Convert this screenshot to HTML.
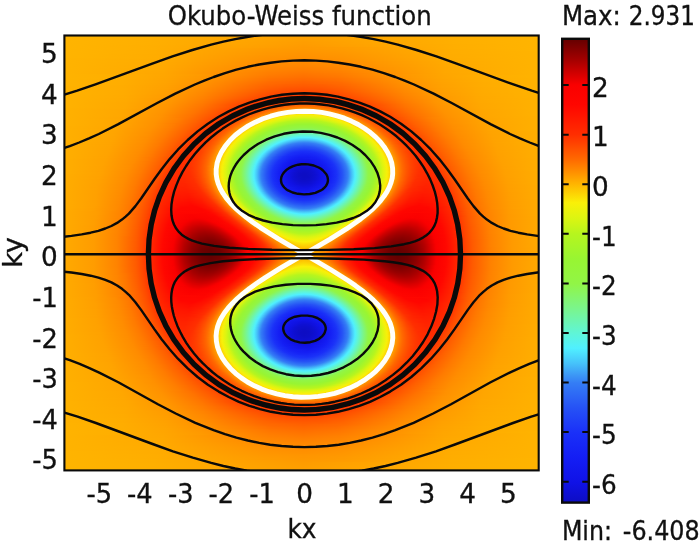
<!DOCTYPE html>
<html><head><meta charset="utf-8"><title>Okubo-Weiss function</title>
<style>
html,body{margin:0;padding:0;background:#fff}
body{width:700px;height:544px;position:relative;overflow:hidden}
#f{position:absolute;left:64px;top:35px;width:475px;height:436px;overflow:hidden}
#f i{display:block;height:1px;width:100%}
</style></head><body>
<div id="f">
<i style="background:linear-gradient(90deg,#ffb400 0,#ffa200 240px,#ffb400 475px)"></i>
<i style="background:linear-gradient(90deg,#ffb400 0,#ffb000 85px,#ffa100 240px,#ffb400 475px)"></i>
<i style="background:linear-gradient(90deg,#ffb400 0,#ffb000 85px,#ffa000 240px,#ffb400 475px)"></i>
<i style="background:linear-gradient(90deg,#ffb400 0,#ffb000 86px,#ffa000 240px,#ffb000 394px,#ffb400 475px)"></i>
<i style="background:linear-gradient(90deg,#ffb400 0,#ffaf00 86px,#ff9f00 240px,#ffaf00 394px,#ffb400 475px)"></i>
<i style="background:linear-gradient(90deg,#ffb400 0,#ffaf00 87px,#ff9f00 240px,#ffaf00 393px,#ffb400 475px)"></i>
<i style="background:linear-gradient(90deg,#ffb400 0,#ffaf00 87px,#ff9e00 240px,#ffaf00 393px,#ffb400 475px)"></i>
<i style="background:linear-gradient(90deg,#ffb400 0,#ffaf00 87px,#ff9d00 240px,#ffaf00 392px,#ffb400 475px)"></i>
<i style="background:linear-gradient(90deg,#ffb400 0,#ffaf00 88px,#ff9d00 240px,#ffaf00 392px,#ffb400 475px)"></i>
<i style="background:linear-gradient(90deg,#ffb400 0,#ffaf00 88px,#ff9c00 240px,#ffae00 391px,#ffb400 475px)"></i>
<i style="background:linear-gradient(90deg,#ffb400 0,#ffae00 89px,#ff9b00 240px,#ffae00 391px,#ffb400 475px)"></i>
<i style="background:linear-gradient(90deg,#ffb400 0,#ffae00 89px,#ff9a00 240px,#ffae00 391px,#ffb400 475px)"></i>
<i style="background:linear-gradient(90deg,#ffb400 0,#ffae00 90px,#f90 240px,#ff9c00 280px,#ffae00 390px,#ffb400 475px)"></i>
<i style="background:linear-gradient(90deg,#ffb400 0,#ffae00 90px,#ff9c00 201px,#f90 240px,#ff9c00 280px,#ffae00 390px,#ffb400 475px)"></i>
<i style="background:linear-gradient(90deg,#ffb400 0,#ffae00 90px,#ff9b00 201px,#ff9800 240px,#ff9b00 279px,#ffad00 389px,#ffb400 475px)"></i>
<i style="background:linear-gradient(90deg,#ffb400 0,#ffad00 91px,#ff9a00 202px,#ff9700 240px,#ff9a00 279px,#ffad00 389px,#ffb400 475px)"></i>
<i style="background:linear-gradient(90deg,#ffb400 0,#ffad00 91px,#f90 202px,#ff9600 240px,#f90 279px,#ffad00 388px,#ffb300 475px)"></i>
<i style="background:linear-gradient(90deg,#ffb400 0,#ffad00 92px,#ff9800 202px,#ff9500 240px,#ff9800 279px,#ffad00 388px,#ffb300 475px)"></i>
<i style="background:linear-gradient(90deg,#ffb400 0,#ffad00 92px,#ff9700 202px,#ff9400 240px,#ff9700 278px,#ffad00 388px,#ffb300 475px)"></i>
<i style="background:linear-gradient(90deg,#ffb400 0,#ffac00 93px,#ff9700 202px,#ff9300 240px,#ff9600 278px,#ffac00 387px,#ffb300 475px)"></i>
<i style="background:linear-gradient(90deg,#ffb400 0,#ffac00 93px,#ff9500 203px,#ff9200 240px,#ff9500 278px,#ffac00 387px,#ffb300 475px)"></i>
<i style="background:linear-gradient(90deg,#ffb400 0,#ffac00 94px,#ff9400 203px,#ff9100 240px,#ff9400 278px,#ffac00 386px,#ffb300 475px)"></i>
<i style="background:linear-gradient(90deg,#ffb400 0,#ffac00 94px,#ff9300 203px,#ff9000 240px,#ff9300 278px,#ffac00 386px,#ffb300 475px)"></i>
<i style="background:linear-gradient(90deg,#ffb300 0,#ffac00 94px,#ff9200 203px,#ff8e00 240px,#ff9200 277px,#ffab00 385px,#ffb300 475px)"></i>
<i style="background:linear-gradient(90deg,#ffb300 0,#ffab00 95px,#ff9100 204px,#ff8d00 240px,#ff9100 277px,#ffab00 385px,#ffb300 475px)"></i>
<i style="background:linear-gradient(90deg,#ffb300 0,#ffab00 95px,#ff9000 204px,#ff8c00 240px,#ff9000 277px,#ffab00 385px,#ffb300 475px)"></i>
<i style="background:linear-gradient(90deg,#ffb300 0,#ffab00 95px,#ff8f00 203px,#ff8b00 240px,#ff8f00 278px,#fa0 384px,#ffb300 475px)"></i>
<i style="background:linear-gradient(90deg,#ffb300 0,#fa0 96px,#ff8e00 202px,#ff8900 240px,#ff8e00 279px,#fa0 384px,#ffb300 475px)"></i>
<i style="background:linear-gradient(90deg,#ffb300 0,#fa0 96px,#ff8d00 202px,#f80 240px,#ff8d00 278px,#fa0 384px,#ffb300 475px)"></i>
<i style="background:linear-gradient(90deg,#ffb300 0,#fa0 96px,#ff8c00 203px,#ff8700 240px,#ff8c00 278px,#ffa900 383px,#ffb300 475px)"></i>
<i style="background:linear-gradient(90deg,#ffb300 0,#ffa900 97px,#ff8a00 203px,#ff8500 240px,#ff8a00 278px,#ffa900 383px,#ffb300 475px)"></i>
<i style="background:linear-gradient(90deg,#ffb300 0,#ffa900 97px,#ff8900 203px,#ff8400 240px,#ff8900 277px,#ffa900 383px,#ffb300 475px)"></i>
<i style="background:linear-gradient(90deg,#ffb300 0,#ffa900 97px,#ff8700 204px,#ff8200 240px,#ff8700 277px,#ffa800 382px,#ffb300 475px)"></i>
<i style="background:linear-gradient(90deg,#ffb300 0,#ffa800 98px,#ff8600 204px,#ff8000 240px,#ff8600 277px,#ffa800 382px,#ffb300 475px)"></i>
<i style="background:linear-gradient(90deg,#ffb300 0,#ffa800 98px,#ff8500 204px,#ff7f00 240px,#ff8500 277px,#ffa800 382px,#ffb300 475px)"></i>
<i style="background:linear-gradient(90deg,#ffb300 0,#ffa800 98px,#ff8300 204px,#ff7d00 240px,#ff8300 276px,#ffa700 381px,#ffb300 475px)"></i>
<i style="background:linear-gradient(90deg,#ffb300 0,#ffa700 99px,#ff8100 205px,#ff7b00 240px,#ff8100 276px,#ffa700 381px,#ffb300 475px)"></i>
<i style="background:linear-gradient(90deg,#ffb300 0,#ffa700 99px,#ff7f00 205px,#ff7900 240px,#ff8000 276px,#ffa700 381px,#ffb300 475px)"></i>
<i style="background:linear-gradient(90deg,#ffb300 0,#ffa600 100px,#ff7e00 205px,#f70 240px,#ff7d00 275px,#ffa600 380px,#ffb300 475px)"></i>
<i style="background:linear-gradient(90deg,#ffb300 0,#ffae00 56px,#ffa600 100px,#ff9a00 136px,#ff7c00 206px,#ff7500 240px,#ff7c00 275px,#ff9a00 345px,#ffa600 380px,#ffb300 475px)"></i>
<i style="background:linear-gradient(90deg,#ffb300 0,#ffae00 56px,#ffa600 100px,#ff9a00 136px,#ff7a00 206px,#ff7300 240px,#ff7a00 275px,#f90 344px,#ffa500 379px,#ffae00 421px,#ffb300 475px)"></i>
<i style="background:linear-gradient(90deg,#ffb300 0,#ffae00 57px,#ffa500 101px,#ff9800 137px,#ff7800 206px,#ff7100 240px,#ff7800 274px,#ff9800 344px,#ffa500 379px,#ffae00 421px,#ffb300 475px)"></i>
<i style="background:linear-gradient(90deg,#ffb300 0,#ffae00 57px,#ffa500 101px,#ff9800 137px,#ff7600 207px,#ff6f00 240px,#ff7600 274px,#ff9800 344px,#ffa500 379px,#ffad00 421px,#ffb300 475px)"></i>
<i style="background:linear-gradient(90deg,#ffb300 0,#ffae00 58px,#ffa400 102px,#ff9700 137px,#ff7300 207px,#ff6c00 240px,#ff7300 274px,#ff9600 343px,#ffa400 378px,#ffad00 421px,#ffb200 475px)"></i>
<i style="background:linear-gradient(90deg,#ffb300 0,#ffad00 58px,#ffa400 102px,#ff9600 137px,#ff7100 207px,#ff6a00 240px,#ff7100 274px,#ff9600 343px,#ffa300 378px,#ffad00 421px,#ffb200 475px)"></i>
<i style="background:linear-gradient(90deg,#ffb300 0,#ffad00 58px,#ffa300 102px,#ff9500 138px,#ff6f00 208px,#ff6800 240px,#ff6f00 273px,#ff9500 343px,#ffa300 378px,#ffad00 420px,#ffb200 475px)"></i>
<i style="background:linear-gradient(90deg,#ffb300 0,#ffad00 58px,#ffa300 102px,#ff9400 138px,#ff6c00 208px,#ff6500 240px,#ff6c00 272px,#ff9400 343px,#ffa300 378px,#ffad00 420px,#ffb200 475px)"></i>
<i style="background:linear-gradient(90deg,#ffb300 0,#ffad00 58px,#ffa300 102px,#ff9300 138px,#ff6a00 207px,#ff6300 240px,#ff6a00 274px,#ff9300 342px,#ffa200 378px,#ffac00 420px,#ffb200 475px)"></i>
<i style="background:linear-gradient(90deg,#ffb300 0,#ffad00 58px,#ffa200 102px,#ff9200 138px,#ff6a00 203px,#ff6100 240px,#ff6a00 278px,#ff9200 342px,#ffa200 378px,#ffac00 420px,#ffb200 475px)"></i>
<i style="background:linear-gradient(90deg,#ffb300 0,#ffad00 58px,#ffa200 102px,#ff9100 139px,#ff6a00 199px,#ff6100 221px,#ff5e00 240px,#ff6100 259px,#ff6900 281px,#ff9100 342px,#ffa100 378px,#ffac00 420px,#ffb200 475px)"></i>
<i style="background:linear-gradient(90deg,#ffb300 0,#ffac00 58px,#ffa100 102px,#ff8d00 143px,#ff6700 200px,#ff5f00 221px,#ff5c00 240px,#ff5e00 259px,#ff6700 280px,#ff8d00 338px,#ffa100 378px,#ffac00 420px,#ffb200 475px)"></i>
<i style="background:linear-gradient(90deg,#ffb200 0,#ffac00 58px,#ffa100 102px,#ff8d00 142px,#ff6400 201px,#ff5c00 222px,#ff5900 240px,#ff5c00 259px,#ff6400 280px,#ff8d00 339px,#ffa100 378px,#ffac00 420px,#ffb200 475px)"></i>
<i style="background:linear-gradient(90deg,#ffb200 0,#ffac00 58px,#ffa000 102px,#ff8c00 141px,#ff6200 202px,#ff5900 222px,#ff5600 240px,#ff5900 258px,#ff6200 279px,#ff8c00 339px,#ffa000 377px,#ffab00 419px,#ffb200 475px)"></i>
<i style="background:linear-gradient(90deg,#ffb200 0,#ffac00 59px,#ffa000 103px,#ff8b00 141px,#ff5f00 203px,#ff5600 222px,#ff5300 240px,#ff5600 258px,#ff5f00 278px,#ff8b00 340px,#ff9f00 377px,#ffab00 419px,#ffb200 475px)"></i>
<i style="background:linear-gradient(90deg,#ffb200 0,#ffac00 59px,#ff9f00 103px,#ff8a00 141px,#ff5c00 203px,#ff5300 222px,#ff5000 240px,#ff5300 258px,#ff5c00 277px,#ff8a00 340px,#ff9f00 377px,#ffab00 419px,#ffb200 475px)"></i>
<i style="background:linear-gradient(90deg,#ffb200 0,#ffab00 59px,#ff9f00 103px,#ff8a00 140px,#ff5900 204px,#ff5000 223px,#ff4d00 240px,#ff5000 257px,#ff5800 276px,#ff8a00 341px,#ff9e00 377px,#ffab00 419px,#ffb200 475px)"></i>
<i style="background:linear-gradient(90deg,#ffb200 0,#ffab00 59px,#ff9e00 103px,#ff8900 140px,#ff5600 205px,#ff4d00 223px,#ff4a00 240px,#ff4c00 257px,#ff5600 276px,#ff8900 341px,#ff9e00 377px,#ffab00 419px,#ffb200 475px)"></i>
<i style="background:linear-gradient(90deg,#ffb200 0,#ffab00 59px,#ff9e00 103px,#f80 139px,#ff5200 206px,#ff4900 224px,#ff4600 240px,#ff4900 257px,#ff5200 275px,#f80 341px,#ff9d00 377px,#ffab00 419px,#ffb200 475px)"></i>
<i style="background:linear-gradient(90deg,#ffb200 0,#ffab00 60px,#ff9d00 104px,#ff8700 139px,#ff4f00 206px,#ff4600 224px,#ff4300 240px,#ff4600 257px,#ff4f00 275px,#ff8600 341px,#ff9c00 376px,#fa0 418px,#ffb200 475px)"></i>
<i style="background:linear-gradient(90deg,#ffb200 0,#ffab00 60px,#ff9c00 104px,#ff8600 139px,#ff4b00 207px,#ff4200 224px,#ff3f00 240px,#ff4200 256px,#ff4b00 274px,#ff8600 342px,#ff9c00 376px,#fa0 418px,#ffb200 475px)"></i>
<i style="background:linear-gradient(90deg,#ffb200 0,#fa0 60px,#ff9b00 104px,#ff8500 139px,#ff4800 207px,#ff3e00 224px,#ff3b00 240px,#ff3e00 256px,#ff4700 273px,#ff8500 342px,#ff9b00 376px,#fa0 418px,#ffb200 475px)"></i>
<i style="background:linear-gradient(90deg,#ffb200 0,#fa0 60px,#ff9b00 104px,#ff8300 139px,#f40 208px,#ff3a00 225px,#ff3700 240px,#ff3a00 256px,#f40 273px,#ff8300 342px,#ff9a00 376px,#ffa900 418px,#ffb200 475px)"></i>
<i style="background:linear-gradient(90deg,#ffb200 0,#fa0 61px,#ff9a00 105px,#ff8200 139px,#ff4000 208px,#ff3600 225px,#ff3200 240px,#ff3500 255px,#ff3f00 272px,#ff8200 342px,#f90 375px,#ffa900 417px,#ffb200 475px)"></i>
<i style="background:linear-gradient(90deg,#ffb200 0,#ffa900 62px,#ff9800 106px,#ff8100 139px,#ff3c00 208px,#ff2e00 236px,#ff3000 252px,#ff3a00 270px,#ff8100 342px,#f90 376px,#ffa900 418px,#ffb100 475px)"></i>
<i style="background:linear-gradient(90deg,#ffb200 0,#ffa900 62px,#ff9700 107px,#ff8100 137px,#ff3f00 200px,#ff2e00 222px,#ff3500 239px,#ff2e00 259px,#ff3200 265px,#ff8100 344px,#ff9b00 381px,#fa0 421px,#ffb100 475px)"></i>
<i style="background:linear-gradient(90deg,#ffb200 0,#ffa900 63px,#ff9600 108px,#ff7e00 139px,#ff2e00 215px,#ff3900 229px,#ff3d00 240px,#ff3900 252px,#ff2e00 266px,#ff7e00 342px,#ff9500 372px,#ffa800 415px,#ffb100 475px)"></i>
<i style="background:linear-gradient(90deg,#ffb200 0,#ffa900 62px,#ff9600 107px,#ff7c00 139px,#ff2f00 209px,#ff4000 227px,#ff4500 241px,#ff3f00 255px,#ff2e00 271px,#ff7c00 342px,#ff9500 372px,#ffa800 415px,#ffb100 475px)"></i>
<i style="background:linear-gradient(90deg,#ffb200 0,#ffa800 63px,#ff9500 107px,#ff7b00 139px,#ff2e00 205px,#ff4600 225px,#ff4d00 240px,#ff4600 256px,#ff2e00 276px,#ff7a00 341px,#ff9500 373px,#ffa800 416px,#ffb100 475px)"></i>
<i style="background:linear-gradient(90deg,#ffb200 0,#ffa800 62px,#ff9500 106px,#ff7900 139px,#ff2e00 201px,#ff4c00 223px,#f50 240px,#ff4d00 257px,#ff2e00 280px,#ff7800 341px,#ff9400 373px,#ffa700 416px,#ffb100 475px)"></i>
<i style="background:linear-gradient(90deg,#ffb200 0,#ffa800 62px,#ff9400 106px,#f70 139px,#ff2e00 197px,#f50 223px,#ff5f00 240px,#ff5c00 249px,#ff5400 258px,#ff2f00 284px,#f70 342px,#ff9400 374px,#ffa700 416px,#ffb100 475px)"></i>
<i style="background:linear-gradient(90deg,#ffb200 0,#ffa800 62px,#ff9400 105px,#f70 138px,#ff2e00 194px,#ff5b00 221px,#ff6500 231px,#ff6800 240px,#ff6500 249px,#ff5c00 259px,#ff2e00 287px,#ff7600 342px,#ff9300 374px,#ffa700 416px,#ffb100 475px)"></i>
<i style="background:linear-gradient(90deg,#ffb200 0,#ffa800 61px,#ff9400 104px,#ff7600 137px,#ff5600 163px,#ff2e00 191px,#ff6000 218px,#ff7300 236px,#ff7300 246px,#ff6700 258px,#ff2e00 290px,#f50 317px,#ff7500 343px,#ff9300 375px,#ffa700 417px,#ffb100 475px)"></i>
<i style="background:linear-gradient(90deg,#ffb200 0,#ffa800 61px,#ff9300 104px,#ff7600 136px,#f50 162px,#ff2e00 188px,#ff7000 222px,#ff8000 236px,#ff8000 245px,#ff7600 255px,#ff2e00 293px,#ff5400 318px,#ff7500 344px,#ff9300 376px,#ffa700 417px,#ffb100 475px)"></i>
<i style="background:linear-gradient(90deg,#ffb100 0,#ffa800 60px,#ff9300 103px,#ff7500 135px,#ff5400 161px,#ff2e00 185px,#ff7c00 222px,#ff8d00 236px,#ff8c00 246px,#ff8100 256px,#ff2f00 296px,#ff5400 320px,#ff7400 345px,#ff9300 377px,#ffa700 418px,#ffb100 475px)"></i>
<i style="background:linear-gradient(90deg,#ffb100 0,#ffa700 60px,#ff9300 102px,#ff7500 134px,#f50 158px,#ff2f00 183px,#ff8d00 224px,#ff9a00 234px,#ff9c00 244px,#ff9500 252px,#ff8700 260px,#ff2e00 298px,#ff5400 322px,#ff7500 347px,#ff9300 378px,#ffa600 418px,#ffb100 475px)"></i>
<i style="background:linear-gradient(90deg,#ffb100 0,#ffa700 59px,#ff9300 101px,#ff7400 133px,#ff5300 158px,#ff2e00 180px,#ff4b00 193px,#ff9700 222px,#ffa500 230px,#ffab00 237px,#ffa900 247px,#ff9b00 257px,#ff4800 289px,#ff2f00 301px,#ff5300 323px,#ff7300 347px,#ff9200 378px,#ffa600 418px,#ffb100 475px)"></i>
<i style="background:linear-gradient(90deg,#ffb100 0,#ffa700 59px,#ff9300 100px,#ff7400 132px,#ff5300 156px,#ff2e00 178px,#ff5a00 196px,#ffa300 221px,#ffb200 229px,#ffba01 237px,#ffb800 247px,#ffa900 257px,#ff9600 265px,#ff5400 287px,#ff2e00 303px,#ff5300 325px,#ff7300 348px,#ff9200 379px,#ffa600 419px,#ffb100 475px)"></i>
<i style="background:linear-gradient(90deg,#ffb100 0,#ffa700 58px,#ff9300 99px,#ff7400 131px,#f50 153px,#ff2f00 176px,#ff6200 196px,#ff9e00 214px,#ffb600 223px,#fec702 233px,#fdcb03 243px,#fec302 251px,#ffb100 260px,#ff9a00 268px,#ff6700 283px,#ff4300 296px,#ff2e00 305px,#ff5400 327px,#ff7400 350px,#ff9200 380px,#ffa600 420px,#ffb100 475px)"></i>
<i style="background:linear-gradient(90deg,#ffb100 0,#ffa700 58px,#ff9200 99px,#ff7500 129px,#ff5600 151px,#ff2f00 174px,#ff4700 184px,#ff6a00 196px,#ffa500 212px,#fec302 222px,#fcd705 233px,#fcdb05 243px,#fcd304 251px,#fec101 260px,#ffa500 269px,#ff6a00 285px,#ff4700 297px,#ff2f00 307px,#f50 329px,#ff7300 351px,#ff9200 381px,#ffa600 420px,#ffb100 475px)"></i>
<i style="background:linear-gradient(90deg,#ffb100 0,#ffa700 58px,#ff9200 98px,#ff7300 129px,#ff5200 152px,#ff2f00 171px,#ff4200 180px,#ff6900 193px,#ffac00 210px,#fdce03 220px,#fbe306 229px,#faec07 238px,#fbe807 248px,#fdd304 259px,#ffaf00 270px,#ff6800 288px,#f40 300px,#ff2f00 309px,#f50 331px,#ff7300 352px,#ff9200 382px,#ffa600 421px,#ffb100 475px)"></i>
<i style="background:linear-gradient(90deg,#ffb100 0,#ffa700 57px,#ff9200 97px,#ff7200 128px,#ff5300 150px,#ff2f00 169px,#ff4000 177px,#ff6400 189px,#fdca03 214px,#fbe306 222px,#f9f008 228px,#f1f10b 241px,#f9f008 253px,#faeb07 256px,#fec202 269px,#ff6a00 290px,#ff4700 301px,#ff2f00 311px,#ff5400 332px,#ff7300 353px,#ff9100 382px,#ffa600 421px,#ffb100 475px)"></i>
<i style="background:linear-gradient(90deg,#ffb100 0,#ffa700 56px,#ff9300 96px,#ff7400 126px,#f50 147px,#ff2f00 168px,#ff4500 177px,#ff6800 188px,#fdc903 210px,#f9f008 221px,#ebf20d 231px,#e6f30e 240px,#ebf20d 250px,#faf008 260px,#fdc903 271px,#ff6700 293px,#ff4500 304px,#ff2f00 313px,#ff5400 333px,#ff7200 354px,#ff9100 383px,#ffa600 421px,#ffb000 475px)"></i>
<i style="background:linear-gradient(90deg,#ffb100 0,#ffa600 57px,#ff9200 96px,#ff7200 126px,#ff5400 146px,#ff2f00 166px,#ff4500 175px,#ff6800 186px,#ffb300 202px,#faf008 216px,#e3f40f 228px,#dbf512 240px,#e2f40f 252px,#faf008 265px,#ffb800 278px,#ff6800 295px,#f40 306px,#ff2f00 315px,#ff6200 344px,#ff7f00 365px,#ff9100 384px,#ffa600 422px,#ffb000 475px)"></i>
<i style="background:linear-gradient(90deg,#ffb100 0,#ffa600 56px,#ff9200 95px,#ff7f00 115px,#ff6200 136px,#ff4c00 149px,#ff2e00 164px,#f40 173px,#ff6900 184px,#ffb700 200px,#faf008 212px,#e6f30e 220px,#d6f513 229px,#cdf516 240px,#d6f513 252px,#e7f30e 261px,#faf008 269px,#ffb600 281px,#ff6800 297px,#f40 308px,#ff2e00 317px,#ff4b00 331px,#ff6200 345px,#ff7e00 365px,#ff9000 384px,#ffa500 422px,#ffb000 475px)"></i>
<i style="background:linear-gradient(90deg,#ffb100 0,#ffa700 55px,#ff9200 94px,#ff7f00 114px,#ff6300 134px,#ff4c00 148px,#ff2e00 162px,#f40 171px,#ff6800 182px,#ffb500 197px,#faee08 208px,#eaf20d 214px,#c7f518 230px,#c0f51b 236px,#bff51b 242px,#c3f51a 248px,#ccf517 254px,#f9f008 272px,#ffb400 284px,#ff6800 299px,#ff4300 310px,#ff2e00 319px,#ff4a00 332px,#ff6100 346px,#ff7d00 366px,#ff9000 385px,#ffa500 422px,#ffb000 475px)"></i>
<i style="background:linear-gradient(90deg,#ffb100 0,#ffa600 55px,#ff9200 93px,#ff7e00 113px,#ff6200 133px,#ff4b00 147px,#ff2f00 160px,#ff4300 169px,#ff6800 180px,#ffb700 195px,#faee08 205px,#daf512 216px,#c4f519 224px,#b7f51e 231px,#b3f520 239px,#b5f51f 247px,#baf51d 252px,#c7f518 258px,#f8f009 275px,#faed08 276px,#ffb600 286px,#ff6c00 300px,#ff4800 310px,#ff2f00 320px,#ff6300 348px,#ff7f00 368px,#ff9000 386px,#ffa500 423px,#ffb000 475px)"></i>
<i style="background:linear-gradient(90deg,#ffb100 0,#ffa600 55px,#ff9100 93px,#ff7e00 112px,#ff6200 132px,#ff4e00 144px,#ff2f00 159px,#ff4800 169px,#ff6b00 179px,#ffb800 193px,#faed08 202px,#f9f008 203px,#dbf512 212px,#b6f51e 224px,#adf524 235px,#adf524 246px,#b6f51e 257px,#dbf512 269px,#f9f008 278px,#ffb700 288px,#ff6b00 302px,#ff4700 312px,#ff2e00 322px,#ff4c00 336px,#ff6200 349px,#ff7f00 369px,#ff9000 387px,#ffa500 424px,#ffb000 475px)"></i>
<i style="background:linear-gradient(90deg,#ffb100 0,#ffa600 54px,#ff9100 92px,#ff7e00 111px,#ff6200 131px,#ff4b00 144px,#ff2e00 157px,#ff4300 166px,#ff6a00 177px,#ff8f00 184px,#ffb800 191px,#faf008 200px,#daf512 209px,#b9f51d 218px,#b3f520 221px,#a6f529 234px,#a5f529 246px,#b6f51e 262px,#dbf512 272px,#faef08 281px,#ffb800 290px,#ff8e00 297px,#ff6900 304px,#ff4300 315px,#ff2f00 324px,#ff4900 336px,#ff6000 349px,#ff7d00 369px,#ff9000 387px,#ffa500 424px,#ffb000 475px)"></i>
<i style="background:linear-gradient(90deg,#ffb100 0,#ffa600 54px,#ff9100 91px,#ff7200 119px,#ff5400 138px,#ff2f00 156px,#ff4500 165px,#ff6800 175px,#ff8d00 182px,#ffb800 189px,#f9f008 198px,#daf512 206px,#b6f51e 215px,#adf524 220px,#9ff52e 233px,#9df52f 245px,#a5f529 255px,#b6f51e 266px,#f9f008 283px,#ffb800 292px,#ff6d00 305px,#ff4800 315px,#ff2f00 325px,#ff6200 351px,#ff7d00 370px,#ff9000 388px,#ffa500 424px,#ffb000 475px)"></i>
<i style="background:linear-gradient(90deg,#ffb100 0,#ffa600 54px,#ff9100 91px,#ff7e00 109px,#ff6100 129px,#ff4a00 142px,#ff2e00 154px,#ff4600 164px,#ff6b00 174px,#ff9800 182px,#ffb700 187px,#faed08 195px,#f8f009 196px,#dcf511 203px,#b8f51d 211px,#a3f52b 222px,#98f532 232px,#98f532 249px,#a1f52c 258px,#b5f51f 269px,#f8f008 285px,#ffb700 294px,#ff9100 300px,#ff6a00 307px,#ff4600 317px,#ff2e00 327px,#ff4a00 339px,#ff6000 351px,#ff7c00 370px,#ff8e00 387px,#ffa400 423px,#ffb000 475px)"></i>
<i style="background:linear-gradient(90deg,#ffb100 0,#ffa600 53px,#ff9100 90px,#ff7e00 108px,#ff6200 127px,#ff4f00 138px,#ff2f00 153px,#ff4500 162px,#ff6900 172px,#ff9600 180px,#ffb600 185px,#faed08 193px,#f8f009 194px,#daf512 201px,#b5f51f 209px,#98f532 224px,#95f53a 240px,#98f533 256px,#b5f51f 272px,#f8f009 287px,#ffb500 296px,#ff8f00 302px,#ff6800 309px,#f40 319px,#ff2f00 328px,#ff6100 353px,#ff7c00 371px,#ff8e00 388px,#ffa400 424px,#ffb000 475px)"></i>
<i style="background:linear-gradient(90deg,#ffb000 0,#ffa600 52px,#ff9100 89px,#ff7e00 107px,#ff6200 126px,#ff4b00 139px,#ff2e00 151px,#ff4600 161px,#ff6b00 171px,#f90 179px,#faec07 191px,#f8f009 192px,#d9f512 199px,#b5f51f 206px,#99f531 219px,#95f53b 229px,#94f53f 239px,#94f53d 248px,#97f536 258px,#99f531 262px,#b5f51e 275px,#f8f009 289px,#ffb300 298px,#ff8c00 304px,#ff6a00 310px,#ff4200 321px,#ff2f00 330px,#ff4900 341px,#ff5f00 353px,#ff7c00 372px,#ff8d00 388px,#ffa400 424px,#ffb000 475px)"></i>
<i style="background:linear-gradient(90deg,#ffb000 0,#ffa600 52px,#ff9100 88px,#ff7f00 106px,#ff6200 125px,#ff4c00 137px,#ff2f00 150px,#f40 159px,#ff6800 169px,#ff9600 177px,#ffb800 182px,#faeb07 189px,#f9f008 190px,#d8f513 197px,#b7f51e 203px,#98f532 216px,#94f53f 227px,#92f544 237px,#92f543 247px,#95f53c 257px,#98f532 265px,#b4f51f 277px,#f9f008 291px,#ffb700 299px,#ff9600 304px,#ff6d00 311px,#ff4700 321px,#ff2e00 331px,#ff4c00 344px,#ff6100 355px,#ff7c00 373px,#ff8e00 389px,#ffa400 425px,#ffb000 475px)"></i>
<i style="background:linear-gradient(90deg,#ffb000 0,#ffa500 52px,#ff9000 88px,#ff7d00 106px,#ff6200 124px,#ff4c00 136px,#ff2f00 148px,#ff4200 157px,#ff6a00 168px,#f90 176px,#ffb500 180px,#faf008 188px,#d8f513 195px,#b6f51e 201px,#99f531 212px,#8ef550 236px,#8ef550 245px,#99f531 269px,#b6f51e 280px,#d9f512 286px,#faef08 293px,#ffb400 301px,#f90 305px,#ff6900 313px,#f40 323px,#ff2f00 332px,#ff6000 356px,#ff7c00 374px,#ff8e00 390px,#ffa400 425px,#ffb000 475px)"></i>
<i style="background:linear-gradient(90deg,#ffb000 0,#ffa600 51px,#ff9000 87px,#ff7d00 105px,#ff6200 123px,#ff4b00 135px,#ff2e00 147px,#ff4500 157px,#ff6b00 167px,#ff9c00 175px,#faed08 186px,#d9f512 193px,#b6f51e 199px,#98f533 210px,#91f547 224px,#8cf556 229px,#88f560 234px,#87f565 239px,#87f564 244px,#8af55b 250px,#91f546 257px,#9af531 272px,#b6f51e 282px,#daf512 288px,#f7f009 294px,#faed08 295px,#ffb800 302px,#ff8e00 308px,#ff6b00 314px,#ff4500 324px,#ff2e00 334px,#ff4900 345px,#ff5f00 356px,#ff7b00 374px,#ff8d00 390px,#ffa400 425px,#ffb000 475px)"></i>
<i style="background:linear-gradient(90deg,#ffb000 0,#ffa500 51px,#ff9100 86px,#ff7e00 104px,#ff6200 122px,#ff4d00 133px,#ff2f00 146px,#ff4300 155px,#ff6800 165px,#ff9800 173px,#ffb400 177px,#f9f008 185px,#dbf512 191px,#b6f51e 197px,#98f532 207px,#91f545 219px,#89f560 226px,#83f570 232px,#81f578 241px,#84f56d 250px,#89f55f 255px,#91f545 262px,#98f532 274px,#b6f51e 284px,#dbf512 290px,#f9f008 296px,#ff9e00 307px,#ff6c00 315px,#ff4600 325px,#ff2e00 335px,#ff4b00 347px,#ff6000 358px,#ff7b00 375px,#ff8d00 391px,#ffa400 426px,#ffb000 475px)"></i>
<i style="background:linear-gradient(90deg,#ffb000 0,#ffa500 50px,#ff9100 85px,#ff7f00 102px,#ff6300 120px,#ff4f00 131px,#ff2f00 145px,#f40 154px,#ff6900 164px,#ff9300 171px,#ffb700 176px,#faee08 183px,#f6f109 184px,#dcf511 189px,#b6f51e 195px,#98f533 205px,#91f546 216px,#86f567 223px,#7ff57e 230px,#7bf587 235px,#7af58b 240px,#7bf589 245px,#7ff57e 251px,#86f567 258px,#91f546 265px,#98f532 276px,#b7f51e 286px,#d7f513 291px,#f7f109 297px,#faed08 298px,#ffb600 305px,#ff9200 310px,#ff6800 317px,#ff4300 327px,#ff2f00 336px,#ff6000 359px,#ff7b00 376px,#ff8d00 392px,#ffa300 426px,#ffaf00 475px)"></i>
<i style="background:linear-gradient(90deg,#ffb000 0,#ffa500 50px,#ff9000 85px,#ff7e00 102px,#ff6200 120px,#ff4a00 132px,#ff2e00 143px,#f40 153px,#ff6a00 163px,#ff9b00 171px,#ffb900 175px,#f9f008 182px,#d9f512 188px,#b8f51d 193px,#9af531 202px,#91f546 213px,#83f570 221px,#79f58e 229px,#74f59c 235px,#73f59f 240px,#74f59d 245px,#78f591 251px,#82f574 259px,#91f546 268px,#98f533 278px,#b4f51f 287px,#daf512 293px,#faf008 299px,#ffb800 306px,#ff9b00 310px,#ff6900 318px,#f40 328px,#ff2e00 338px,#ff4800 348px,#ff5e00 359px,#ff7b00 377px,#ff8d00 392px,#ffa300 426px,#ffaf00 475px)"></i>
<i style="background:linear-gradient(90deg,#ffb000 0,#ffa500 49px,#ff9000 84px,#ff7e00 101px,#ff6200 119px,#ff4c00 130px,#ff2e00 142px,#f40 152px,#ff6a00 162px,#ff9600 169px,#ffb300 173px,#faec07 180px,#f7f009 181px,#dcf511 186px,#b5f51f 192px,#9af531 200px,#91f545 210px,#80f579 219px,#73f59f 228px,#6ef5ae 234px,#6cf5b4 240px,#6df5b0 246px,#73f59f 253px,#7ff57d 261px,#91f545 271px,#98f533 280px,#b5f51f 289px,#ddf511 295px,#f8f009 300px,#faeb07 301px,#ffba01 307px,#ff9500 312px,#ff6a00 319px,#f40 329px,#ff2e00 339px,#ff4a00 350px,#ff6000 361px,#ff7b00 378px,#ff8d00 393px,#ffa300 427px,#ffaf00 475px)"></i>
<i style="background:linear-gradient(90deg,#ffb000 0,#ffa500 49px,#ff9000 84px,#ff7d00 101px,#ff6200 118px,#ff4c00 129px,#ff2f00 141px,#f40 151px,#ff6b00 161px,#ff9000 167px,#ffb500 172px,#faef08 179px,#f5f109 180px,#daf512 185px,#b7f51e 190px,#98f533 199px,#91f546 208px,#7ef57f 217px,#6df5af 227px,#66f5c3 234px,#64f5c8 240px,#66f5c2 247px,#6df5af 254px,#7ef57f 264px,#91f546 273px,#98f532 282px,#b8f51d 291px,#daf512 296px,#f6f109 301px,#faee08 302px,#ffb400 309px,#ff8f00 314px,#ff6a00 320px,#f40 330px,#ff2e00 340px,#ff4c00 352px,#ff6000 362px,#ff7c00 379px,#ff8d00 394px,#ffa300 428px,#ffaf00 475px)"></i>
<i style="background:linear-gradient(90deg,#ffb000 0,#ffa500 49px,#ff9000 83px,#ff7d00 100px,#ff6200 117px,#ff4e00 127px,#ff2f00 140px,#ff4500 150px,#ff6b00 160px,#ff9f00 168px,#f9f008 178px,#d7f513 184px,#b5f51f 189px,#98f532 197px,#90f548 206px,#83f572 212px,#76f597 218px,#68f5bf 226px,#60f5d5 233px,#5df4dc 240px,#5ff5d7 247px,#66f5c3 254px,#76f597 263px,#83f571 269px,#91f547 275px,#98f532 284px,#b5f51f 292px,#d8f513 297px,#faf008 303px,#ff9e00 313px,#ff6a00 321px,#f40 331px,#ff2f00 341px,#ff6000 363px,#ff7c00 380px,#ff8d00 395px,#ffa300 428px,#ffaf00 475px)"></i>
<i style="background:linear-gradient(90deg,#ffb000 0,#ffa400 50px,#ff8e00 84px,#ff7c00 100px,#ff6000 117px,#ff4900 128px,#ff2f00 138px,#ff3f00 147px,#ff6200 157px,#ff8300 163px,#ffb700 170px,#f8f009 177px,#dcf511 182px,#b8f51d 187px,#99f531 195px,#90f548 204px,#82f575 210px,#71f5a4 217px,#60f5d3 226px,#59f3e7 233px,#56f2ee 240px,#59f3e7 248px,#61f5d2 255px,#72f5a3 264px,#82f574 271px,#91f547 277px,#9af531 286px,#b9f51d 294px,#dcf511 299px,#f9f008 304px,#ff9f00 314px,#ff6a00 322px,#f40 332px,#ff2f00 342px,#ff6000 364px,#ff7b00 380px,#ff8c00 395px,#ffa300 428px,#ffaf00 475px)"></i>
<i style="background:linear-gradient(90deg,#ffb000 0,#ffa400 50px,#ff8d00 84px,#ff7c00 99px,#ff6000 116px,#ff4900 127px,#ff2e00 137px,#ff3f00 146px,#ff6200 156px,#ff8300 162px,#ffb700 169px,#faeb07 175px,#f8f009 176px,#dbf512 181px,#b6f51e 186px,#9bf530 193px,#91f546 202px,#81f576 208px,#6df5b0 216px,#60f5d4 222px,#5af3e5 226px,#54f1f4 231px,#51f0fc 235px,#50f0ff 243px,#54f1f4 250px,#5ff5d8 258px,#72f5a2 267px,#91f546 279px,#98f532 287px,#b6f51e 295px,#dbf512 300px,#f8f009 305px,#ffb700 312px,#ff8300 319px,#ff6100 325px,#ff3f00 335px,#ff2f00 344px,#ff4a00 354px,#ff6000 365px,#ff7b00 381px,#ff8d00 396px,#ffa300 429px,#ffaf00 475px)"></i>
<i style="background:linear-gradient(90deg,#ffb000 0,#ffa400 49px,#ff8e00 83px,#ff7c00 98px,#ff6000 115px,#ff4900 126px,#ff2e00 136px,#ff4100 146px,#ff6100 155px,#ff8300 161px,#ffb800 168px,#faec07 174px,#f7f009 175px,#d9f512 180px,#b5f51f 185px,#99f531 192px,#91f545 200px,#74f59e 211px,#64f5c9 217px,#5af3e5 222px,#51f0fd 228px,#4cdffd 235px,#4bdbfd 240px,#4cdffd 246px,#50efff 252px,#57f2ed 257px,#62f5cf 263px,#71f5a5 269px,#91f545 281px,#9af531 289px,#b5f51f 296px,#daf512 301px,#f7f009 306px,#faeb07 307px,#ffb700 313px,#ff8300 320px,#ff6100 326px,#ff3e00 336px,#ff2e00 345px,#ff4900 355px,#ff5f00 365px,#ff7b00 382px,#ff8c00 396px,#ffa300 429px,#ffaf00 475px)"></i>
<i style="background:linear-gradient(90deg,#ffb000 0,#ffa400 49px,#ff8d00 83px,#ff7b00 98px,#ff6000 114px,#ff4c00 124px,#ff2e00 135px,#ff4100 145px,#ff6100 154px,#ff8300 160px,#ffb800 167px,#faec07 173px,#f7f109 174px,#d8f513 179px,#b4f51f 184px,#98f532 191px,#92f544 198px,#90f54a 199px,#73f59f 209px,#62f5cd 215px,#59f3e6 219px,#50f0ff 224px,#49d2fc 232px,#47c7fa 240px,#49d0fb 248px,#4bdbfd 252px,#50f0fe 257px,#5af3e6 262px,#63f5cd 266px,#73f59e 272px,#90f549 282px,#92f544 283px,#98f532 290px,#b4f51f 297px,#d9f512 302px,#f7f009 307px,#faeb07 308px,#ffb700 314px,#ff8200 321px,#ff6100 327px,#ff4100 336px,#ff2e00 346px,#ff4900 356px,#ff5f00 366px,#ff7b00 383px,#ff8c00 397px,#ffa300 429px,#ffaf00 475px)"></i>
<i style="background:linear-gradient(90deg,#ffb000 0,#ffa400 48px,#ff8d00 82px,#ff7b00 97px,#ff6100 113px,#ff4c00 123px,#ff2e00 134px,#ff4100 144px,#ff6100 153px,#ff8200 159px,#ffb700 166px,#faec07 172px,#f6f109 173px,#d8f513 178px,#b3f520 183px,#98f533 190px,#91f546 197px,#64f5c8 212px,#5cf4de 215px,#51f0fc 220px,#4fedff 221px,#49cffb 227px,#45bdf9 232px,#43b3f8 236px,#42b0f8 240px,#42b2f8 244px,#45bef9 249px,#4ad4fc 255px,#50eeff 260px,#56f2f0 263px,#62f5cf 268px,#91f546 284px,#98f533 291px,#b4f520 298px,#d8f513 303px,#f7f009 308px,#faeb07 309px,#febf01 314px,#f80 321px,#ff6f00 325px,#ff6000 328px,#ff4000 337px,#ff2e00 347px,#ff4900 357px,#ff5f00 367px,#ff7a00 383px,#ff8b00 397px,#ffa200 429px,#ffaf00 475px)"></i>
<i style="background:linear-gradient(90deg,#ffb000 0,#ffa400 48px,#ff8e00 81px,#ff7c00 96px,#ff6100 112px,#ff4c00 122px,#ff2e00 133px,#ff3700 139px,#ff4300 144px,#ff6900 154px,#ff9600 161px,#ffb600 165px,#faec07 171px,#f7f109 172px,#def411 176px,#b3f520 182px,#9af531 188px,#90f549 196px,#61f5d2 211px,#54f1f5 216px,#50eeff 218px,#49d0fb 223px,#41adf8 230px,#3e9ef6 235px,#3c98f5 240px,#3d9cf6 245px,#40aaf7 250px,#49d0fb 258px,#50efff 263px,#61f5d1 270px,#90f548 285px,#98f533 292px,#b3f520 299px,#d8f513 304px,#f7f009 309px,#faeb07 310px,#fec702 314px,#ff8e00 321px,#ff6400 328px,#ff4000 338px,#ff2e00 348px,#ff4a00 358px,#ff5f00 368px,#ff7a00 384px,#ff8c00 398px,#ffa200 430px,#ffaf00 475px)"></i>
<i style="background:linear-gradient(90deg,#ffb000 0,#ffa300 48px,#ff8d00 81px,#ff7c00 95px,#ff6100 111px,#ff4c00 121px,#ff2e00 132px,#ff3700 138px,#ff4200 143px,#ff6800 153px,#ff9500 160px,#ffb500 164px,#faeb07 170px,#f7f009 171px,#def411 175px,#b7f51e 180px,#b2f520 181px,#99f531 187px,#91f545 194px,#61f5d1 209px,#51f0fe 215px,#43b5f8 224px,#3d9bf6 229px,#388af5 234px,#3683f5 240px,#3786f5 245px,#3c97f5 251px,#42b0f8 256px,#4febfe 265px,#51f0fd 266px,#5ef5d9 271px,#91f545 287px,#9af531 294px,#b3f520 300px,#d8f513 305px,#f8f009 310px,#faea07 311px,#fec602 315px,#ff8d00 322px,#ff6300 329px,#ff3f00 339px,#ff2e00 349px,#ff4a00 359px,#ff5f00 369px,#ff7b00 385px,#ff8c00 399px,#ffa300 431px,#ffaf00 475px)"></i>
<i style="background:linear-gradient(90deg,#ffaf00 0,#ffa400 47px,#ff8d00 80px,#ff7c00 94px,#ff6100 110px,#ff4c00 120px,#ff2e00 131px,#ff3f00 141px,#ff5e00 150px,#ff6c00 153px,#ff8500 157px,#febc01 164px,#faea07 169px,#f8f009 170px,#d8f513 175px,#b7f51e 179px,#b2f520 180px,#99f532 186px,#91f546 193px,#62f5cf 207px,#50f0ff 213px,#40a6f7 223px,#388af5 228px,#347cf5 232px,#3175f5 240px,#337af5 248px,#3786f5 252px,#40a7f7 258px,#50f0fe 268px,#62f5ce 274px,#91f546 288px,#99f531 295px,#b3f520 301px,#d9f512 306px,#f8f009 311px,#ffbc01 317px,#ff9b00 321px,#ff6b00 328px,#f50 333px,#ff4200 339px,#ff3600 344px,#ff2e00 350px,#ff4a00 360px,#ff6000 370px,#ff7a00 385px,#ff8b00 399px,#ffa200 431px,#ffaf00 475px)"></i>
<i style="background:linear-gradient(90deg,#ffaf00 0,#ffa300 47px,#ff8c00 80px,#ff7b00 94px,#ff6000 110px,#ff4c00 119px,#ff2e00 130px,#ff3f00 140px,#ff5d00 149px,#ff6a00 152px,#ff8400 156px,#ffbb01 163px,#f8f008 169px,#d9f512 174px,#b7f51e 178px,#b2f520 179px,#98f532 185px,#90f548 192px,#5ff5d6 206px,#50f0ff 211px,#3e9ff6 221px,#357ff5 226px,#3070f5 233px,#2e6af5 240px,#3070f5 248px,#3580f5 255px,#3ea0f6 260px,#50f0fe 270px,#60f5d5 275px,#91f547 289px,#99f531 296px,#b3f520 302px,#d9f512 307px,#f9f008 312px,#ffba01 318px,#f90 322px,#ff6a00 329px,#ff5100 335px,#ff4100 340px,#ff3600 345px,#ff2e00 351px,#ff4a00 361px,#ff6000 371px,#ff7a00 386px,#ff8c00 400px,#ffa200 431px,#ffaf00 475px)"></i>
<i style="background:linear-gradient(90deg,#ffaf00 0,#ffa400 46px,#ff8d00 79px,#ff7c00 93px,#ff6000 109px,#ff4a00 119px,#ff2e00 129px,#ff3500 135px,#ff4000 140px,#ff5000 145px,#ff6900 151px,#ffa000 159px,#faf008 168px,#daf512 173px,#b3f520 178px,#98f532 184px,#90f549 191px,#61f5d1 204px,#51f0fd 209px,#3d9af5 219px,#347df5 223px,#2d67f5 232px,#2a5ff5 240px,#2d67f5 249px,#347ef5 258px,#3d9bf6 262px,#4feafe 271px,#51f0fc 272px,#5ef5da 276px,#90f548 290px,#99f531 297px,#b3f520 303px,#daf512 308px,#faf008 313px,#fdca03 317px,#ff8f00 324px,#ff6400 331px,#ff4000 341px,#ff3500 346px,#ff2e00 352px,#ff4a00 362px,#ff5e00 371px,#ff7a00 387px,#ff8b00 400px,#ffa200 431px,#ffae00 475px)"></i>
<i style="background:linear-gradient(90deg,#ffaf00 0,#ffa300 46px,#ff8d00 78px,#ff7c00 92px,#ff6000 108px,#ff4a00 118px,#ff2e00 128px,#ff3500 134px,#ff4000 139px,#ff5200 145px,#ff6800 150px,#ff9600 157px,#ffb600 161px,#faef08 167px,#f5f10a 168px,#dbf512 172px,#b3f520 177px,#98f532 183px,#90f54a 190px,#5ff5d6 203px,#52f1fa 207px,#4fecff 208px,#3c97f5 217px,#357ff5 220px,#2f6df5 225px,#2b60f5 230px,#2755f5 240px,#2857f5 245px,#2a5ef5 250px,#337bf5 260px,#3c98f5 264px,#4fedff 273px,#52f1f9 274px,#60f5d5 278px,#90f549 291px,#99f531 298px,#b4f520 304px,#dcf512 309px,#f5f109 313px,#faee08 314px,#fdc702 318px,#ff8600 326px,#ff6c00 330px,#ff5e00 333px,#ff3d00 343px,#ff2e00 353px,#ff4b00 363px,#ff5f00 372px,#ff7b00 388px,#ff8b00 401px,#ffa200 432px,#ffae00 475px)"></i>
<i style="background:linear-gradient(90deg,#ffaf00 0,#ffa300 46px,#ff8c00 78px,#ff7b00 92px,#ff6100 107px,#ff4b00 117px,#ff2e00 127px,#ff3c00 137px,#ff5d00 147px,#ff6b00 150px,#ff8500 154px,#febd01 161px,#faec07 166px,#f6f109 167px,#dcf511 171px,#b4f51f 176px,#99f531 182px,#92f544 188px,#90f54a 189px,#62f5ce 201px,#50f0fe 206px,#3c96f5 215px,#347df5 218px,#2d66f5 224px,#2756f5 230px,#244cf6 240px,#254ff5 246px,#2756f5 251px,#2d66f5 257px,#347df5 263px,#3c97f5 266px,#51f0fd 275px,#5ff5d8 279px,#90f549 292px,#99f531 299px,#b4f51f 305px,#ddf511 310px,#f7f009 314px,#faeb07 315px,#ff9a00 324px,#ff6a00 331px,#f50 336px,#ff4100 342px,#ff3400 348px,#ff2e00 354px,#ff4800 363px,#ff5f00 373px,#ff7a00 388px,#ff8c00 402px,#ffa200 433px,#ffae00 475px)"></i>
<i style="background:linear-gradient(90deg,#ffaf00 0,#ffa300 45px,#ff8d00 77px,#ff7b00 91px,#ff5f00 107px,#ff4b00 116px,#ff2e00 126px,#ff3b00 136px,#ff5b00 146px,#ff6900 149px,#ff8200 153px,#ffba01 160px,#f8f009 166px,#d7f513 171px,#b5f51f 175px,#9af531 181px,#92f544 187px,#90f54a 188px,#5df4dc 201px,#52f1f9 204px,#4fedff 205px,#398ef5 214px,#347cf5 216px,#3278f5 217px,#2a60f5 223px,#2651f5 228px,#2247f6 235px,#2145f6 242px,#2651f5 253px,#2c64f5 259px,#347df5 265px,#3d99f5 268px,#4feeff 276px,#62f5d0 281px,#90f549 293px,#9af531 300px,#b5f51e 306px,#d7f513 310px,#f9f008 315px,#fdcb03 319px,#f80 327px,#ff6e00 331px,#ff5f00 334px,#ff3d00 344px,#ff3400 349px,#ff2e00 355px,#ff4900 364px,#ff5f00 374px,#ff7a00 389px,#ff8b00 402px,#ffa200 433px,#ffae00 475px)"></i>
<i style="background:linear-gradient(90deg,#ffaf00 0,#ffa300 45px,#ff8c00 77px,#ff7a00 91px,#ff6000 106px,#ff4900 116px,#ff2e00 125px,#f30 131px,#ff3d00 136px,#ff5e00 146px,#ff6c00 149px,#ff8d00 154px,#ffb700 159px,#faf008 165px,#d0f515 171px,#b6f51e 174px,#9af530 180px,#90f549 187px,#60f5d3 199px,#51f0fb 203px,#4ee9fe 204px,#347df5 214px,#2c66f5 219px,#2653f5 224px,#2246f6 230px,#1f3ef7 236px,#1f3df7 242px,#2143f6 249px,#2550f5 256px,#3379f5 266px,#347ef5 267px,#3b92f5 269px,#4feafe 277px,#52f1fa 278px,#61f5d2 282px,#90f548 294px,#98f533 300px,#b2f521 306px,#b7f51e 307px,#daf512 311px,#f4f10a 315px,#faef08 316px,#fdc802 320px,#ff8600 328px,#ff6c00 332px,#ff5d00 335px,#ff3c00 345px,#f30 350px,#ff2e00 356px,#ff4900 365px,#ff5e00 374px,#ff7a00 390px,#ff8b00 403px,#ffa200 433px,#ffae00 475px)"></i>
<i style="background:linear-gradient(90deg,#ffaf00 0,#ffa300 45px,#ff8d00 76px,#ff7b00 90px,#ff6200 104px,#ff4c00 114px,#ff2e00 124px,#ff2e00 125px,#ff3c00 135px,#ff5c00 145px,#ff6a00 148px,#ff9200 154px,#ffb300 158px,#faec07 164px,#f6f109 165px,#dbf512 169px,#caf517 171px,#b9f51d 173px,#9bf530 179px,#91f547 186px,#60f5d4 198px,#51f0fd 202px,#47c6fa 206px,#3580f5 212px,#2b61f5 218px,#2651f5 222px,#2040f7 229px,#1c37f7 236px,#1c35f8 242px,#1d3af7 248px,#2247f6 255px,#2755f5 260px,#3070f5 266px,#3581f5 269px,#4ee8fe 278px,#51f0fc 279px,#5cf4de 282px,#91f546 295px,#98f533 301px,#b3f520 307px,#dcf511 312px,#f7f109 316px,#faeb07 317px,#fec402 321px,#ff8300 329px,#ff6900 333px,#ff5c00 336px,#ff3b00 346px,#ff2e00 356px,#ff6000 376px,#ff7900 390px,#ff8b00 403px,#ffa100 433px,#ffae00 475px)"></i>
<i style="background:linear-gradient(90deg,#ffaf00 0,#ffa300 45px,#ff8c00 76px,#ff7b00 89px,#ff6000 104px,#ff2e00 124px,#ff3b00 134px,#ff4800 139px,#ff5a00 144px,#ff6d00 148px,#ff8000 151px,#fec202 159px,#f8f009 164px,#def411 168px,#b4f51f 173px,#98f532 179px,#91f546 185px,#60f5d4 197px,#50f0ff 201px,#3786f5 210px,#347cf5 211px,#3071f5 213px,#2754f5 219px,#2144f6 224px,#1c35f8 231px,#1a2ff8 238px,#1a30f8 245px,#1c36f8 250px,#2042f6 256px,#2755f5 262px,#347df5 270px,#51f0fe 280px,#60f5d3 284px,#7bf58a 290px,#91f545 296px,#98f532 302px,#b5f51f 308px,#d7f513 312px,#f9f008 317px,#ffb800 323px,#ff8e00 328px,#ff6c00 333px,#ff5e00 336px,#ff4b00 341px,#ff3d00 346px,#f30 351px,#ff2e00 357px,#ff4d00 368px,#ff6100 377px,#ff7a00 391px,#ff8b00 404px,#ffa200 434px,#ffae00 475px)"></i>
<i style="background:linear-gradient(90deg,#ffaf00 0,#ffa300 44px,#ff8c00 75px,#ff7c00 88px,#ff6100 103px,#ff4d00 112px,#ff2e00 123px,#ff3a00 133px,#ff4600 138px,#ff5800 143px,#ff6a00 147px,#ff7d00 150px,#ff9b00 154px,#febd01 158px,#faee08 163px,#f5f10a 164px,#d9f512 168px,#b6f51e 172px,#99f531 178px,#91f545 184px,#7bf589 190px,#60f5d4 196px,#50f0ff 200px,#3682f5 209px,#2c64f5 214px,#2651f5 218px,#1d38f7 226px,#1a30f8 230px,#182bf7 238px,#1a30f8 251px,#1f3ef7 257px,#2651f5 263px,#337af5 271px,#3a8ff5 273px,#46c3fa 277px,#50f0fe 281px,#61f5d3 285px,#7bf588 291px,#8ff54d 296px,#91f545 297px,#9af531 303px,#b7f51e 309px,#d1f515 312px,#faed08 318px,#febd01 323px,#ff9200 328px,#ff6f00 333px,#ff6000 336px,#ff4c00 341px,#ff3e00 346px,#ff3400 351px,#ff2e00 357px,#ff2f00 359px,#ff4a00 368px,#ff6100 378px,#ff7a00 392px,#ff8b00 405px,#ffa100 434px,#ffae00 475px)"></i>
<i style="background:linear-gradient(90deg,#ffaf00 0,#ffa300 44px,#ff8c00 75px,#ff7b00 88px,#ff5f00 103px,#ff4b00 112px,#ff2e00 122px,#ff3200 128px,#ff3a00 133px,#ff4800 138px,#ff5a00 143px,#ff6d00 147px,#ff8000 150px,#fec202 158px,#fbea07 162px,#f7f009 163px,#dcf511 167px,#b3f520 172px,#98f533 178px,#92f544 183px,#8ff54b 184px,#61f5d3 195px,#50f0ff 199px,#357ff5 208px,#2857f5 215px,#2040f7 221px,#1a30f8 227px,#1728f6 238px,#1829f6 246px,#1a30f8 254px,#2652f5 265px,#3580f5 273px,#46c1fa 278px,#50f0fe 282px,#61f5d1 286px,#90f54a 297px,#9bf530 304px,#b3f520 309px,#d5f514 313px,#f8f009 318px,#fbe907 319px,#ffb800 324px,#ff8e00 329px,#ff6c00 334px,#ff5e00 337px,#ff4b00 342px,#ff3c00 347px,#f30 352px,#ff2e00 358px,#ff3000 360px,#ff4b00 369px,#ff6200 379px,#ff7b00 393px,#ff8b00 405px,#ffa100 434px,#ffae00 475px)"></i>
<i style="background:linear-gradient(90deg,#ffaf00 0,#ffa300 43px,#ff8c00 74px,#ff7b00 87px,#ff6000 102px,#ff4b00 111px,#ff2e00 121px,#ff3100 127px,#ff3900 132px,#ff4600 137px,#ff5800 142px,#ff6a00 146px,#ff7d00 149px,#ff9b00 153px,#febe01 157px,#faef08 162px,#d8f513 167px,#b5f51f 171px,#98f532 177px,#91f547 183px,#61f5d1 194px,#50f0fe 198px,#45c0fa 202px,#347df5 207px,#2754f5 214px,#1a31f8 224px,#1624f5 238px,#1726f6 247px,#1a2ff8 256px,#2550f5 266px,#347ef5 274px,#46c1fa 279px,#51f0fd 283px,#5df4dc 286px,#91f546 298px,#98f532 304px,#b5f51e 310px,#d9f512 314px,#f5f10a 318px,#faee08 319px,#febd01 324px,#ff9200 329px,#ff7c00 332px,#ff6900 335px,#ff5700 339px,#ff4600 344px,#ff3900 349px,#ff3100 354px,#ff2e00 360px,#ff4900 369px,#ff5e00 378px,#ff7a00 393px,#ff8a00 405px,#ffa100 434px,#ffae00 475px)"></i>
<i style="background:linear-gradient(90deg,#ffaf00 0,#ffa300 43px,#ff8c00 73px,#ff7c00 86px,#ff6100 101px,#ff4c00 110px,#ff2e00 120px,#ff2e00 121px,#ff3800 131px,#f40 136px,#f50 141px,#ff6700 145px,#ff7900 148px,#ff9600 152px,#ffb900 156px,#fbea07 161px,#f7f009 162px,#dcf511 166px,#b8f51d 170px,#b2f520 171px,#9af531 176px,#91f545 182px,#7af58d 188px,#5ef5da 194px,#51f0fd 197px,#45c1fa 201px,#347df5 206px,#254ef5 214px,#1a2ff8 223px,#1623f5 233px,#1521f5 243px,#1726f6 251px,#1a31f8 259px,#2653f5 268px,#347ef5 275px,#4ee7fe 283px,#51f0fb 284px,#5ef5d9 287px,#7af58b 293px,#8ef54e 298px,#91f545 299px,#97f534 304px,#b3f520 310px,#ddf511 315px,#f8f009 319px,#fdcb03 323px,#ff8600 331px,#ff6b00 335px,#ff5900 339px,#ff4700 344px,#ff3a00 349px,#ff3200 354px,#ff2e00 360px,#ff2e00 361px,#ff4a00 370px,#ff6100 380px,#ff7a00 394px,#ff8a00 406px,#ffa100 435px,#ffae00 475px)"></i>
<i style="background:linear-gradient(90deg,#ffaf00 0,#ffa200 43px,#ff8c00 73px,#ff7b00 86px,#ff6100 100px,#ff4a00 110px,#ff2e00 119px,#ff2e00 120px,#ff3100 126px,#ff3900 131px,#ff4500 136px,#ff5700 141px,#ff6900 145px,#ff7c00 148px,#ff9100 151px,#febd01 156px,#faef08 161px,#f4f10a 162px,#d8f513 166px,#b5f51f 170px,#98f533 176px,#92f544 181px,#90f54a 182px,#5ff5d8 193px,#52f1fa 196px,#4ee9fe 197px,#46c3fa 200px,#347df5 205px,#2651f5 212px,#2144f6 215px,#1a31f8 220px,#1727f6 226px,#141ff4 235px,#141ef4 244px,#1624f5 252px,#1a2ff8 260px,#2652f5 269px,#347ef5 276px,#46c4fa 281px,#4feafe 284px,#52f1f9 285px,#5ff5d6 288px,#90f549 299px,#98f532 305px,#b5f51f 311px,#d9f512 315px,#f5f10a 319px,#faee08 320px,#fec502 324px,#ff8200 332px,#ff6800 336px,#ff5b00 339px,#ff4800 344px,#ff3b00 349px,#ff3200 354px,#ff2e00 360px,#ff2e00 362px,#ff4a00 371px,#ff6100 381px,#ff7b00 395px,#ff8b00 407px,#ffa100 436px,#ffae00 475px)"></i>
<i style="background:linear-gradient(90deg,#ffaf00 0,#ffa300 42px,#ff8c00 72px,#ff7100 91px,#ff5200 106px,#ff2e00 118px,#ff2e00 122px,#ff3400 128px,#ff3e00 133px,#ff4d00 138px,#ff6100 143px,#ff7100 146px,#ff9500 151px,#ffb700 155px,#f8f009 161px,#d4f514 166px,#b8f51d 169px,#9af531 175px,#91f546 181px,#78f590 187px,#60f5d4 192px,#53f1f7 195px,#4fecff 196px,#46c5fa 199px,#347ef5 204px,#2756f5 210px,#1f3ff7 215px,#1a30f8 219px,#1521f5 228px,#131cf2 235px,#131cf1 244px,#1520f5 252px,#1a30f8 262px,#2651f5 270px,#357ff5 277px,#47c6fa 282px,#4fedff 285px,#61f5d2 289px,#79f58f 294px,#91f545 300px,#9af531 306px,#b3f520 311px,#ddf511 316px,#f9f008 320px,#fdc903 324px,#ff8500 332px,#ff6a00 336px,#ff5c00 339px,#ff4900 344px,#ff3b00 349px,#f30 354px,#ff2e00 360px,#ff2f00 363px,#ff4b00 372px,#ff6200 382px,#ff7a00 395px,#ff8a00 407px,#ffa100 436px,#ffae00 475px)"></i>
<i style="background:linear-gradient(90deg,#ffaf00 0,#ffa200 42px,#ff8c00 72px,#ff7a00 85px,#ff6200 98px,#ff4b00 108px,#ff2f00 117px,#ff2e00 120px,#ff3800 130px,#f40 135px,#f50 140px,#ff6700 144px,#ff7a00 147px,#ff8f00 150px,#ffbb01 155px,#faed08 160px,#f5f109 161px,#d9f512 165px,#b5f51f 169px,#98f533 175px,#92f544 180px,#8ff54c 181px,#62f5cf 191px,#50f0ff 195px,#47c8fb 198px,#3580f5 203px,#2651f5 210px,#1a2ff8 218px,#141ff4 228px,#131aef 237px,#141ff4 253px,#1a2ff8 263px,#1e3af7 266px,#2651f5 271px,#3581f5 278px,#47cafb 283px,#50f0fe 286px,#5ef5da 289px,#8bf557 299px,#90f54b 300px,#92f544 301px,#98f532 306px,#b5f51e 312px,#daf512 316px,#f6f109 320px,#faec07 321px,#ffba01 326px,#ff9700 330px,#ff7900 334px,#ff6700 337px,#f50 341px,#f40 346px,#ff3800 351px,#ff2e00 361px,#ff3000 364px,#ff4c00 373px,#ff6300 383px,#ff7b00 396px,#ff8b00 408px,#ffa100 436px,#ffad00 475px)"></i>
<i style="background:linear-gradient(90deg,#ffae00 0,#ffa200 42px,#ff8c00 71px,#ff7b00 84px,#ff6300 97px,#ff4c00 107px,#ff3000 116px,#ff2e00 120px,#ff3800 130px,#ff4500 135px,#ff5700 140px,#ff6900 144px,#ff7c00 147px,#ff9a00 151px,#febe01 155px,#f9f008 160px,#def411 164px,#b3f520 169px,#9af531 174px,#91f546 180px,#7cf585 185px,#5ff5d7 191px,#52f1fb 194px,#4ee7fe 195px,#45bffa 198px,#3683f5 202px,#3379f5 203px,#2651f5 209px,#1a31f8 216px,#141df3 227px,#1218ed 236px,#1218ed 244px,#141df3 254px,#182af7 262px,#1a31f8 265px,#244cf5 271px,#337af5 278px,#3684f5 279px,#45c0fa 283px,#4ee8fe 286px,#52f1fa 287px,#60f5d5 290px,#7df584 296px,#91f545 301px,#9af530 307px,#b3f520 312px,#def411 317px,#faf008 321px,#fec702 325px,#ffa200 329px,#ff8200 333px,#ff6800 337px,#ff5a00 340px,#ff4800 345px,#ff3a00 350px,#ff2e00 360px,#ff2e00 364px,#ff5200 376px,#ff7100 391px,#ff8b00 409px,#ffa100 437px,#ffad00 475px)"></i>
<i style="background:linear-gradient(90deg,#ffae00 0,#ffa200 41px,#ff8d00 70px,#ff7c00 83px,#ff6000 98px,#ff4a00 107px,#ff2e00 116px,#ff2e00 121px,#f30 127px,#ff3d00 132px,#ff4c00 137px,#ff6100 142px,#ff7100 145px,#ff9500 150px,#ffb800 154px,#fbea07 159px,#f7f009 160px,#d2f515 165px,#b6f51e 168px,#98f532 174px,#92f544 179px,#8ff54b 180px,#7af58b 185px,#61f5d1 190px,#53f1f6 193px,#4fedff 194px,#337bf5 202px,#2652f5 208px,#1a30f8 215px,#131cf2 226px,#1217eb 235px,#1116eb 244px,#141ef3 256px,#1728f6 262px,#1a31f8 266px,#244df5 272px,#347cf5 279px,#50eeff 287px,#62f5cf 291px,#90f54a 301px,#98f532 307px,#b2f521 312px,#b7f51e 313px,#dcf511 317px,#f8f009 321px,#fdca03 325px,#ffa500 329px,#ff8400 333px,#ff6a00 337px,#ff5c00 340px,#ff4800 345px,#ff3b00 350px,#ff2e00 360px,#ff2e00 365px,#ff4a00 374px,#ff6000 383px,#ff7a00 397px,#ff8c00 410px,#ffa100 437px,#ffad00 475px)"></i>
<i style="background:linear-gradient(90deg,#ffae00 0,#ffa200 41px,#ff8c00 70px,#ff7000 89px,#ff5300 103px,#ff2e00 115px,#ff2e00 119px,#ff3700 129px,#ff4300 134px,#f50 139px,#f60 143px,#ff7900 146px,#ff9700 150px,#ffbb01 154px,#faed08 159px,#f5f10a 160px,#d8f513 164px,#b4f51f 168px,#97f534 174px,#91f545 179px,#7cf584 184px,#5ff5d8 190px,#51f0fd 193px,#47cafb 196px,#347ef5 201px,#2653f5 207px,#1a30f8 214px,#131cf1 225px,#1115ea 234px,#1114e9 243px,#141ef4 258px,#192ef8 266px,#1e3af7 269px,#2754f5 274px,#357ff5 280px,#4ee6fe 287px,#51f0fb 288px,#5ff5d6 291px,#7df583 297px,#91f545 302px,#98f533 307px,#b5f51f 313px,#d9f512 317px,#f6f109 321px,#faec07 322px,#fec302 326px,#ff9f00 330px,#ff7f00 334px,#ff6b00 337px,#ff5800 341px,#ff4600 346px,#ff3900 351px,#ff2e00 361px,#ff2f00 366px,#ff4800 374px,#ff5f00 383px,#ff7900 397px,#ff8b00 410px,#ffa100 437px,#ffad00 475px)"></i>
<i style="background:linear-gradient(90deg,#ffae00 0,#ffa200 40px,#ff8d00 69px,#ff7b00 82px,#ff5f00 97px,#ff4900 106px,#ff2f00 114px,#ff2e00 121px,#ff3c00 131px,#ff4a00 136px,#ff5e00 141px,#ff6d00 144px,#ff9100 149px,#febd01 154px,#faf008 159px,#d5f514 164px,#b9f51d 167px,#99f531 173px,#90f549 179px,#7bf58a 184px,#61f5d0 189px,#53f1f6 192px,#4fecff 193px,#46c2fa 196px,#3684f5 200px,#3379f5 201px,#254ff5 207px,#1a31f8 213px,#141ff4 221px,#1219ef 226px,#1013e8 235px,#1013e7 244px,#141ef4 259px,#192ef8 267px,#1e3bf7 270px,#2756f5 275px,#337af5 280px,#3785f5 281px,#46c4fa 285px,#4fedff 288px,#62f5cf 292px,#7bf589 297px,#90f548 302px,#9af531 308px,#b3f520 313px,#def411 318px,#faef08 322px,#fec602 326px,#ffa100 330px,#ff8100 334px,#ff6d00 337px,#ff5900 341px,#ff4600 346px,#ff3900 351px,#ff3100 356px,#ff2e00 361px,#ff2f00 367px,#ff4900 375px,#ff5f00 384px,#ff7a00 398px,#ff8c00 411px,#ffa100 438px,#ffad00 475px)"></i>
<i style="background:linear-gradient(90deg,#ffae00 0,#ffa200 40px,#ff8d00 68px,#ff7c00 81px,#ff6000 96px,#ff4a00 105px,#ff2e00 114px,#ff2e00 122px,#ff3600 128px,#ff4100 133px,#ff5200 138px,#ff6800 143px,#ff9b00 150px,#ffb600 153px,#fbe807 158px,#f8f009 159px,#dcf511 163px,#c0f51b 166px,#b6f51e 167px,#98f532 173px,#92f544 178px,#8ff54d 179px,#7df582 183px,#5ff5d6 189px,#51f0fc 192px,#4ee5fe 193px,#347cf5 200px,#2651f5 206px,#1b32f8 212px,#141ff4 220px,#1218ed 226px,#1011e2 239px,#1012e6 246px,#141ff4 261px,#1a2ff8 268px,#1e3cf7 271px,#2651f5 275px,#347df5 281px,#4ee7fe 288px,#52f1fb 289px,#60f5d5 292px,#82f573 299px,#8ff54c 302px,#92f544 303px,#98f532 308px,#b2f521 313px,#b7f51e 314px,#dcf511 318px,#f9f008 322px,#fdc803 326px,#ffa300 330px,#ff8200 334px,#ff6800 338px,#ff5a00 341px,#ff4700 346px,#ff3900 351px,#ff3100 356px,#ff2d00 361px,#ff2e00 367px,#ff4a00 376px,#ff6000 385px,#ff7b00 399px,#ff8b00 411px,#ffa100 438px,#ffad00 475px)"></i>
<i style="background:linear-gradient(90deg,#ffae00 0,#ffa200 40px,#ff8c00 68px,#ff7b00 81px,#ff6100 95px,#ff4b00 104px,#ff2e00 113px,#ff2d00 118px,#ff2f00 123px,#ff3600 128px,#ff4100 133px,#ff5300 138px,#ff6900 143px,#ff7600 145px,#ff9400 149px,#ffb800 153px,#faeb07 158px,#f6f109 159px,#daf512 163px,#b5f51f 167px,#98f533 173px,#91f546 178px,#7cf586 183px,#5df4db 189px,#4fedff 192px,#46c3fa 195px,#3683f5 199px,#3379f5 200px,#2754f5 205px,#1a2ff8 212px,#141df3 220px,#1115e9 228px,#0f11de 239px,#1011e2 247px,#141ff4 262px,#1a2ff8 269px,#2143f6 273px,#2754f5 276px,#3379f5 281px,#3685f5 282px,#46c5fa 286px,#50efff 289px,#5ef5da 292px,#7cf585 298px,#91f545 303px,#98f533 308px,#b5f51f 314px,#dbf512 318px,#f7f009 322px,#fbea07 323px,#fdca03 326px,#ffa500 330px,#ff8400 334px,#ff6900 338px,#ff5b00 341px,#ff4700 346px,#ff3900 351px,#ff3100 356px,#ff2d00 361px,#ff2e00 368px,#ff4800 376px,#ff5f00 385px,#ff7a00 399px,#ff8b00 412px,#ffa100 439px,#ffad00 475px)"></i>
<i style="background:linear-gradient(90deg,#ffae00 0,#ffa300 38px,#ff8e00 66px,#ff7c00 80px,#ff6100 94px,#ff4c00 103px,#ff2f00 112px,#ff2e00 122px,#ff3400 127px,#ff4200 133px,#ff5300 138px,#ff6a00 143px,#ff9e00 150px,#faed08 158px,#e0f410 162px,#c5f519 165px,#b4f520 167px,#9af531 172px,#90f548 178px,#7af58b 183px,#61f5d2 188px,#52f1f9 191px,#4ee8fe 192px,#45bdf9 195px,#347df5 199px,#2550f5 205px,#1a30f8 211px,#141ef3 219px,#1114e9 227px,#0f10d9 238px,#0f11dd 246px,#131cf2 261px,#1a31f8 270px,#2651f5 276px,#347ef5 282px,#45bef9 286px,#4feafe 289px,#53f1f8 290px,#61f5d1 293px,#7bf589 298px,#91f547 303px,#9af530 309px,#b4f51f 314px,#d9f512 318px,#f6f109 322px,#faec07 323px,#fec202 327px,#ff9d00 331px,#ff7e00 335px,#ff6a00 338px,#ff5700 342px,#f40 347px,#ff3700 352px,#ff2f00 357px,#ff2d00 362px,#ff2f00 369px,#ff4900 377px,#ff6000 386px,#ff7a00 400px,#ff8b00 412px,#ffa100 439px,#ffad00 475px)"></i>
<i style="background:linear-gradient(90deg,#ffae00 0,#ffa200 38px,#ff8e00 66px,#ff7b00 80px,#ff6000 94px,#ff4d00 102px,#ff2e00 112px,#ff2d00 121px,#ff3200 126px,#ff3f00 132px,#ff4f00 137px,#f60 142px,#ff9700 149px,#ffbb01 153px,#faef08 158px,#def411 162px,#c3f51a 165px,#b3f520 167px,#99f532 172px,#92f544 177px,#8ff54c 178px,#79f58f 183px,#5ff5d7 188px,#51f0fd 191px,#47c7fa 194px,#3c95f5 197px,#337af5 199px,#2754f5 204px,#1b33f8 210px,#141ef4 218px,#1114e9 226px,#0f10d6 237px,#0f10d8 246px,#1013e7 253px,#141df2 262px,#1b33f8 271px,#2755f5 277px,#337af5 282px,#4ee5fe 289px,#51f0fc 290px,#60f5d6 293px,#87f565 301px,#90f54a 303px,#92f544 304px,#99f531 309px,#b3f520 314px,#d7f513 318px,#f4f10a 322px,#faee08 323px,#fec402 327px,#ff9e00 331px,#ff7f00 335px,#ff6a00 338px,#ff5700 342px,#ff4500 347px,#ff3700 352px,#ff2f00 357px,#ff2d00 362px,#ff2e00 369px,#ff4a00 378px,#ff6000 387px,#ff7b00 401px,#ff8b00 413px,#ffa000 439px,#ffad00 475px)"></i>
<i style="background:linear-gradient(90deg,#ffae00 0,#ffa200 39px,#ff8c00 67px,#ff7a00 80px,#ff5f00 94px,#ff4800 103px,#ff2e00 111px,#ff2c00 118px,#ff2e00 123px,#ff3500 128px,#ff4200 133px,#ff5400 138px,#f60 142px,#ff7900 145px,#ff8f00 148px,#febc01 153px,#faf008 158px,#ddf511 162px,#b7f51e 166px,#b2f521 167px,#98f532 172px,#91f545 177px,#8ef54f 178px,#7df584 182px,#5ef5da 188px,#4feeff 191px,#46c2fa 194px,#3581f5 198px,#2651f5 204px,#1a30f8 210px,#141ff4 217px,#1012e6 227px,#0f10da 232px,#0e0fd2 237px,#0e0fd1 242px,#0f10d6 247px,#1012e6 254px,#131cf1 262px,#1a31f8 271px,#2652f5 277px,#3278f5 282px,#3682f5 283px,#46c4fa 287px,#50efff 290px,#5ef5d9 293px,#7df583 299px,#8ff54d 303px,#92f544 304px,#98f532 309px,#b2f521 314px,#b8f51d 315px,#def411 319px,#faef08 323px,#fec502 327px,#ff9f00 331px,#ff7f00 335px,#ff6b00 338px,#ff5700 342px,#ff4500 347px,#ff3700 352px,#ff2f00 357px,#ff2c00 362px,#ff2e00 370px,#ff4800 378px,#ff5f00 387px,#ff7a00 401px,#ff8b00 413px,#ffa000 439px,#ffad00 475px)"></i>
<i style="background:linear-gradient(90deg,#ffae00 0,#ffa200 38px,#ff8e00 65px,#ff7b00 79px,#ff6000 93px,#ff4900 102px,#ff2f00 110px,#ff2d00 121px,#ff3100 126px,#ff3c00 131px,#ff4c00 136px,#ff6100 141px,#ff6c00 143px,#ff9000 148px,#ffb400 152px,#f9f008 158px,#d3f514 163px,#b6f51e 166px,#9cf52f 171px,#98f533 172px,#91f545 177px,#7cf587 182px,#62f5d0 187px,#53f1f8 190px,#4feafe 191px,#45bef9 194px,#347cf5 198px,#254ff5 204px,#1a2ff8 210px,#141ef3 217px,#1012e6 226px,#0f10d9 231px,#0e0fd0 236px,#0e0fce 241px,#0e0fd2 246px,#1012e7 255px,#131bf0 262px,#1625f5 267px,#1b34f8 272px,#2550f5 277px,#347df5 283px,#45bffa 287px,#4febfe 290px,#53f1f6 291px,#5df4dc 293px,#7cf586 299px,#91f545 304px,#98f533 309px,#b7f51e 315px,#ddf511 319px,#faf008 323px,#fec602 327px,#ffa000 331px,#ff8000 335px,#ff6b00 338px,#ff5800 342px,#f40 347px,#ff3700 352px,#ff2e00 357px,#ff2c00 362px,#ff2f00 371px,#ff4a00 379px,#ff6000 388px,#ff7b00 402px,#ff8b00 414px,#ffa100 440px,#ffad00 475px)"></i>
<i style="background:linear-gradient(90deg,#ffae00 0,#ffa200 38px,#ff8d00 65px,#ff7c00 78px,#ff6100 92px,#ff4a00 101px,#ff2e00 110px,#ff2c00 121px,#ff2f00 125px,#ff3c00 131px,#ff4c00 136px,#ff6100 141px,#ff6c00 143px,#ff9000 148px,#ffb400 152px,#f8f009 158px,#d2f515 163px,#b5f51e 166px,#9bf530 171px,#91f546 177px,#7bf589 182px,#61f5d3 187px,#52f1fa 190px,#4ee7fe 191px,#337af5 198px,#2754f5 203px,#1a31f8 209px,#141ff4 216px,#1013e7 225px,#0f10d6 231px,#0e0ecd 236px,#0e0ecb 241px,#0e0fcf 246px,#1012e5 255px,#1219ee 261px,#141ff4 265px,#1b32f8 272px,#2754f5 278px,#337bf5 283px,#4ee8fe 290px,#52f1f9 291px,#61f5d1 294px,#7bf588 299px,#91f546 304px,#98f533 309px,#b6f51e 315px,#dcf511 319px,#f9f008 323px,#febd01 328px,#ff8f00 333px,#ff7900 336px,#f60 339px,#ff5300 343px,#ff4100 348px,#ff3400 353px,#ff2e00 357px,#ff2c00 363px,#ff2e00 371px,#ff4b00 380px,#ff5f00 388px,#ff7a00 402px,#ff8b00 414px,#ffa000 440px,#ffad00 475px)"></i>
<i style="background:linear-gradient(90deg,#ffae00 0,#ffa200 37px,#ff8e00 64px,#ff7c00 77px,#ff6200 91px,#ff4c00 100px,#ff2e00 109px,#ff2c00 121px,#ff2f00 125px,#ff3b00 131px,#ff4f00 137px,#f60 142px,#f90 149px,#ffb500 152px,#fbe807 157px,#f8f009 158px,#dbf512 162px,#c8f518 164px,#b5f51f 166px,#9bf530 171px,#90f548 177px,#7af58b 182px,#60f5d5 187px,#51f0fd 190px,#47c7fa 193px,#3684f5 197px,#3379f5 198px,#2652f5 203px,#1a30f8 209px,#141ef4 216px,#1012e6 225px,#0e0fd4 231px,#0e0ecb 236px,#0d0ec9 241px,#0e0ecc 246px,#0f10d6 251px,#1012e6 256px,#1217ec 260px,#141ef4 265px,#1a30f8 272px,#2652f5 278px,#337af5 283px,#3786f5 284px,#47c8fb 288px,#4ee6fe 290px,#51f0fb 291px,#60f5d4 294px,#7bf58a 299px,#91f546 304px,#97f533 309px,#b5f51e 315px,#dbf512 319px,#f8f008 323px,#febd01 328px,#ff9000 333px,#ff7900 336px,#f60 339px,#ff5300 343px,#ff4100 348px,#ff3400 353px,#ff2e00 357px,#ff2b00 363px,#ff2e00 372px,#ff4900 380px,#ff5d00 388px,#ff7900 402px,#ff8a00 414px,#ffa000 440px,#ffad00 475px)"></i>
<i style="background:linear-gradient(90deg,#ffae00 0,#ffa100 38px,#ff8c00 65px,#ff7c00 77px,#ff6000 91px,#ff4a00 100px,#ff2f00 108px,#ff2b00 118px,#ff2d00 124px,#ff3400 128px,#ff4100 133px,#ff5300 138px,#f60 142px,#ff7900 145px,#f90 149px,#febf01 153px,#f7f009 158px,#daf512 162px,#b5f51f 166px,#9af530 171px,#90f549 177px,#7af58d 182px,#5ff5d7 187px,#50f0fe 190px,#46c5fa 193px,#3682f5 197px,#2551f5 203px,#1b34f8 208px,#1624f5 213px,#131af0 218px,#1013e7 224px,#0e0ecc 234px,#0d0ec7 240px,#0e0ec9 245px,#0e0fd2 250px,#1013e7 257px,#141df3 265px,#1a2ff8 272px,#2651f5 278px,#3278f5 283px,#3683f5 284px,#47c6fa 288px,#51f0fd 291px,#60f5d5 294px,#7af58b 299px,#90f548 304px,#9bf530 310px,#b5f51f 315px,#c8f518 317px,#dbf512 319px,#f8f009 323px,#fbe807 324px,#ffb400 329px,#ff9800 332px,#ff6500 339px,#ff4f00 344px,#ff3b00 350px,#ff2e00 356px,#ff2c00 360px,#ff2f00 373px,#ff4a00 381px,#ff6100 390px,#ff7a00 403px,#ff8c00 416px,#ffa000 441px,#ffac00 475px)"></i>
<i style="background:linear-gradient(90deg,#ffae00 0,#ffa200 37px,#ff8d00 64px,#ff7b00 77px,#ff5f00 91px,#ff4b00 99px,#ff2e00 108px,#ff2b00 118px,#ff2e00 125px,#f30 128px,#ff4000 133px,#ff5300 138px,#f60 142px,#ff7900 145px,#ff9000 148px,#febf01 153px,#f7f009 158px,#daf512 162px,#b4f51f 166px,#9af531 171px,#90f54a 177px,#79f58e 182px,#5ff5d8 187px,#50efff 190px,#46c3fa 193px,#3580f5 197px,#2550f5 203px,#1b33f8 208px,#141ff4 215px,#1218ed 219px,#1012e6 224px,#0f10d5 229px,#0e0eca 234px,#0d0dc5 240px,#0d0ec8 245px,#0e0fd0 250px,#1012e6 257px,#1115e9 259px,#141ff4 266px,#1a2ff8 272px,#2550f5 278px,#3277f5 283px,#3581f5 284px,#46c5fa 288px,#50f0fe 291px,#5ff5d7 294px,#7af58c 299px,#90f548 304px,#9bf530 310px,#b5f51f 315px,#c8f518 317px,#dbf512 319px,#f8f009 323px,#fbe807 324px,#ffb400 329px,#ff9800 332px,#ff7800 336px,#ff6500 339px,#ff4e00 344px,#ff3a00 350px,#ff2f00 355px,#ff2b00 360px,#ff2e00 373px,#ff4b00 382px,#ff5f00 390px,#ff7b00 404px,#ff8c00 416px,#ffa000 441px,#ffac00 475px)"></i>
<i style="background:linear-gradient(90deg,#ffae00 0,#ffa200 37px,#ff8d00 63px,#ff7c00 76px,#ff6000 90px,#ff4900 99px,#ff2e00 107px,#ff2b00 121px,#ff2f00 126px,#ff3a00 131px,#ff4e00 137px,#ff6500 142px,#ff7900 145px,#ff9800 149px,#ffb400 152px,#fbe907 157px,#f8f009 158px,#daf512 162px,#c7f518 164px,#b4f51f 166px,#9af531 171px,#92f543 176px,#90f54a 177px,#79f58f 182px,#5ef5d9 187px,#50eeff 190px,#46c2fa 193px,#347ff5 197px,#254ff5 203px,#192ef8 209px,#141ef4 215px,#1114e9 222px,#0e0fcf 231px,#0d0dc6 236px,#0d0dc4 241px,#0e0ec9 247px,#0f10d5 252px,#1012e6 257px,#1218ed 262px,#141ff4 266px,#1b33f8 273px,#2550f5 278px,#3580f5 284px,#46c4fa 288px,#50f0ff 291px,#5ff5d7 294px,#7af58d 299px,#90f549 304px,#9af530 310px,#b5f51f 315px,#dbf512 319px,#f8f009 323px,#febd01 328px,#ff8f00 333px,#ff7800 336px,#ff6a00 338px,#ff5200 343px,#ff3f00 348px,#ff3200 353px,#ff2a00 363px,#ff2e00 374px,#ff4a00 382px,#ff5e00 390px,#ff7a00 404px,#ff8b00 416px,#ffa000 441px,#ffac00 475px)"></i>
<i style="background:linear-gradient(90deg,#ffad00 0,#ffa200 36px,#ff8e00 62px,#ff7c00 75px,#ff6100 89px,#ff4d00 97px,#ff2e00 107px,#ff2b00 121px,#ff2e00 126px,#ff3900 131px,#ff4d00 137px,#ff6400 142px,#ff7800 145px,#ff9800 149px,#ffb400 152px,#fbe807 157px,#f8f009 158px,#daf512 162px,#c7f518 164px,#b4f51f 166px,#9af531 171px,#92f543 176px,#90f54a 177px,#79f58f 182px,#5ef5d9 187px,#50eeff 190px,#46c2fa 193px,#347ef5 197px,#2756f5 202px,#1b32f8 208px,#141ef4 215px,#1012e5 224px,#0e0fd1 230px,#0d0dc6 236px,#0d0dc3 241px,#0d0ec9 247px,#0e0fd4 252px,#1012e5 257px,#1218ed 262px,#141ef4 266px,#1b32f8 273px,#2756f5 279px,#3580f5 284px,#46c3fa 288px,#50f0ff 291px,#5ff5d8 294px,#7af58d 299px,#90f549 304px,#9bf530 310px,#b5f51f 315px,#dbf512 319px,#f9f008 323px,#febd01 328px,#ff9700 332px,#f70 336px,#ff6900 338px,#ff5100 343px,#ff3e00 348px,#ff2f00 354px,#ff2a00 363px,#ff2e00 374px,#ff4b00 383px,#ff5f00 391px,#ff7900 404px,#ff8a00 416px,#ffa000 441px,#ffac00 475px)"></i>
<i style="background:linear-gradient(90deg,#ffad00 0,#ffa200 36px,#ff8d00 62px,#ff7c00 75px,#ff6000 89px,#ff4900 98px,#ff2e00 106px,#ff2a00 121px,#ff2f00 127px,#ff3800 131px,#ff4c00 137px,#ff6400 142px,#f70 145px,#ff9700 149px,#ffb300 152px,#fbe707 157px,#f8f008 158px,#dbf512 162px,#c8f518 164px,#b5f51f 166px,#9af530 171px,#90f54a 177px,#79f58e 182px,#5ef5d9 187px,#50eeff 190px,#46c2fa 193px,#347ef5 197px,#2756f5 202px,#1b32f8 208px,#141ef4 215px,#1012e5 224px,#0e0fd1 230px,#0d0dc5 236px,#0d0dc3 242px,#0d0ec8 247px,#0e0fd4 252px,#1012e5 257px,#1218ed 262px,#141ef4 266px,#1b32f8 273px,#2756f5 279px,#3580f5 284px,#46c3fa 288px,#50f0ff 291px,#5ff5d7 294px,#7af58d 299px,#90f548 304px,#97f534 309px,#b5f51e 315px,#dcf511 319px,#f9f008 323px,#ffbc01 328px,#ff9600 332px,#ff7600 336px,#ff6800 338px,#ff5000 343px,#ff3e00 348px,#ff2e00 354px,#ff2900 363px,#ff2e00 375px,#ff4900 383px,#ff5e00 391px,#ff7a00 405px,#ff8b00 417px,#ffa000 442px,#ffac00 475px)"></i>
<i style="background:linear-gradient(90deg,#ffad00 0,#ffa100 36px,#ff8d00 62px,#ff7b00 75px,#ff6100 88px,#ff4a00 97px,#ff2f00 105px,#ff2900 118px,#ff2e00 127px,#ff3a00 132px,#ff4b00 137px,#ff6e00 144px,#ff8d00 148px,#ffbb01 153px,#f9f008 158px,#dcf512 162px,#b5f51f 166px,#9bf530 171px,#90f549 177px,#79f58d 182px,#5ff5d8 187px,#50efff 190px,#46c3fa 193px,#357ff5 197px,#2756f5 202px,#1b32f8 208px,#141ef4 215px,#1218ed 219px,#1012e5 224px,#0e0fd4 229px,#0d0ec8 234px,#0d0dc3 240px,#0d0dc6 245px,#0e0fcf 250px,#1114e8 259px,#141ef4 266px,#192ef8 272px,#2550f5 278px,#3580f5 284px,#46c4fa 288px,#50f0fe 291px,#5ff5d7 294px,#7af58c 299px,#91f547 304px,#9bf530 310px,#b6f51e 315px,#d3f514 318px,#faf008 323px,#ffba01 328px,#ff8c00 333px,#ff6e00 337px,#ff5800 341px,#ff4300 346px,#ff3400 351px,#ff2e00 354px,#ff2900 360px,#ff2d00 375px,#ff4b00 384px,#ff5f00 392px,#ff7b00 406px,#ff8c00 418px,#ffa000 442px,#ffac00 475px)"></i>
<i style="background:linear-gradient(90deg,#ffad00 0,#ffa100 36px,#ff8c00 62px,#ff7a00 75px,#ff6000 88px,#ff4c00 96px,#ff2e00 105px,#ff2800 118px,#ff2f00 128px,#ff4a00 137px,#ff6d00 144px,#ff8b00 148px,#ffba01 153px,#faf008 158px,#ddf511 162px,#b6f51e 166px,#97f533 172px,#91f547 177px,#7af58c 182px,#5ff5d7 187px,#50f0ff 190px,#46c4fa 193px,#3580f5 197px,#2550f5 203px,#1b33f8 208px,#141ef4 215px,#1218ed 219px,#1012e5 224px,#0e0fd4 229px,#0e0ec9 234px,#0d0dc4 240px,#0d0dc6 245px,#0e0fcf 250px,#1012e6 257px,#1114e9 259px,#141ff4 266px,#1a2ff8 272px,#2550f5 278px,#3277f5 283px,#3682f5 284px,#47c5fa 288px,#51f0fd 291px,#60f5d5 294px,#7af58b 299px,#91f546 304px,#9cf52f 310px,#b7f51e 315px,#d4f514 318px,#faef08 323px,#ffb900 328px,#ff9300 332px,#ff6c00 337px,#ff5c00 340px,#ff4600 345px,#f30 351px,#ff2900 360px,#ff2900 368px,#ff2e00 376px,#ff4c00 385px,#ff6000 393px,#ff7a00 406px,#ff8c00 419px,#ffa000 443px,#ffac00 475px)"></i>
<i style="background:linear-gradient(90deg,#ffad00 0,#ffa200 35px,#ff8d00 61px,#ff7b00 74px,#ff6100 87px,#ff4a00 96px,#ff2e00 104px,#ff2800 113px,#ff2800 121px,#ff3200 130px,#ff4500 136px,#ff5b00 141px,#ff6b00 144px,#ff9200 149px,#ffb800 153px,#faee08 158px,#d5f514 163px,#b7f51e 166px,#9cf52f 171px,#98f533 172px,#91f546 177px,#7bf58a 182px,#60f5d5 187px,#51f0fd 190px,#47c6fa 193px,#3682f5 197px,#3278f5 198px,#2550f5 203px,#1a2ff8 209px,#141ff4 215px,#1012e6 224px,#0e0fd3 230px,#0d0ec9 235px,#0d0dc5 240px,#0d0ec9 246px,#0e0fd3 251px,#1012e6 257px,#1219ee 262px,#141ff4 266px,#1b34f8 273px,#2651f5 278px,#3278f5 283px,#3684f5 284px,#47c7fa 288px,#4ee5fe 290px,#51f0fc 291px,#60f5d3 294px,#7bf589 299px,#91f546 304px,#98f533 309px,#b2f521 314px,#b8f51d 315px,#def411 319px,#f5f10a 322px,#faed08 323px,#ffb700 328px,#ff9100 332px,#ff6b00 337px,#ff4800 344px,#ff2e00 353px,#ff2700 363px,#ff2f00 377px,#ff4a00 385px,#ff5f00 393px,#ff7900 406px,#ff8b00 418px,#ff9f00 442px,#ffac00 475px)"></i>
<i style="background:linear-gradient(90deg,#ffad00 0,#ffa100 35px,#ff8e00 60px,#ff7c00 73px,#ff6000 87px,#ff4c00 95px,#ff2e00 104px,#ff2700 113px,#ff2800 121px,#ff3100 130px,#f40 136px,#ff5a00 141px,#ff6a00 144px,#ff9000 149px,#ffb600 153px,#faec07 158px,#f6f109 159px,#d7f513 163px,#b9f51d 166px,#98f532 172px,#91f545 177px,#7bf588 182px,#61f5d2 187px,#52f1fb 190px,#4ee6fe 191px,#47c8fb 193px,#3785f5 197px,#3379f5 198px,#2652f5 203px,#1a30f8 209px,#141df3 216px,#1013e7 224px,#0e0fd4 230px,#0e0eca 235px,#0d0dc6 240px,#0e0eca 246px,#0e0fd4 251px,#1012e4 256px,#1116eb 260px,#141ef3 265px,#1a30f8 272px,#2652f5 278px,#337af5 283px,#3787f5 284px,#48cafb 288px,#4ee7fe 290px,#52f1f9 291px,#61f5d1 294px,#7cf587 299px,#91f545 304px,#98f532 309px,#b3f520 314px,#d8f513 318px,#f6f109 322px,#faea07 323px,#febf01 327px,#ff8f00 332px,#ff7000 336px,#ff4b00 343px,#ff2e00 352px,#ff2700 363px,#ff2e00 377px,#ff4900 385px,#ff5e00 393px,#ff7900 406px,#ff8a00 418px,#ff9f00 442px,#ffac00 475px)"></i>
<i style="background:linear-gradient(90deg,#ffad00 0,#ffa100 35px,#ff8d00 60px,#ff7b00 73px,#ff6100 86px,#ff4a00 95px,#ff2e00 103px,#ff2700 112px,#ff2700 121px,#ff2f00 130px,#ff4200 136px,#ff5800 141px,#ff6e00 145px,#ff8e00 149px,#ffb300 153px,#fbe907 158px,#f7f009 159px,#d9f512 163px,#b3f520 167px,#98f532 172px,#92f545 177px,#8ef54e 178px,#7cf585 182px,#62f5cf 187px,#53f1f8 190px,#4ee9fe 191px,#337bf5 198px,#2653f5 203px,#1a31f8 209px,#141ef4 216px,#1012e6 225px,#0e0fd4 231px,#0e0ecb 236px,#0d0ec8 241px,#0e0ecc 246px,#0f10d6 251px,#1012e6 256px,#1218ed 261px,#141ef4 265px,#1a31f8 272px,#2754f5 278px,#347cf5 283px,#4feafe 290px,#53f1f7 291px,#5df4dc 293px,#7df584 299px,#8ff54d 303px,#92f544 304px,#99f531 309px,#b4f51f 314px,#daf512 318px,#f8f009 322px,#febd01 327px,#ff8d00 332px,#ff6e00 336px,#ff4a00 343px,#ff2f00 351px,#ff2600 363px,#ff2e00 378px,#ff4a00 386px,#ff5f00 394px,#ff7a00 407px,#ff8b00 419px,#ffa000 443px,#ffac00 475px)"></i>
<i style="background:linear-gradient(90deg,#ffad00 0,#ffa100 35px,#ff8d00 60px,#ff7a00 73px,#ff6000 86px,#ff4b00 94px,#ff2d00 103px,#ff2700 112px,#ff2600 121px,#ff2e00 130px,#ff3d00 135px,#ff5100 140px,#ff6c00 145px,#ff8b00 149px,#ffbb01 154px,#fbe607 158px,#f9f008 159px,#d1f515 164px,#b4f51f 167px,#9af531 172px,#92f544 177px,#8ff54b 178px,#78f590 183px,#5ef5da 188px,#4fecff 191px,#45c0fa 194px,#347df5 198px,#254ff5 204px,#192ef8 210px,#141ff4 216px,#1013e7 225px,#0f10d6 231px,#0e0ecd 236px,#0e0ecb 241px,#0e0fd0 247px,#1012e5 255px,#131af0 262px,#1522f5 266px,#1b33f8 272px,#254ff5 277px,#347ef5 283px,#46c2fa 287px,#50eeff 290px,#5ef5d9 293px,#79f58f 298px,#90f54a 303px,#9af530 309px,#b5f51f 314px,#dcf511 318px,#faf008 322px,#ffba01 327px,#ff9300 331px,#ff6b00 336px,#ff4800 343px,#ff2e00 351px,#ff2500 363px,#ff2e00 378px,#ff4900 386px,#ff5e00 394px,#ff7900 407px,#ff8a00 419px,#ff9f00 443px,#ffac00 475px)"></i>
<i style="background:linear-gradient(90deg,#ffad00 0,#ffa100 35px,#ff8c00 60px,#ff7b00 72px,#ff5f00 86px,#ff4a00 94px,#ff2e00 102px,#ff2500 118px,#ff2d00 130px,#ff4200 137px,#ff6a00 145px,#ff9100 150px,#ffb800 154px,#faef08 159px,#ddf511 163px,#b6f51e 167px,#97f534 173px,#90f548 178px,#7af58c 183px,#5ff5d7 188px,#50f0fe 191px,#46c5fa 194px,#3582f5 198px,#2651f5 204px,#1c34f8 209px,#131cf2 218px,#1012e6 226px,#0e0fd3 234px,#0e0fce 239px,#0e0fcf 244px,#0f10d7 249px,#1012e7 255px,#141ef4 264px,#1a30f8 271px,#2651f5 277px,#3278f5 282px,#3683f5 283px,#47c6fa 287px,#51f0fd 290px,#60f5d5 293px,#7af58b 298px,#91f547 303px,#9cf530 309px,#b7f51e 314px,#d5f514 317px,#faed08 322px,#ffb700 327px,#ff9000 331px,#ff6900 336px,#ff5400 340px,#ff3e00 345px,#ff2e00 350px,#ff2600 359px,#ff2600 368px,#ff2e00 379px,#ff4a00 387px,#ff5f00 395px,#ff7b00 409px,#ff8c00 421px,#ffa000 444px,#ffac00 475px)"></i>
<i style="background:linear-gradient(90deg,#ffad00 0,#ffa100 34px,#ff8d00 59px,#ff7b00 72px,#ff6000 85px,#ff4c00 93px,#ff2d00 102px,#ff2500 112px,#ff2400 121px,#ff2f00 132px,#ff5200 141px,#ff6e00 146px,#ff8e00 150px,#ffb400 154px,#faeb07 159px,#f6f109 160px,#d7f513 164px,#b9f51d 167px,#9df52f 172px,#98f533 173px,#91f545 178px,#7bf588 183px,#61f5d2 188px,#52f1fa 191px,#4ee7fe 192px,#47c9fb 194px,#3787f5 198px,#337af5 199px,#2653f5 204px,#1b31f8 210px,#141ff4 217px,#1012e6 227px,#0f10da 232px,#0e0fd2 237px,#0e0fd1 241px,#0e0fd4 246px,#1012e6 254px,#131af0 261px,#1b32f8 271px,#2754f5 277px,#337bf5 282px,#4ee8fe 289px,#52f1f9 290px,#61f5d1 293px,#7cf587 298px,#91f545 303px,#98f532 308px,#b3f520 313px,#d8f513 317px,#f7f109 321px,#fbea07 322px,#febe01 326px,#ff8d00 331px,#ff6d00 335px,#f40 343px,#ff2d00 350px,#ff2400 362px,#ff2600 370px,#ff2d00 379px,#ff4900 387px,#ff5e00 395px,#ff7900 408px,#ff8b00 420px,#ffa000 444px,#ffac00 475px)"></i>
<i style="background:linear-gradient(90deg,#ffad00 0,#ffa100 34px,#ff8c00 59px,#ff7a00 72px,#ff5f00 85px,#ff4a00 93px,#ff2e00 101px,#ff2400 112px,#ff2400 122px,#ff2e00 132px,#ff3e00 137px,#f50 142px,#ff6b00 146px,#ff8b00 150px,#ffbb01 155px,#f8f009 160px,#daf512 164px,#b4f51f 168px,#99f531 173px,#92f544 178px,#8ff54d 179px,#7df584 183px,#5df4db 189px,#54f1f6 191px,#4fecff 192px,#45c0fa 195px,#347ef5 199px,#2550f5 205px,#1a2ff8 211px,#141ef4 218px,#1012e6 228px,#0f10db 233px,#0f10d5 238px,#0f10d5 242px,#0f10da 247px,#1013e7 253px,#141df3 262px,#1c35f8 271px,#2550f5 276px,#357ff5 282px,#46c1fa 286px,#4fedff 289px,#5ef5da 292px,#86f567 300px,#8ff54c 302px,#92f544 303px,#9af531 308px,#b4f51f 313px,#dbf512 317px,#f9f008 321px,#ffba01 326px,#ff9300 330px,#ff6a00 335px,#ff4200 343px,#ff2d00 349px,#ff2300 362px,#ff2500 370px,#ff2e00 380px,#ff4a00 388px,#ff5f00 396px,#ff7a00 409px,#ff8a00 420px,#ff9f00 444px,#ffac00 475px)"></i>
<i style="background:linear-gradient(90deg,#ffad00 0,#ffa100 33px,#ff8d00 58px,#ff7b00 71px,#ff6000 84px,#ff4c00 92px,#ff2d00 101px,#ff2400 112px,#ff2300 122px,#ff2e00 133px,#ff4d00 141px,#ff6800 146px,#ff8700 150px,#ffb700 155px,#faee08 160px,#d4f514 165px,#b6f51e 168px,#9bf530 173px,#90f548 179px,#7af58d 184px,#5ff5d6 189px,#51f0fe 192px,#47c6fa 195px,#3684f5 199px,#3379f5 200px,#2653f5 205px,#1b32f8 211px,#141ef4 219px,#1115ea 226px,#0f10d9 238px,#0f11dc 246px,#1114e8 253px,#141ef4 262px,#1b32f8 270px,#2754f5 276px,#337af5 281px,#3786f5 282px,#47c8fb 286px,#4de5fe 288px,#51f0fc 289px,#60f5d5 292px,#7af58b 297px,#91f547 302px,#98f533 307px,#b6f51e 313px,#def411 317px,#f4f10a 320px,#faed08 321px,#ffb600 326px,#ff8f00 330px,#ff6e00 334px,#ff5700 338px,#ff3f00 343px,#ff2c00 349px,#f20 362px,#ff2400 370px,#ff2d00 380px,#ff4900 388px,#ff5e00 396px,#ff7900 409px,#ff8a00 420px,#ff9f00 444px,#ffab00 475px)"></i>
<i style="background:linear-gradient(90deg,#ffad00 0,#ffa100 33px,#ff8d00 58px,#ff7a00 71px,#ff5f00 84px,#ff4a00 92px,#ff2e00 100px,#ff2300 112px,#f20 122px,#ff2f00 134px,#ff4f00 142px,#ff6c00 147px,#ff8c00 151px,#ffb300 155px,#fbea07 160px,#f7f109 161px,#d7f513 165px,#b9f51d 168px,#98f532 174px,#91f545 179px,#7cf587 184px,#61f5d0 189px,#53f1f8 192px,#4feafe 193px,#45bef9 196px,#347df5 200px,#2550f5 206px,#1a30f8 212px,#141ef4 220px,#1115e9 228px,#0f11dd 239px,#1011e2 247px,#141ef4 261px,#1a31f8 269px,#2040f7 272px,#2651f5 275px,#347ef5 281px,#45bffa 285px,#4febfe 288px,#53f1f7 289px,#5df4dd 291px,#7cf586 297px,#8ef54f 301px,#91f545 302px,#98f532 307px,#b3f520 312px,#d8f513 316px,#f7f009 320px,#fbe907 321px,#febc01 325px,#ff8b00 330px,#ff6b00 334px,#ff4100 342px,#ff2d00 348px,#ff2400 355px,#ff2100 362px,#ff2400 371px,#ff2e00 381px,#ff4700 388px,#ff5d00 396px,#ff7900 409px,#ff8a00 421px,#ff9f00 444px,#ffab00 475px)"></i>
<i style="background:linear-gradient(90deg,#ffad00 0,#ffa000 34px,#ff8b00 59px,#ff7900 71px,#ff5e00 84px,#ff4900 92px,#ff2d00 100px,#ff2300 110px,#ff2000 119px,#ff2900 131px,#ff3000 135px,#ff3b00 138px,#ff6800 147px,#ff9100 152px,#ffb900 156px,#faf008 161px,#dbf512 165px,#b5f51f 169px,#9af531 174px,#92f544 179px,#8ff54b 180px,#79f58f 185px,#5ff5d8 190px,#50f0ff 193px,#47c6fa 196px,#3685f5 200px,#3379f5 201px,#2754f5 206px,#2143f6 209px,#1a2ff8 213px,#141ff4 220px,#1012e5 235px,#1011e2 242px,#1217ec 254px,#141ef4 260px,#1a30f8 268px,#2755f5 275px,#337af5 280px,#3c96f5 282px,#47c7fa 285px,#51f0fd 288px,#5ff5d7 291px,#79f58d 296px,#90f549 301px,#9af530 307px,#b5f51f 312px,#d3f514 315px,#faef08 320px,#ffb700 325px,#ff8700 330px,#ff6800 334px,#ff4c00 339px,#ff2d00 347px,#ff2100 358px,#f20 369px,#ff2d00 381px,#ff4900 389px,#ff5f00 397px,#ff7a00 410px,#ff8b00 422px,#ff9f00 445px,#ffab00 475px)"></i>
<i style="background:linear-gradient(90deg,#ffad00 0,#ffa100 33px,#ff8c00 58px,#ff7b00 70px,#ff6000 83px,#ff4b00 91px,#ff2e00 99px,#f20 111px,#ff2000 122px,#ff2e00 135px,#ff4a00 142px,#ff6b00 148px,#ff8400 151px,#ffb400 156px,#faeb07 161px,#f6f109 162px,#d6f513 166px,#b8f51d 169px,#9cf52f 174px,#98f533 175px,#91f546 180px,#7bf588 185px,#61f5d1 190px,#53f1f8 193px,#4feafe 194px,#45bef9 197px,#347ff5 201px,#2652f5 207px,#1b33f8 213px,#1521f5 220px,#131af0 225px,#1013e7 235px,#1013e7 244px,#141ef4 259px,#1a2ff8 267px,#1f3df7 270px,#2652f5 274px,#3580f5 280px,#45c0fa 284px,#4febfe 287px,#53f1f7 288px,#62f5cf 291px,#7cf587 296px,#91f545 301px,#98f532 306px,#b2f521 311px,#b9f51d 312px,#d7f513 315px,#f6f109 319px,#fbea07 320px,#febd01 324px,#ff8b00 329px,#ff6a00 333px,#ff3c00 342px,#ff2d00 346px,#ff2800 349px,#ff1f00 361px,#ff2300 371px,#ff2e00 382px,#ff4800 389px,#ff5e00 397px,#ff7900 410px,#ff8a00 421px,#ff9e00 444px,#ffab00 475px)"></i>
<i style="background:linear-gradient(90deg,#ffad00 0,#ffa100 33px,#ff8d00 57px,#ff7c00 69px,#ff6100 82px,#ff4c00 90px,#ff2d00 99px,#ff2000 112px,#ff1f00 123px,#ff2e00 136px,#ff4b00 143px,#ff6800 148px,#f80 152px,#ffb900 157px,#f9f008 162px,#dbf512 166px,#b4f51f 170px,#99f531 175px,#92f544 180px,#8ff54c 181px,#5ff5d7 191px,#51f0fe 194px,#47c7fa 197px,#3c97f5 200px,#337bf5 202px,#2550f5 208px,#1b32f8 214px,#131cf2 225px,#1115ea 234px,#1114e8 243px,#141ef4 258px,#1a2ff8 266px,#1d37f7 268px,#2651f5 273px,#347cf5 279px,#4ee5fe 286px,#51f0fc 287px,#5ff5d6 290px,#90f54a 300px,#92f543 301px,#9af531 306px,#b5f51f 311px,#dbf512 315px,#faf008 319px,#ffb800 324px,#ff9000 328px,#ff6e00 332px,#ff5000 337px,#ff3900 342px,#ff2e00 345px,#ff2700 349px,#ff1e00 361px,#f20 371px,#ff2d00 382px,#ff4a00 390px,#ff5f00 398px,#ff7a00 411px,#ff8a00 422px,#ff9f00 445px,#ffab00 475px)"></i>
<i style="background:linear-gradient(90deg,#ffac00 0,#ffa000 33px,#ff8c00 57px,#ff7b00 69px,#ff6000 82px,#ff4b00 90px,#ff2e00 98px,#ff2000 111px,#ff1e00 123px,#ff2300 130px,#ff2e00 137px,#ff4800 143px,#ff6a00 149px,#ff8300 152px,#ffb300 157px,#faeb07 162px,#f6f109 163px,#d6f513 167px,#b8f51d 170px,#9cf52f 175px,#98f533 176px,#91f546 181px,#7bf587 186px,#62f5cf 191px,#53f1f6 194px,#4fecff 195px,#46c2fa 198px,#3683f5 202px,#3379f5 203px,#254ff5 209px,#1b32f8 215px,#141df2 226px,#1116eb 235px,#1116eb 244px,#141df2 255px,#1726f6 261px,#1b32f8 266px,#234bf6 271px,#337af5 278px,#3785f5 279px,#46c4fa 283px,#4fedff 286px,#62f5ce 290px,#7cf586 295px,#91f545 300px,#98f533 305px,#b2f521 310px,#b9f51d 311px,#d7f513 314px,#f6f109 318px,#fbea07 319px,#febd01 323px,#ff8b00 328px,#ff6900 332px,#ff3a00 341px,#ff2e00 344px,#ff2600 349px,#ff1d00 361px,#ff2100 371px,#ff2f00 383px,#ff4800 390px,#ff5e00 398px,#ff7900 411px,#ff8a00 422px,#ff9f00 445px,#ffab00 475px)"></i>
<i style="background:linear-gradient(90deg,#ffac00 0,#ffa000 33px,#ff8c00 57px,#ff7a00 69px,#ff5f00 82px,#ff4a00 90px,#ff2d00 98px,#ff1e00 112px,#ff1d00 123px,#f20 130px,#ff2c00 137px,#ff4500 143px,#f60 149px,#ff7e00 152px,#ffad00 157px,#faf008 163px,#dbf512 167px,#b4f51f 171px,#9af531 176px,#92f543 181px,#90f54a 182px,#60f5d5 192px,#52f1fa 195px,#4ee7fe 196px,#3580f5 203px,#2754f5 209px,#1b32f8 216px,#141df3 227px,#1218ed 236px,#1218ed 244px,#141df3 254px,#182bf7 262px,#1b33f8 265px,#254ff5 271px,#3581f5 278px,#45bffa 282px,#4ee9fe 285px,#52f1f9 286px,#60f5d3 289px,#90f549 299px,#9af531 305px,#b5f51f 310px,#dcf511 314px,#faef08 318px,#ffb700 323px,#ff8e00 327px,#ff6c00 331px,#ff4e00 336px,#ff3200 342px,#ff2300 350px,#ff1c00 361px,#ff2000 371px,#ff2e00 383px,#ff4a00 391px,#ff5d00 398px,#ff7900 411px,#ff8900 422px,#ff9f00 445px,#ffab00 475px)"></i>
<i style="background:linear-gradient(90deg,#ffac00 0,#ffa000 33px,#ff8b00 57px,#ff7a00 69px,#ff6100 81px,#ff4c00 89px,#ff2d00 98px,#ff1f00 110px,#ff1b00 121px,#ff2300 132px,#ff2d00 138px,#f30 140px,#ff4b00 145px,#ff6800 150px,#ff8a00 154px,#febc01 159px,#fbea07 163px,#f6f109 164px,#d7f513 168px,#b9f51d 171px,#b2f521 172px,#98f532 177px,#91f545 182px,#7cf585 187px,#5ef5d9 193px,#50f0fe 196px,#47c8fb 199px,#347df5 204px,#254ff5 211px,#1b33f8 217px,#192df7 219px,#141ef4 228px,#1219ef 237px,#141ff4 253px,#1a30f8 263px,#1d38f7 265px,#2755f5 271px,#347ef5 277px,#47c9fb 282px,#51f0fd 285px,#5ff5d8 288px,#7df583 294px,#8ef54e 298px,#91f545 299px,#98f532 304px,#baf51d 310px,#d8f513 313px,#f7f009 317px,#fbe907 318px,#ffb100 323px,#ff8000 328px,#ff6800 331px,#ff4500 337px,#ff2c00 343px,#ff2100 350px,#ff1c00 357px,#ff1e00 369px,#ff2d00 383px,#ff4c00 392px,#ff5f00 399px,#ff7a00 412px,#ff8a00 423px,#ff9e00 445px,#ffab00 475px)"></i>
<i style="background:linear-gradient(90deg,#ffac00 0,#ffa000 32px,#ff8c00 56px,#ff7b00 68px,#ff6000 81px,#ff4a00 89px,#ff2e00 97px,#ff1d00 112px,#ff1a00 124px,#ff2000 131px,#ff2b00 138px,#ff3000 140px,#ff4200 144px,#ff6400 150px,#ff7b00 153px,#ffab00 158px,#faee08 164px,#dcf511 168px,#b5f51f 172px,#9bf530 177px,#91f547 183px,#62f5cf 193px,#4fedff 197px,#347cf5 205px,#2754f5 211px,#1e3df7 216px,#1a30f8 219px,#1520f4 229px,#131bf1 244px,#1520f5 252px,#192ef8 261px,#254ff5 269px,#347df5 276px,#47c7fa 281px,#50efff 284px,#62f5ce 288px,#91f546 298px,#97f533 303px,#b6f51e 309px,#ddf511 313px,#f4f10a 316px,#faed08 317px,#febf01 321px,#ff8c00 326px,#ff6a00 330px,#ff4c00 335px,#ff3400 340px,#ff2d00 342px,#f20 348px,#ff1a00 359px,#ff1d00 370px,#ff2e00 384px,#ff4700 391px,#ff5e00 399px,#ff7900 412px,#ff8a00 423px,#ff9e00 445px,#ffab00 475px)"></i>
<i style="background:linear-gradient(90deg,#ffac00 0,#ffa000 32px,#ff8c00 56px,#ff7a00 68px,#ff5f00 81px,#ff4c00 88px,#ff2d00 97px,#ff1b00 112px,#ff1900 124px,#ff2700 137px,#ff3000 141px,#ff3e00 144px,#ff5f00 150px,#ff7500 153px,#ffa400 158px,#fbe707 164px,#f8f009 165px,#d9f512 169px,#b3f520 173px,#99f532 178px,#92f544 183px,#8ff54c 184px,#60f5d3 194px,#53f1f8 197px,#4febfe 198px,#347cf5 206px,#2755f5 212px,#2042f6 216px,#1a2ff8 221px,#1726f6 227px,#141ef4 235px,#141ef3 244px,#1623f5 252px,#1a2ff8 260px,#2550f5 268px,#347cf5 275px,#4fecff 283px,#53f1f7 284px,#61f5d2 287px,#90f54a 297px,#92f544 298px,#99f531 303px,#b4f51f 308px,#daf512 312px,#f9f008 316px,#ffb800 321px,#ff8f00 325px,#ff6c00 329px,#ff4d00 334px,#ff3000 340px,#ff1f00 349px,#ff1800 359px,#ff1c00 370px,#ff2d00 384px,#ff4900 392px,#ff5f00 400px,#ff7900 412px,#ff8900 423px,#ff9e00 445px,#ffab00 475px)"></i>
<i style="background:linear-gradient(90deg,#ffac00 0,#ffa000 32px,#ff8b00 56px,#ff7a00 68px,#ff5e00 81px,#ff4800 89px,#ff2e00 96px,#ff1a00 112px,#ff1800 125px,#ff2500 137px,#ff2d00 141px,#ff3a00 144px,#f50 149px,#ff6f00 153px,#ff9d00 158px,#faeb07 165px,#f6f109 166px,#d6f513 170px,#b8f51d 173px,#9cf52f 178px,#98f533 179px,#91f545 184px,#7df583 189px,#5ff5d6 195px,#52f1fa 198px,#4ee9fe 199px,#347cf5 207px,#2551f5 214px,#1a2ff8 223px,#1623f5 233px,#1520f4 243px,#1624f5 250px,#1a2ff8 258px,#2651f5 267px,#347cf5 274px,#4feafe 282px,#52f1f9 283px,#60f5d4 286px,#7df582 292px,#8ef54e 296px,#91f545 297px,#98f532 302px,#b2f521 307px,#b9f51d 308px,#dff410 312px,#f6f109 315px,#fbea07 316px,#febc01 320px,#ff9200 324px,#ff6700 329px,#ff4900 334px,#ff3000 339px,#ff1e00 348px,#ff1700 359px,#ff1c00 371px,#ff2e00 385px,#ff4800 392px,#ff5e00 400px,#ff7800 412px,#ff8900 423px,#ff9e00 445px,#ffab00 475px)"></i>
<i style="background:linear-gradient(90deg,#ffac00 0,#ffa000 32px,#ff8b00 56px,#ff7b00 67px,#ff6000 80px,#ff4a00 88px,#ff2d00 96px,#ff1900 112px,#ff1600 125px,#ff2300 137px,#ff2d00 142px,#ff3a00 145px,#ff5600 150px,#ff7100 154px,#ffa000 159px,#faef08 166px,#dcf511 170px,#b5f51f 174px,#9bf530 179px,#91f546 185px,#5ff5d8 196px,#52f1fb 199px,#4ee8fe 200px,#347cf5 208px,#2652f5 215px,#1a2ff8 225px,#1625f6 234px,#1624f5 243px,#1a2ff8 256px,#2653f5 266px,#347df5 273px,#4ee9fe 281px,#52f1fa 282px,#5ff5d6 285px,#91f546 296px,#98f533 301px,#b6f51e 307px,#ddf511 311px,#f4f10a 314px,#faed08 315px,#febf01 319px,#ff8b00 324px,#ff6800 328px,#ff4a00 333px,#ff3000 338px,#ff1e00 347px,#ff1600 358px,#ff1a00 370px,#ff2d00 385px,#ff4a00 393px,#ff5d00 400px,#ff7900 413px,#ff8a00 424px,#ff9e00 446px,#ffab00 475px)"></i>
<i style="background:linear-gradient(90deg,#ffac00 0,#ffa000 32px,#ff8b00 56px,#ff7a00 67px,#ff5f00 80px,#ff4c00 87px,#ff2d00 96px,#ff1800 112px,#ff1500 125px,#ff2100 137px,#ff2d00 143px,#ff3600 145px,#ff6a00 154px,#ff9800 159px,#ffb800 162px,#fbe607 166px,#f9f008 167px,#daf512 171px,#b4f51f 175px,#99f531 180px,#90f549 186px,#5ef5d9 197px,#51f0fc 200px,#4ee7fe 201px,#347ef5 209px,#2550f5 217px,#1a30f8 227px,#1728f6 235px,#1727f6 243px,#1a30f8 254px,#2041f6 260px,#2755f5 265px,#357ff5 272px,#4ee8fe 280px,#52f1fa 281px,#5ff5d8 284px,#91f547 295px,#9af531 301px,#b4f51f 306px,#dbf512 310px,#faf008 314px,#ffb700 319px,#ff8d00 323px,#ff6a00 327px,#ff4a00 332px,#ff3000 337px,#ff1c00 347px,#ff1400 358px,#ff1900 370px,#ff2d00 385px,#ff4c00 394px,#ff5f00 401px,#ff7900 413px,#ff8a00 424px,#ff9e00 446px,#ffab00 475px)"></i>
<i style="background:linear-gradient(90deg,#ffac00 0,#ffa000 32px,#ff8b00 55px,#ff7a00 67px,#ff6000 79px,#ff4b00 87px,#ff2e00 95px,#ff1700 112px,#ff1300 126px,#ff2000 138px,#ff2d00 144px,#ff3600 146px,#ff6c00 155px,#ff9b00 160px,#fbe907 167px,#f7f009 168px,#d7f513 172px,#b9f51d 175px,#98f532 181px,#92f544 186px,#8ff54b 187px,#5ef5d9 198px,#51f0fb 201px,#4ee7fe 202px,#3581f5 210px,#2652f5 218px,#1f3ef7 224px,#1a30f8 230px,#182bf7 243px,#1b34f8 253px,#2248f6 260px,#2a5df5 265px,#3682f5 271px,#4ee9fe 279px,#52f1fa 280px,#5ff5d8 283px,#90f54a 294px,#99f531 300px,#b3f520 305px,#d8f513 309px,#f8f009 313px,#ffba00 318px,#ff8f00 322px,#ff6b00 326px,#ff4b00 331px,#ff3100 336px,#ff1b00 346px,#ff1300 358px,#ff1900 371px,#ff2e00 386px,#ff4800 393px,#ff5e00 401px,#ff7800 413px,#ff8900 424px,#ff9e00 446px,#ffab00 475px)"></i>
<i style="background:linear-gradient(90deg,#ffac00 0,#ffa000 32px,#ff8b00 55px,#ff7b00 66px,#ff5f00 79px,#ff4900 87px,#ff2d00 95px,#ff1600 112px,#f10 125px,#ff1c00 137px,#ff2d00 145px,#ff3600 147px,#ff5200 152px,#ff6d00 156px,#ff9200 160px,#febd01 164px,#faeb07 168px,#f5f109 169px,#d5f514 173px,#b7f51e 176px,#b1f521 177px,#98f532 182px,#92f544 187px,#8ff54d 188px,#5ef5d9 199px,#52f1fb 202px,#4ee9fe 203px,#3685f5 211px,#337bf5 212px,#2a60f5 217px,#254ef5 221px,#1e3af7 228px,#1a30f8 234px,#192ef8 240px,#1a30f8 247px,#1c36f7 251px,#2248f6 258px,#295bf5 263px,#347cf5 269px,#3b91f5 271px,#4feafe 278px,#52f1fa 279px,#5ff5d8 282px,#8ff54b 293px,#92f544 294px,#98f532 299px,#b2f521 304px,#f6f109 312px,#faea07 313px,#febc01 317px,#ff9100 321px,#ff6d00 325px,#ff4c00 330px,#ff3000 335px,#ff1b00 345px,#f10 357px,#ff1700 370px,#ff2d00 386px,#ff4a00 394px,#ff5d00 401px,#f70 413px,#ff8900 424px,#ff9e00 446px,#fa0 475px)"></i>
<i style="background:linear-gradient(90deg,#ffac00 0,#ff9f00 32px,#ff8b00 55px,#ff7a00 66px,#ff5f00 79px,#ff4800 87px,#ff2e00 94px,#ff1600 111px,#ff1000 125px,#ff1a00 137px,#ff3100 147px,#ff4d00 152px,#ff6f00 157px,#ff9e00 162px,#faee08 169px,#f4f10a 170px,#ddf511 173px,#b6f51e 177px,#98f533 183px,#91f545 188px,#8ef54e 189px,#5ef5d9 200px,#52f1f9 203px,#4feafe 204px,#347ef5 213px,#2f6df5 216px,#2652f5 222px,#2144f6 227px,#1d37f7 234px,#1b33f8 240px,#1c36f7 246px,#2042f6 253px,#2652f5 259px,#2d69f5 264px,#357ff5 268px,#4fecff 277px,#53f1f8 278px,#5ff5d7 281px,#8ff54d 292px,#92f544 293px,#98f533 298px,#b6f51e 304px,#def411 308px,#f5f10a 311px,#faec08 312px,#febe01 316px,#ff9300 320px,#ff6e00 324px,#ff4c00 329px,#ff3000 334px,#ff1800 345px,#ff0f00 357px,#ff1600 370px,#ff2c00 386px,#ff4c00 395px,#ff5f00 402px,#ff7900 414px,#f80 424px,#ff9e00 446px,#fa0 475px)"></i>
<i style="background:linear-gradient(90deg,#ffac00 0,#ff9f00 32px,#ff8a00 55px,#ff7a00 66px,#ff5e00 79px,#ff4a00 86px,#ff2d00 94px,#ff1400 112px,#ff0e00 126px,#ff1900 138px,#ff3100 148px,#ff4d00 153px,#ff6f00 158px,#ffa000 163px,#faf008 170px,#f3f10a 171px,#dcf512 174px,#b5f51f 178px,#98f533 184px,#91f545 189px,#8ef54f 190px,#5ff5d7 201px,#4fedff 205px,#3a8ff5 213px,#337bf5 215px,#3276f5 216px,#295bf5 222px,#244df5 226px,#2040f7 233px,#1e3bf7 240px,#1f3ef7 246px,#2349f6 253px,#2653f5 257px,#3072f5 264px,#347cf5 266px,#3785f5 267px,#50eeff 276px,#5ff5d6 280px,#8ff54d 291px,#91f545 292px,#98f533 297px,#b6f51e 303px,#dcf511 307px,#faee08 311px,#ffb400 316px,#ff8a00 320px,#ff6700 324px,#ff3000 333px,#ff1700 344px,#ff0e00 357px,#ff1500 370px,#ff2d00 387px,#ff4700 394px,#ff5e00 402px,#ff7800 414px,#f80 424px,#ff9d00 446px,#fa0 475px)"></i>
<i style="background:linear-gradient(90deg,#ffac00 0,#ff9f00 32px,#ff8a00 55px,#ff7900 66px,#ff5f00 78px,#ff4c00 85px,#ff2d00 94px,#ff1300 111px,#ff0c00 125px,#ff1700 138px,#ff3000 149px,#ff6800 158px,#ff8c00 162px,#ffb700 166px,#f9f008 171px,#dbf512 175px,#b4f51f 179px,#97f534 185px,#91f545 190px,#60f5d5 202px,#50f0ff 206px,#3c96f5 214px,#337af5 217px,#2653f5 227px,#2247f6 233px,#2042f6 240px,#2145f6 246px,#2550f5 253px,#2b61f5 258px,#337bf5 264px,#3c97f5 267px,#50f0fe 275px,#60f5d4 279px,#8ff54d 290px,#91f545 291px,#98f533 296px,#b5f51f 302px,#dbf512 306px,#faf008 310px,#ffa000 317px,#ff6f00 322px,#ff4c00 327px,#ff3000 332px,#ff1700 343px,#ff0d00 354px,#ff1300 369px,#ff2d00 387px,#ff4a00 395px,#ff5d00 402px,#f70 414px,#ff8900 425px,#ff9e00 447px,#fa0 475px)"></i>
<i style="background:linear-gradient(90deg,#ffac00 0,#ff9f00 32px,#ff8a00 55px,#ff7900 66px,#ff5f00 78px,#ff4800 86px,#ff2e00 93px,#ff2a00 95px,#ff1000 113px,#ff0b00 127px,#ff1600 139px,#ff3000 150px,#ff5400 156px,#ff7100 160px,#ffb800 167px,#f9f008 172px,#daf512 176px,#b4f51f 180px,#97f534 186px,#91f545 191px,#61f5d2 203px,#51f0fb 207px,#4fe9fe 208px,#3b93f5 216px,#337af5 219px,#2b62f5 225px,#2754f5 230px,#234af6 240px,#2652f5 250px,#2b63f5 256px,#337bf5 262px,#3b94f5 265px,#4febfe 273px,#52f1fa 274px,#5df4dc 277px,#8ff54d 289px,#91f545 290px,#98f533 295px,#b5f51f 301px,#dbf512 305px,#f9f008 309px,#ffb700 314px,#ff8c00 318px,#ff6700 322px,#ff2f00 331px,#ff1400 343px,#ff0a00 356px,#ff1200 370px,#ff2e00 388px,#ff4800 395px,#ff5d00 402px,#f70 414px,#ff8700 424px,#ff9d00 446px,#fa0 475px)"></i>
<i style="background:linear-gradient(90deg,#ffac00 0,#ff9f00 32px,#ff8900 55px,#ff7800 66px,#ff5e00 78px,#ff4a00 85px,#ff2d00 93px,#ff2a00 95px,#ff0f00 113px,#ff0900 127px,#ff1300 139px,#ff2f00 151px,#ff5300 157px,#ff7100 161px,#ffb900 168px,#f8f009 173px,#d9f512 177px,#b4f51f 181px,#97f534 187px,#91f545 192px,#8ff54d 193px,#5ef5da 205px,#50efff 209px,#3b93f5 218px,#337bf5 221px,#2d69f5 226px,#295cf5 231px,#2652f5 240px,#2754f5 245px,#295cf5 250px,#2e69f5 255px,#347cf5 260px,#3b94f5 263px,#50f0ff 272px,#5ef5d9 276px,#8ff54c 288px,#92f544 289px,#98f533 294px,#b4f51f 300px,#daf512 304px,#f9f008 308px,#ffb700 313px,#ff8d00 317px,#ff6800 321px,#ff2f00 330px,#ff1300 342px,#ff0900 355px,#ff1000 369px,#ff2d00 388px,#ff4b00 396px,#ff5e00 403px,#ff7800 415px,#f80 425px,#ff9e00 447px,#fa0 475px)"></i>
<i style="background:linear-gradient(90deg,#ffac00 0,#ff9f00 32px,#ff8900 55px,#ff7900 65px,#ff6000 77px,#ff4900 85px,#ff2f00 92px,#ff2500 97px,#ff0d00 114px,#ff0700 128px,#ff1200 140px,#ff2e00 152px,#ff5300 158px,#ff7100 162px,#ffb900 169px,#f8f009 174px,#d9f512 178px,#b4f51f 182px,#97f534 188px,#92f544 193px,#8ff54c 194px,#60f5d5 206px,#51f0fb 210px,#4feafe 211px,#3e9df6 219px,#347df5 223px,#2c64f5 232px,#295cf5 241px,#2d66f5 250px,#347ef5 258px,#3e9ef6 262px,#4febfe 270px,#52f1fa 271px,#60f5d4 275px,#8ff54b 287px,#92f544 288px,#98f533 293px,#b4f51f 299px,#daf512 303px,#f9f008 307px,#ffb800 312px,#ff8d00 316px,#ff6800 320px,#ff2e00 329px,#ff1c00 336px,#ff1000 342px,#ff0700 355px,#ff0f00 369px,#ff2d00 388px,#ff4a00 396px,#ff5d00 403px,#ff7800 415px,#f80 425px,#ff9d00 447px,#fa0 475px)"></i>
<i style="background:linear-gradient(90deg,#ffac00 0,#ff9f00 31px,#ff8a00 54px,#ff7900 65px,#ff6100 76px,#ff4c00 84px,#ff2e00 92px,#ff1e00 101px,#ff0900 117px,#ff0600 131px,#ff1300 142px,#ff2e00 153px,#ff5300 159px,#ff7100 163px,#ffb900 170px,#f8f009 175px,#d9f512 179px,#b4f51f 183px,#98f533 189px,#90f54a 195px,#61f5d0 207px,#50f0fe 212px,#3c98f5 222px,#347df5 226px,#2f6cf5 233px,#2d66f5 240px,#2f6df5 248px,#347ef5 255px,#3d99f5 259px,#4ee9fe 268px,#51f0fd 269px,#5ef5d9 273px,#90f549 286px,#9cf530 293px,#b5f51f 298px,#daf512 302px,#f9f008 306px,#ffb800 311px,#ff7000 318px,#ff4c00 323px,#ff2d00 328px,#ff1300 339px,#ff0600 350px,#ff0900 364px,#ff1f00 381px,#ff2e00 389px,#ff4c00 397px,#ff6200 405px,#ff7900 416px,#ff8900 426px,#ff9d00 447px,#fa0 475px)"></i>
<i style="background:linear-gradient(90deg,#ffac00 0,#ffa000 30px,#ff8b00 53px,#ff7a00 64px,#ff6300 75px,#ff4b00 84px,#ff2d00 92px,#ff1800 104px,#ff0600 118px,#ff0600 134px,#ff1600 145px,#ff2700 152px,#ff3200 155px,#ff5200 160px,#ff7000 164px,#ffb900 171px,#f8f009 176px,#d9f512 180px,#b4f51f 184px,#9cf530 189px,#91f547 196px,#60f5d5 209px,#50f0ff 214px,#3e9ef6 224px,#3581f5 229px,#3275f5 234px,#3071f5 240px,#3276f5 247px,#3581f5 252px,#3e9ff6 257px,#50f0ff 267px,#60f5d4 272px,#91f546 285px,#98f532 291px,#b5f51f 297px,#daf512 301px,#f9f008 305px,#ffb800 310px,#ff7000 317px,#ff3200 326px,#ff1500 336px,#ff0600 347px,#ff0600 363px,#ff1900 378px,#ff2d00 389px,#ff4b00 397px,#ff6100 405px,#ff7a00 417px,#ff8a00 427px,#ff9e00 448px,#fa0 475px)"></i>
<i style="background:linear-gradient(90deg,#ffac00 0,#ff9f00 30px,#ff8c00 52px,#ff7c00 63px,#ff6500 74px,#ff4d00 83px,#ff2d00 92px,#ff1300 106px,#ff0600 117px,#ff0600 137px,#ff1700 147px,#ff3100 156px,#ff7000 165px,#ffb800 172px,#fbe707 176px,#f8f009 177px,#daf512 181px,#b5f51f 185px,#98f532 191px,#91f546 197px,#62f5ce 210px,#50f0ff 216px,#43b4f8 224px,#3c95f5 229px,#3580f5 235px,#337bf5 240px,#3580f5 246px,#3c96f5 252px,#43b4f8 257px,#50f0ff 265px,#63f5cd 271px,#91f545 284px,#98f532 290px,#b5f51e 296px,#dbf512 300px,#f9f008 304px,#ffb700 309px,#ff6f00 316px,#ff3100 325px,#ff1700 334px,#ff0600 344px,#ff0600 364px,#ff1400 375px,#ff2d00 389px,#ff4d00 398px,#ff6200 406px,#ff7a00 417px,#ff8b00 428px,#ff9e00 448px,#fa0 475px)"></i>
<i style="background:linear-gradient(90deg,#ffab00 0,#ff9f00 30px,#ff8c00 52px,#ff7b00 63px,#ff6400 74px,#ff4c00 83px,#ff2e00 91px,#f10 107px,#ff0600 115px,#ff0500 137px,#ff0700 140px,#ff1300 147px,#ff3000 157px,#ff6f00 166px,#ffb700 173px,#f9f008 178px,#dbf512 182px,#b6f51e 186px,#99f532 192px,#92f545 198px,#8ff54c 199px,#62f5d0 212px,#50f0fe 218px,#49cefb 223px,#40a6f7 230px,#3c95f5 235px,#3a8ff5 240px,#3b93f5 245px,#3fa2f6 250px,#43b7f9 254px,#4feafe 262px,#51f0fd 263px,#5ff5d8 268px,#70f5a8 273px,#90f54b 282px,#92f544 283px,#99f531 289px,#b6f51e 295px,#dcf511 299px,#faf008 303px,#ffb600 308px,#ff6e00 315px,#ff3000 324px,#ff1600 333px,#ff0600 342px,#fe0500 358px,#ff0800 368px,#ff2e00 390px,#ff4600 396px,#ff5b00 403px,#ff8400 423px,#ff9b00 445px,#fa0 475px)"></i>
<i style="background:linear-gradient(90deg,#ffab00 0,#ffa000 29px,#ff8c00 51px,#ff7c00 62px,#ff6300 74px,#ff4b00 83px,#ff2d00 91px,#ff0e00 108px,#ff0600 114px,#fe0500 139px,#ff0700 142px,#ff1200 148px,#ff2f00 158px,#ff6e00 167px,#ffb600 174px,#faf008 179px,#dcf511 183px,#b7f51e 187px,#b2f521 188px,#9af531 193px,#91f547 200px,#72f5a2 209px,#61f5d0 214px,#54f1f5 219px,#4fedff 221px,#49d0fb 226px,#43b4f8 232px,#40a9f7 236px,#3fa5f7 240px,#40a7f7 244px,#43b5f8 249px,#49d0fb 255px,#50eeff 260px,#57f2ed 263px,#62f5cf 267px,#72f5a1 272px,#91f546 281px,#97f534 287px,#b2f521 293px,#b8f51d 294px,#ddf511 298px,#faef08 302px,#ffb500 307px,#ff6d00 314px,#ff2e00 323px,#ff1400 332px,#ff0600 340px,#fd0400 355px,#ff0700 368px,#ff2e00 390px,#ff4800 397px,#ff5a00 403px,#ff8300 423px,#ff9b00 445px,#fa0 475px)"></i>
<i style="background:linear-gradient(90deg,#ffab00 0,#ff9d00 33px,#ff8400 57px,#ff5b00 77px,#ff4700 84px,#ff2d00 91px,#ff0700 112px,#fe0500 139px,#ff0600 143px,#ff0d00 147px,#ff2e00 159px,#ff6d00 168px,#ffb500 175px,#faef08 180px,#f4f10a 181px,#b3f520 189px,#98f533 195px,#91f545 201px,#65f5c7 215px,#5cf4de 218px,#51f0fc 223px,#47cafb 232px,#45c0fa 236px,#44bbf9 240px,#45bef9 244px,#48cafb 249px,#4bd9fc 253px,#4feeff 257px,#55f2f0 260px,#62f5cf 265px,#91f545 280px,#98f533 286px,#b3f520 292px,#f4f10a 300px,#faed08 301px,#ffb400 306px,#ff6c00 313px,#f30 321px,#ff2700 324px,#ff1300 331px,#ff0700 337px,#fe0500 340px,#fd0400 355px,#ff0700 369px,#ff2d00 390px,#ff5900 403px,#ff8300 423px,#ff9b00 445px,#fa0 475px)"></i>
<i style="background:linear-gradient(90deg,#ffab00 0,#ff9d00 33px,#ff8400 57px,#ff5b00 77px,#ff4600 84px,#ff2e00 90px,#ff0600 112px,#fe0500 142px,#ff0600 145px,#ff1200 151px,#ff2600 158px,#ff3200 161px,#ff6b00 169px,#ffb300 176px,#faed08 181px,#f5f10a 182px,#b4f51f 190px,#98f532 196px,#90f548 203px,#74f59b 212px,#65f5c5 217px,#5bf4e1 221px,#50f0ff 227px,#4ad7fc 234px,#49d0fb 240px,#4bd7fc 247px,#50f0ff 254px,#5cf4e0 260px,#66f5c4 264px,#75f59b 269px,#91f547 278px,#99f532 285px,#b4f51f 291px,#d8f513 295px,#f6f109 299px,#faeb07 300px,#febd01 304px,#ff6a00 312px,#ff3200 320px,#ff2000 325px,#ff0d00 332px,#ff0600 336px,#fe0500 340px,#ff0600 369px,#ff2c00 390px,#ff4a00 398px,#ff5b00 404px,#ff8200 423px,#ff9b00 445px,#fa0 475px)"></i>
<i style="background:linear-gradient(90deg,#ffab00 0,#ff9d00 33px,#ff8300 57px,#ff5a00 77px,#ff4500 84px,#ff2e00 90px,#ff0600 111px,#fd0400 141px,#ff0a00 149px,#ff1c00 156px,#ff3100 162px,#ff6900 170px,#ffb100 177px,#faea07 182px,#f6f109 183px,#d9f512 187px,#b5f51f 191px,#9af531 197px,#91f545 204px,#75f59b 214px,#67f5c2 219px,#5df4db 223px,#55f2f2 228px,#50f0ff 232px,#4ee6fe 236px,#4de3fe 240px,#4ee5fe 244px,#50f0ff 249px,#58f3ea 255px,#62f5cf 260px,#72f5a3 266px,#90f54a 276px,#92f545 277px,#98f533 283px,#b6f51e 290px,#daf512 294px,#f7f009 298px,#fbe907 299px,#ffb000 304px,#ff6900 311px,#ff3000 319px,#ff0c00 331px,#ff0600 334px,#fe0400 338px,#fc0200 353px,#ff0600 370px,#ff2e00 391px,#ff4500 397px,#ff5a00 404px,#ff8200 423px,#ff9b00 445px,#fa0 475px)"></i>
<i style="background:linear-gradient(90deg,#ffab00 0,#ff9d00 33px,#ff8300 57px,#ff5900 77px,#ff4700 83px,#ff2d00 90px,#ff0600 110px,#fc0200 127px,#fd0400 142px,#ff0700 149px,#ff1800 156px,#ff2f00 163px,#ff7100 172px,#ffba01 179px,#f8f009 184px,#dbf512 188px,#b7f51e 192px,#98f532 199px,#91f546 206px,#72f5a1 217px,#60f5d5 225px,#55f2f1 233px,#52f1fa 240px,#55f2f3 247px,#5ef5d9 255px,#70f5a8 263px,#91f545 275px,#98f532 282px,#b8f51d 289px,#dcf511 293px,#f9f008 297px,#ffb900 302px,#ff7000 309px,#ff2e00 318px,#ff0900 331px,#fd0400 338px,#fc0200 354px,#ff0600 371px,#ff2d00 391px,#ff4800 398px,#ff5a00 404px,#ff8200 423px,#ff9a00 445px,#fa0 475px)"></i>
<i style="background:linear-gradient(90deg,#ffab00 0,#ff9d00 32px,#ff8400 56px,#ff7400 65px,#ff5b00 76px,#ff4700 83px,#ff2c00 90px,#ff0700 109px,#fb0200 126px,#fd0300 143px,#ff0700 151px,#ff2e00 164px,#ff6f00 173px,#ffb800 180px,#faf008 185px,#ddf411 189px,#b4f51f 194px,#9af531 200px,#91f547 208px,#83f571 213px,#74f59d 219px,#63f5cc 227px,#5cf4e0 233px,#58f3e9 240px,#5bf4e2 247px,#5ff5d7 251px,#63f5cb 254px,#74f59d 262px,#83f570 268px,#91f546 273px,#9af531 281px,#b4f51f 287px,#def411 292px,#faef08 296px,#ffb700 301px,#ff6e00 308px,#ff2d00 317px,#ff0700 330px,#fd0300 337px,#fb0200 354px,#ff0700 372px,#ff2d00 391px,#ff5900 404px,#ff8100 423px,#ff9a00 445px,#fa0 475px)"></i>
<i style="background:linear-gradient(90deg,#ffab00 0,#ff9d00 32px,#ff8400 56px,#ff7400 65px,#ff5b00 76px,#ff4600 83px,#ff2e00 89px,#ff0600 109px,#fb0100 128px,#fc0300 144px,#ff0600 152px,#ff1c00 160px,#ff3200 166px,#ff6d00 174px,#ffb500 181px,#faed08 186px,#f5f10a 187px,#d8f513 191px,#b6f51e 195px,#98f532 202px,#90f548 210px,#83f56f 215px,#78f592 220px,#68f5bd 228px,#61f5d0 234px,#5ff5d7 240px,#61f5d2 246px,#68f5bd 253px,#78f591 261px,#84f56f 266px,#91f547 271px,#98f532 279px,#b6f51e 286px,#d9f512 290px,#f6f109 294px,#faec07 295px,#ffb400 300px,#ff6c00 307px,#ff3100 315px,#ff1b00 321px,#ff0800 328px,#fd0300 336px,#fb0100 353px,#ff0600 372px,#ff2c00 391px,#ff5800 404px,#ff8100 423px,#ff9a00 445px,#ffa900 475px)"></i>
<i style="background:linear-gradient(90deg,#ffab00 0,#ff9d00 32px,#ff8400 56px,#ff5f00 74px,#ff4800 82px,#ff2e00 89px,#ff0600 108px,#fa0100 128px,#fc0200 145px,#ff0700 154px,#ff1a00 161px,#ff3000 167px,#ff6a00 175px,#ffb200 182px,#fbe907 187px,#f7f009 188px,#dbf512 192px,#b9f51d 196px,#98f533 204px,#90f548 212px,#7ef580 220px,#6ff5aa 228px,#68f5bd 234px,#66f5c4 240px,#68f5bf 246px,#6ef5ae 252px,#74f59c 256px,#7ef580 261px,#91f547 269px,#98f533 277px,#b4f520 284px,#f8f009 293px,#fbe807 294px,#ffb100 299px,#ff6900 306px,#ff2f00 314px,#ff0700 327px,#fc0200 336px,#fb0100 354px,#ff0600 373px,#ff2e00 392px,#ff4500 398px,#ff5800 404px,#ff8100 423px,#ff9a00 445px,#ffa900 475px)"></i>
<i style="background:linear-gradient(90deg,#ffab00 0,#ff9d00 32px,#ff8300 56px,#ff5f00 74px,#ff4b00 81px,#ff2d00 89px,#ff0700 107px,#f80000 132px,#fb0200 145px,#ff0600 155px,#ff2e00 168px,#ff7100 177px,#ffba00 184px,#faf008 189px,#d6f513 194px,#b5f51e 198px,#99f531 205px,#91f547 214px,#82f575 221px,#74f59b 229px,#6ef5ac 235px,#6df5b1 240px,#6ef5ae 245px,#73f59f 251px,#80f57a 259px,#91f546 267px,#9af531 276px,#b6f51e 283px,#d7f513 287px,#faf008 292px,#ffb800 297px,#ff7000 304px,#ff2e00 313px,#ff0800 325px,#fc0200 335px,#f80000 348px,#ff0600 373px,#ff2d00 392px,#ff4800 399px,#ff5a00 405px,#ff8200 424px,#ff9b00 446px,#ffa900 475px)"></i>
<i style="background:linear-gradient(90deg,#ffab00 0,#ff9e00 30px,#ff8700 53px,#ff7900 62px,#ff6100 73px,#ff4a00 81px,#ff2c00 89px,#ff0800 106px,#f90000 126px,#f20000 134px,#fa0000 141px,#ff0600 156px,#ff2500 167px,#f30 170px,#ff6e00 178px,#ffb600 185px,#faed08 190px,#daf512 195px,#b4f520 200px,#99f532 207px,#91f546 216px,#82f574 224px,#79f590 231px,#75f59b 236px,#73f59e 241px,#75f599 246px,#7af58c 251px,#82f573 257px,#91f545 265px,#99f531 274px,#b4f51f 281px,#f6f109 290px,#faec07 291px,#ffb500 296px,#ff6d00 303px,#ff2c00 312px,#ff0600 324px,#fb0100 336px,#f20000 348px,#fa0000 356px,#ff0600 374px,#ff2d00 392px,#ff4b00 400px,#ff5f00 407px,#ff8000 423px,#ff9a00 445px,#ffa900 475px)"></i>
<i style="background:linear-gradient(90deg,#ffab00 0,#ff9e00 30px,#ff8700 53px,#ff7800 62px,#ff6000 73px,#ff4a00 81px,#ff2e00 88px,#ff0700 106px,#f80000 124px,#e00 130px,#ec0000 135px,#ef0000 139px,#fa0000 145px,#ff0600 158px,#ff1a00 165px,#ff3000 171px,#ff6300 178px,#ffb200 186px,#f8f009 192px,#d6f513 197px,#b6f51e 201px,#98f532 209px,#91f547 219px,#86f567 225px,#7ff57e 231px,#7bf589 236px,#7af58c 241px,#7bf588 245px,#7ff57e 250px,#86f567 256px,#91f547 262px,#99f532 272px,#b7f51e 280px,#d7f513 284px,#f9f008 289px,#ffb100 295px,#ff6b00 302px,#ff3000 310px,#ff0700 322px,#fa0000 336px,#ef0000 342px,#ec0000 347px,#ef0000 352px,#fa0000 358px,#ff0700 375px,#ff2f00 393px,#ff4a00 400px,#ff5e00 407px,#ff8100 424px,#ff9a00 446px,#ffa900 475px)"></i>
<i style="background:linear-gradient(90deg,#ffab00 0,#ff9e00 30px,#ff8700 53px,#ff7800 62px,#ff6000 73px,#ff4900 81px,#ff2e00 88px,#ff0800 105px,#f90000 122px,#ea0000 129px,#e50000 135px,#eb0000 141px,#fa0000 147px,#ff0500 159px,#ff1500 165px,#ff2e00 172px,#ff6900 180px,#ffb900 188px,#faee08 193px,#daf512 198px,#b5f51f 203px,#98f532 211px,#90f548 222px,#89f55f 227px,#83f56f 232px,#80f578 237px,#80f57a 241px,#83f56f 249px,#89f55f 254px,#91f547 259px,#99f532 270px,#b5f51f 278px,#f5f10a 287px,#faed08 288px,#ffb800 293px,#ff6800 301px,#ff2e00 309px,#ff0600 321px,#fa0000 334px,#eb0000 340px,#e60000 347px,#eb0000 353px,#f90000 359px,#ff0600 375px,#ff2e00 393px,#ff4900 400px,#ff5e00 407px,#ff8100 424px,#ff9a00 446px,#ffa900 475px)"></i>
<i style="background:linear-gradient(90deg,#ffab00 0,#ff9e00 30px,#ff8700 53px,#ff7800 62px,#ff5f00 73px,#ff4800 81px,#ff2d00 88px,#ff0700 105px,#f80000 121px,#e40000 129px,#df0000 136px,#e70000 143px,#f90000 149px,#ff0600 161px,#ff0e00 164px,#ff2d00 173px,#ff4800 177px,#ff6f00 182px,#ffb500 189px,#fbea07 194px,#f7f009 195px,#d7f513 200px,#b4f51f 205px,#99f532 213px,#91f546 225px,#8bf559 230px,#87f565 235px,#86f569 240px,#86f567 244px,#8af55b 250px,#91f546 256px,#99f531 268px,#b4f51f 276px,#f8f009 286px,#ffb400 292px,#ff6e00 299px,#ff2c00 308px,#ff0700 319px,#fa0000 331px,#e50000 339px,#df0000 346px,#e60000 353px,#fa0000 361px,#ff0600 375px,#ff2d00 393px,#ff4800 400px,#ff5d00 407px,#ff8100 424px,#ff9a00 446px,#ffa900 475px)"></i>
<i style="background:linear-gradient(90deg,#ffab00 0,#ff9e00 30px,#ff8600 53px,#f70 62px,#ff5f00 73px,#ff4b00 80px,#ff2d00 88px,#ff0600 105px,#f70000 120px,#e10000 128px,#d90000 136px,#e00000 143px,#fa0000 152px,#ff0900 164px,#ff3100 175px,#ff6c00 183px,#ffb100 190px,#faef08 196px,#dcf512 201px,#b7f51e 206px,#99f531 215px,#91f546 229px,#8cf555 236px,#8cf556 244px,#91f546 252px,#9af531 266px,#b8f51d 275px,#f5f10a 284px,#faee08 285px,#ffba01 290px,#ff6b00 298px,#ff3000 306px,#ff0600 318px,#fa0000 329px,#e20000 337px,#d90000 345px,#e10000 353px,#fa0000 362px,#ff0600 376px,#ff2d00 393px,#ff4800 400px,#ff5d00 407px,#ff8100 424px,#ff9a00 446px,#ffa900 475px)"></i>
<i style="background:linear-gradient(90deg,#ffab00 0,#ff9e00 30px,#ff8600 53px,#f70 62px,#ff5e00 73px,#ff4a00 80px,#ff2c00 88px,#ff0700 104px,#fa0000 118px,#f70000 119px,#dc0000 128px,#d30000 137px,#d00 145px,#fa0000 154px,#ff0800 165px,#ff2e00 176px,#ff6900 184px,#ffb700 192px,#fbea07 197px,#f8f009 198px,#d9f512 203px,#b6f51e 208px,#98f532 218px,#93f540 228px,#91f547 239px,#94f53f 254px,#98f532 263px,#b3f520 272px,#b7f51e 273px,#daf512 278px,#f8f009 283px,#ffb600 289px,#ff6800 297px,#ff2e00 305px,#ff0800 316px,#fa0000 327px,#d00 336px,#d50000 340px,#d30000 345px,#dc0000 353px,#fa0000 363px,#ff0600 376px,#ff2d00 393px,#ff4700 400px,#ff5c00 407px,#ff8000 424px,#ff9a00 446px,#ffa900 475px)"></i>
<i style="background:linear-gradient(90deg,#ffab00 0,#ff9d00 30px,#ff8600 53px,#f70 62px,#ff5e00 73px,#ff4a00 80px,#ff2e00 87px,#ff0600 104px,#f70000 118px,#d70000 128px,#cf0000 133px,#cd0000 138px,#d10000 143px,#da0000 147px,#f90000 155px,#ff0700 166px,#f20 174px,#f30 178px,#ff6e00 186px,#ffb200 193px,#faee08 199px,#d7f513 205px,#b6f51e 210px,#98f532 221px,#94f53d 230px,#93f541 238px,#93f540 246px,#96f539 255px,#98f532 260px,#b6f51e 271px,#f6f109 281px,#faed08 282px,#ffb100 288px,#ff6d00 295px,#ff2c00 304px,#ff0600 315px,#f90000 326px,#e30000 331px,#d70000 335px,#d00000 339px,#cd0000 344px,#d70000 353px,#fa0000 364px,#ff0600 377px,#ff2f00 394px,#ff4700 400px,#ff5c00 407px,#ff8000 424px,#ff9a00 446px,#ffa900 475px)"></i>
<i style="background:linear-gradient(90deg,#ffab00 0,#ff9d00 30px,#ff8600 53px,#ff7600 62px,#ff5d00 73px,#ff4900 80px,#ff2e00 87px,#ff0800 103px,#f80000 117px,#e00000 123px,#d20000 128px,#c90000 133px,#c60000 138px,#ca0000 143px,#d20000 147px,#e30000 152px,#fa0000 157px,#ff0800 168px,#ff3100 179px,#ff6b00 187px,#ffb800 195px,#f9f008 201px,#dcf511 206px,#b6f51e 212px,#98f532 224px,#95f53a 232px,#94f53d 240px,#97f534 255px,#9ef52e 260px,#b7f51e 269px,#f9f008 280px,#ffb700 286px,#ff6a00 294px,#ff3000 302px,#ff0600 314px,#fa0000 324px,#e20000 329px,#d20000 334px,#c90000 339px,#c60000 344px,#d20000 353px,#fa0000 365px,#ff0600 377px,#ff2e00 394px,#ff4600 400px,#ff5b00 407px,#ff8000 424px,#ff9a00 446px,#ffa900 475px)"></i>
<i style="background:linear-gradient(90deg,#ffab00 0,#ff9d00 30px,#ff8600 53px,#ff7600 62px,#ff5d00 73px,#ff4800 80px,#ff2d00 87px,#ff0700 103px,#f90000 116px,#e00000 122px,#cd0000 128px,#c20000 134px,#c00000 139px,#c50000 144px,#d00000 149px,#de0000 153px,#fa0000 159px,#ff0700 169px,#ff2e00 180px,#ff6800 188px,#ffb300 196px,#faec07 202px,#f7f109 203px,#dbf512 208px,#b7f51e 214px,#99f531 227px,#96f538 240px,#98f532 253px,#a5f529 260px,#b7f51e 267px,#f7f009 278px,#faeb07 279px,#ffb200 285px,#ff6700 293px,#ff2e00 301px,#ff0700 312px,#fa0000 322px,#de0000 328px,#cd0000 333px,#c30000 338px,#c00000 343px,#c40000 348px,#cd0000 353px,#e00000 359px,#f90000 365px,#fa0000 366px,#ff0700 378px,#ff2e00 394px,#ff4900 401px,#ff5d00 408px,#ff8300 426px,#ff9a00 447px,#ffa900 475px)"></i>
<i style="background:linear-gradient(90deg,#ffab00 0,#ff9d00 30px,#ff8500 53px,#ff7600 62px,#ff5d00 73px,#ff4800 80px,#ff2d00 87px,#ff0600 103px,#fa0000 115px,#f60000 116px,#dc0000 122px,#c80000 128px,#bd0000 134px,#ba0000 139px,#be0000 144px,#c90000 149px,#da0000 154px,#fa0000 161px,#ff0600 170px,#f30 182px,#ff6d00 190px,#ffb800 198px,#faef08 204px,#dbf512 210px,#b5f51f 217px,#a3f52b 225px,#98f532 233px,#98f532 247px,#a2f52c 255px,#b5f51f 264px,#f6f109 276px,#faee08 277px,#ffb700 283px,#ff6c00 291px,#ff2c00 300px,#ff0600 311px,#f70000 321px,#da0000 327px,#c80000 332px,#be0000 337px,#ba0000 342px,#bd0000 347px,#c90000 353px,#dc0000 359px,#fa0000 366px,#ff0600 378px,#ff2d00 394px,#ff4800 401px,#ff5d00 408px,#ff8300 426px,#ff9a00 447px,#ffa900 475px)"></i>
<i style="background:linear-gradient(90deg,#ffab00 0,#ff9d00 30px,#ff8500 53px,#ff7500 62px,#ff5c00 73px,#ff4700 80px,#ff2c00 87px,#ff0800 102px,#f80000 115px,#d80000 122px,#c40000 128px,#b80000 134px,#b40000 140px,#ba0000 146px,#c70000 151px,#da0000 156px,#fa0000 162px,#ff0800 172px,#ff3100 183px,#ff6a00 191px,#ffb300 199px,#f9f008 206px,#dbf512 212px,#b6f51e 219px,#abf525 224px,#9df52e 235px,#9df52f 245px,#a5f529 253px,#b6f51e 262px,#f9f008 275px,#ffb200 282px,#ff6900 290px,#ff3000 298px,#ff0800 309px,#fa0000 319px,#da0000 325px,#c30000 331px,#b80000 336px,#b40000 342px,#b80000 347px,#c40000 353px,#d80000 359px,#fa0000 367px,#ff0800 379px,#ff2d00 394px,#ff4800 401px,#ff5d00 408px,#ff8200 426px,#ff9a00 447px,#ffa900 475px)"></i>
<i style="background:linear-gradient(90deg,#ffab00 0,#ff9d00 30px,#ff8500 53px,#ff7500 62px,#ff5c00 73px,#ff4700 80px,#ff2f00 86px,#ff0700 102px,#fa0000 114px,#d80000 121px,#bf0000 128px,#b20000 134px,#ae0000 140px,#b30000 146px,#bf0000 151px,#d20000 156px,#fa0000 164px,#ff0700 173px,#ff2f00 184px,#ff6f00 193px,#ffb700 201px,#faec07 207px,#f8f009 208px,#dbf512 214px,#b9f51d 221px,#b1f521 224px,#a4f52a 235px,#a3f52b 245px,#aaf526 252px,#b6f51e 259px,#f8f009 273px,#faeb07 274px,#ffb600 280px,#ff6f00 288px,#ff2e00 297px,#ff0700 308px,#fa0000 317px,#d60000 324px,#c20000 329px,#b30000 335px,#ae0000 341px,#b20000 347px,#c00000 353px,#d90000 360px,#fa0000 367px,#ff0700 379px,#ff2c00 394px,#ff4700 401px,#ff5c00 408px,#ff8200 426px,#ff9a00 447px,#ffa900 475px)"></i>
<i style="background:linear-gradient(90deg,#ffab00 0,#ff9d00 30px,#ff8500 53px,#ff7500 62px,#ff5c00 73px,#ff4600 80px,#ff2e00 86px,#ff0600 102px,#fa0000 113px,#f70000 114px,#d50000 121px,#b00 128px,#ac0000 135px,#a80000 141px,#ae0000 147px,#be0000 153px,#d80000 159px,#fa0000 165px,#ff0600 174px,#f30 186px,#ff6c00 194px,#ffb200 202px,#faed08 209px,#dcf511 216px,#b6f51e 225px,#aaf526 235px,#a9f527 245px,#b6f51e 256px,#f7f009 271px,#faed08 272px,#fcdc05 274px,#ffb200 279px,#ff6b00 287px,#ff2d00 296px,#ff0600 307px,#fa0000 316px,#d20000 323px,#ba0000 329px,#ac0000 335px,#a80000 341px,#ad0000 347px,#b00 353px,#d10000 359px,#fa0000 368px,#ff0600 379px,#ff2f00 395px,#ff4700 401px,#ff5c00 408px,#ff8200 426px,#ff9a00 447px,#ffa900 475px)"></i>
<i style="background:linear-gradient(90deg,#ffab00 0,#ff9d00 30px,#ff8500 53px,#ff7500 62px,#ff5b00 73px,#ff4600 80px,#ff2e00 86px,#ff0800 101px,#fa0000 113px,#d10000 121px,#b70000 128px,#a70000 135px,#a30000 141px,#a80000 147px,#b70000 153px,#cf0000 159px,#f70000 166px,#fa0000 167px,#ff0600 175px,#ff3100 187px,#ff6900 195px,#ffb600 204px,#faef08 211px,#ddf511 218px,#c4f519 224px,#b5f51e 229px,#aff523 237px,#aff523 245px,#b6f51e 252px,#bbf51c 254px,#f7f109 269px,#faee08 270px,#ffb500 277px,#ff6800 286px,#ff3100 294px,#ff0800 305px,#fa0000 314px,#f70000 315px,#cf0000 322px,#b60000 328px,#a70000 334px,#a30000 340px,#a70000 346px,#b70000 353px,#d20000 360px,#fa0000 368px,#ff0600 379px,#ff2e00 395px,#ff4600 401px,#ff5b00 408px,#ff8200 426px,#ff9a00 447px,#ffa900 475px)"></i>
<i style="background:linear-gradient(90deg,#ffab00 0,#ff9d00 30px,#ff8400 53px,#ff7400 62px,#ff5b00 73px,#ff4500 80px,#ff2d00 86px,#ff0700 101px,#f70000 113px,#ce0000 121px,#b00000 129px,#a20000 135px,#9e0000 142px,#a50000 149px,#b30000 154px,#c00 160px,#fa0000 168px,#ff0700 177px,#ff3000 188px,#ff6e00 197px,#ffb100 205px,#faef08 213px,#dbf512 221px,#c3f51a 228px,#b6f51e 234px,#b5f51e 246px,#c9f518 255px,#faef08 268px,#ffb900 275px,#ff6d00 284px,#ff2f00 293px,#ff0700 304px,#fa0000 313px,#d10000 320px,#b20000 327px,#a30000 333px,#9e0000 340px,#a40000 347px,#b30000 353px,#ca0000 359px,#fa0000 369px,#ff0800 380px,#ff2e00 395px,#ff4600 401px,#ff5b00 408px,#ff8200 426px,#ff9a00 447px,#ffa900 475px)"></i>
<i style="background:linear-gradient(90deg,#ffab00 0,#ff9d00 30px,#ff8400 53px,#ff7400 62px,#ff5b00 73px,#ff4800 79px,#ff2d00 86px,#ff0700 101px,#fa0000 112px,#f50000 113px,#cb0000 121px,#ac0000 129px,#9e0000 135px,#900 142px,#9f0000 149px,#af0000 155px,#ce0000 162px,#f90000 169px,#ff0700 178px,#ff2e00 189px,#ff6b00 198px,#ffb500 207px,#faf008 215px,#ddf411 223px,#c3f51a 233px,#bdf51c 238px,#bdf51c 243px,#ccf517 252px,#faef08 266px,#ffb400 274px,#ff6a00 283px,#ff2e00 292px,#ff0600 303px,#f90000 312px,#ce0000 319px,#af0000 326px,#9f0000 332px,#900 339px,#9e0000 346px,#af0000 353px,#cb0000 360px,#fa0000 369px,#ff0700 380px,#ff2d00 395px,#ff4500 401px,#ff5b00 408px,#ff8100 426px,#ff9a00 447px,#ffa900 475px)"></i>
<i style="background:linear-gradient(90deg,#ffab00 0,#ff9d00 30px,#ff8400 53px,#ff7400 62px,#ff5a00 73px,#ff4800 79px,#ff2d00 86px,#ff0600 101px,#f80000 112px,#c80000 121px,#a80000 129px,#900 136px,#940000 143px,#9b0000 150px,#ab0000 156px,#c60000 162px,#f70000 170px,#fa0000 171px,#ff0600 179px,#f30 191px,#ff6900 199px,#ffb800 209px,#faef08 217px,#e6f30e 223px,#ccf517 234px,#c8f518 243px,#d4f514 251px,#faef08 264px,#febf01 271px,#ff6800 282px,#ff2d00 291px,#ff0600 302px,#fa0000 310px,#f70000 311px,#c60000 319px,#a80000 326px,#900 332px,#940000 339px,#9a0000 346px,#a80000 352px,#c40000 359px,#f90000 369px,#fa0000 370px,#ff0600 380px,#ff2d00 395px,#ff4800 402px,#ff5b00 408px,#ff8100 426px,#ff9a00 447px,#ffa900 475px)"></i>
<i style="background:linear-gradient(90deg,#ffab00 0,#ff9d00 30px,#ff8400 53px,#ff5d00 72px,#ff4800 79px,#ff2d00 86px,#ff0800 100px,#fa0000 111px,#f60000 112px,#ca0000 120px,#a80000 128px,#950000 136px,#900000 143px,#960000 150px,#a80000 157px,#c90000 164px,#fa0000 172px,#ff0600 180px,#ff3200 192px,#ff6e00 201px,#ffb300 210px,#fbe306 217px,#faef08 219px,#eef20c 223px,#d6f513 234px,#d2f515 242px,#dff410 252px,#faee08 262px,#ffb300 271px,#ff6d00 280px,#ff2c00 290px,#ff0600 301px,#fa0000 309px,#c90000 317px,#a80000 324px,#960000 331px,#900000 338px,#950000 345px,#a50000 352px,#c50000 360px,#fa0000 370px,#ff0600 380px,#ff2d00 395px,#ff4800 402px,#ff5a00 408px,#ff8100 426px,#ff9a00 447px,#ffa900 475px)"></i>
<i style="background:linear-gradient(90deg,#ffab00 0,#ff9d00 30px,#ff8400 53px,#ff5c00 72px,#ff4700 79px,#ff2c00 86px,#ff0800 100px,#fa0000 111px,#c70000 120px,#a40000 128px,#910000 136px,#8b0000 143px,#8f0000 149px,#9f0000 156px,#c20000 164px,#fa0000 173px,#ff0600 181px,#ff3100 193px,#ff6b00 202px,#fdca03 215px,#faed08 221px,#f5f109 223px,#e1f410 232px,#dbf512 241px,#e3f40f 250px,#f9f008 259px,#fbe206 262px,#fec302 267px,#ff6b00 279px,#ff3000 288px,#ff0800 299px,#fa0000 308px,#c70000 316px,#a50000 323px,#910000 331px,#8b0000 338px,#910000 345px,#a40000 353px,#c70000 361px,#fa0000 370px,#ff0800 381px,#ff2c00 395px,#ff4800 402px,#ff5a00 408px,#ff8200 427px,#ff9a00 448px,#ffa900 475px)"></i>
<i style="background:linear-gradient(90deg,#fa0 0,#ff9c00 30px,#ff8400 53px,#ff5c00 72px,#ff4700 79px,#ff2f00 85px,#ff0700 100px,#f80000 111px,#ca0000 119px,#a50000 127px,#8d0000 136px,#870000 144px,#8e0000 151px,#a30000 159px,#c60000 166px,#fa0000 174px,#ff0600 182px,#ff3000 194px,#ff6900 203px,#febf01 215px,#faf008 224px,#e9f30d 232px,#e3f40f 240px,#e8f30e 248px,#faf008 257px,#febe01 266px,#ff6900 278px,#ff2f00 287px,#ff0800 298px,#fa0000 307px,#c50000 315px,#a30000 322px,#8d0000 330px,#870000 338px,#8f0000 346px,#a50000 354px,#c00000 360px,#f90000 370px,#fa0000 371px,#ff0700 381px,#ff2c00 395px,#ff4700 402px,#ff5a00 408px,#ff8100 426px,#f90 447px,#ffa900 475px)"></i>
<i style="background:linear-gradient(90deg,#fa0 0,#ff9c00 30px,#ff8400 53px,#ff5c00 72px,#ff4700 79px,#ff2e00 85px,#ff0700 100px,#fa0000 110px,#f60000 111px,#c20000 120px,#a20000 127px,#8a0000 136px,#830000 144px,#870000 150px,#970000 157px,#a50000 161px,#b90000 165px,#fa0000 175px,#ff0600 183px,#ff2f00 195px,#ff6800 204px,#fec001 217px,#fbe006 223px,#f9f008 227px,#edf20c 234px,#eaf30d 240px,#edf20c 247px,#f9f008 254px,#fcdb05 259px,#fec001 264px,#ff6700 277px,#ff2f00 286px,#ff0800 297px,#f90000 306px,#c40000 314px,#a10000 321px,#8a0000 329px,#830000 337px,#8a0000 345px,#a20000 354px,#c20000 361px,#fa0000 371px,#ff0700 381px,#ff2f00 396px,#ff4700 402px,#ff5900 408px,#ff8200 427px,#ff9a00 448px,#ffa900 475px)"></i>
<i style="background:linear-gradient(90deg,#fa0 0,#ff9c00 30px,#ff8300 53px,#ff5c00 72px,#ff4600 79px,#ff2e00 85px,#ff0600 100px,#fa0000 110px,#f40000 111px,#c00000 120px,#9c0000 128px,#850000 137px,#7f0000 145px,#800 153px,#a00000 161px,#c40000 168px,#fa0000 176px,#ff0600 184px,#ff2f00 196px,#febc01 218px,#fcda05 224px,#faf008 230px,#f2f10a 236px,#f0f20b 241px,#faf008 251px,#faed08 252px,#fcda05 257px,#ffbb01 263px,#ff2e00 285px,#ff0800 296px,#f90000 305px,#c30000 313px,#a00000 320px,#860000 329px,#7f0000 337px,#870000 345px,#a00000 354px,#c00000 361px,#fa0000 371px,#ff0600 381px,#ff2e00 396px,#ff4700 402px,#ff5900 408px,#ff8200 427px,#ff9a00 448px,#ffa900 475px)"></i>
<i style="background:linear-gradient(90deg,#fa0 0,#ff9c00 30px,#ff8300 53px,#ff5b00 72px,#ff4600 79px,#ff2e00 85px,#ff0600 100px,#f90000 110px,#c30000 119px,#9d0000 127px,#840000 136px,#7b0000 145px,#820000 152px,#940000 159px,#a30000 163px,#b80000 167px,#fa0000 177px,#ff0600 185px,#ff2f00 197px,#ffa700 216px,#fdc702 222px,#fbe006 228px,#faf008 234px,#f7f109 240px,#faf008 247px,#fbe006 253px,#fdcc03 258px,#ffb200 263px,#ff2e00 284px,#ff0800 295px,#fa0000 304px,#c30000 312px,#9e0000 319px,#830000 328px,#7b0000 336px,#840000 345px,#9d0000 354px,#c30000 362px,#fa0000 371px,#ff0600 381px,#ff2e00 396px,#ff4600 402px,#ff5900 408px,#ff8200 427px,#ff9a00 448px,#ffa900 475px)"></i>
<i style="background:linear-gradient(90deg,#fa0 0,#ff9c00 30px,#ff8300 53px,#ff5b00 72px,#ff4600 79px,#ff2e00 85px,#ff0800 99px,#f80000 110px,#b00 120px,#9b0000 127px,#810000 136px,#780000 145px,#7e0000 152px,#8f0000 159px,#b20000 167px,#fa0000 178px,#ff0600 186px,#ff2f00 198px,#ffa400 217px,#fdc702 224px,#fbe206 232px,#faec07 239px,#fbe807 246px,#fcd304 254px,#ffa900 263px,#ff2e00 283px,#ff0600 295px,#fa0000 303px,#bd0000 312px,#9a0000 319px,#7f0000 328px,#780000 336px,#7f0000 344px,#980000 353px,#b70000 360px,#f90000 371px,#fa0000 372px,#ff0600 381px,#ff2e00 396px,#ff4600 402px,#ff5b00 409px,#ff8200 427px,#ff9a00 448px,#ffa900 475px)"></i>
<i style="background:linear-gradient(90deg,#fa0 0,#ff9c00 30px,#ff8300 53px,#ff5b00 72px,#ff4500 79px,#ff2d00 85px,#ff0800 99px,#fa0000 109px,#f70000 110px,#ba0000 120px,#900 127px,#7e0000 136px,#750000 145px,#7a0000 152px,#8b0000 159px,#ac0000 167px,#fa0000 179px,#ff0600 187px,#ff3000 199px,#ff9c00 217px,#febf01 224px,#fcda05 232px,#fbe306 239px,#fbdf06 246px,#fdca03 254px,#ffa100 263px,#ff2f00 282px,#ff0600 294px,#fa0000 302px,#b70000 312px,#950000 319px,#7c0000 328px,#750000 336px,#7d0000 344px,#960000 353px,#b50000 360px,#f70000 371px,#fa0000 372px,#ff0800 382px,#ff2e00 396px,#ff4600 402px,#ff5900 408px,#ff8200 427px,#ff9a00 448px,#ffa900 475px)"></i>
<i style="background:linear-gradient(90deg,#fa0 0,#ff9c00 30px,#ff8300 53px,#ff5b00 72px,#ff4500 79px,#ff2d00 85px,#ff0700 99px,#fa0000 109px,#f50000 110px,#b80000 120px,#930000 128px,#7a0000 137px,#720000 146px,#790000 153px,#8a0000 160px,#ad0000 168px,#c00 173px,#f70000 179px,#fa0000 180px,#ff0700 188px,#ff3000 200px,#ff9a00 218px,#ffb700 224px,#fdd204 232px,#fcdb05 239px,#fcd705 246px,#fec302 254px,#ff9f00 262px,#ff2c00 282px,#ff0600 293px,#fa0000 301px,#f60000 302px,#b80000 311px,#950000 318px,#7a0000 327px,#720000 336px,#7c0000 345px,#970000 354px,#b80000 361px,#fa0000 372px,#ff0800 382px,#ff2d00 396px,#ff4600 402px,#ff5b00 409px,#ff8200 427px,#ff9a00 448px,#ffa900 475px)"></i>
<i style="background:linear-gradient(90deg,#fa0 0,#ff9c00 30px,#ff8300 53px,#ff5b00 72px,#ff4800 78px,#ff2d00 85px,#ff0700 99px,#fa0000 109px,#f40000 110px,#b10000 121px,#920000 128px,#780000 137px,#6f0000 146px,#790000 155px,#960000 164px,#ba0000 171px,#f90000 180px,#ff0800 189px,#ff2d00 200px,#ff9300 218px,#ffb400 225px,#fdca03 232px,#fcd404 239px,#fdd004 246px,#febf01 253px,#ff9d00 261px,#ff2c00 281px,#ff0700 292px,#f80000 301px,#b90000 310px,#950000 317px,#790000 326px,#6f0000 335px,#780000 344px,#920000 353px,#b10000 360px,#fa0000 372px,#ff0700 382px,#ff2d00 396px,#ff4500 402px,#ff5b00 409px,#ff8200 427px,#ff9a00 448px,#ffa900 475px)"></i>
<i style="background:linear-gradient(90deg,#fa0 0,#ff9c00 30px,#ff8300 53px,#ff5b00 72px,#ff4800 78px,#ff2d00 85px,#ff0700 99px,#fa0000 109px,#b50000 120px,#900000 128px,#760000 137px,#6d0000 146px,#730000 153px,#870000 161px,#a00 169px,#fa0000 181px,#ff0600 189px,#ff2e00 201px,#f80 217px,#ffae00 225px,#fec402 232px,#fdcd03 239px,#fdc903 246px,#ffb900 253px,#ff9700 261px,#ff2d00 280px,#ff0600 292px,#fa0000 300px,#b50000 310px,#920000 317px,#760000 326px,#6d0000 335px,#760000 344px,#900000 353px,#b50000 361px,#fa0000 372px,#ff0700 382px,#ff2d00 396px,#ff4500 402px,#ff5b00 409px,#ff8200 427px,#ff9a00 448px,#ffa900 475px)"></i>
<i style="background:linear-gradient(90deg,#fa0 0,#ff9c00 30px,#ff8300 53px,#ff5a00 72px,#ff4800 78px,#ff2d00 85px,#ff0700 99px,#f90000 109px,#b40000 120px,#8f0000 128px,#740000 137px,#6b0000 146px,#740000 155px,#8f0000 164px,#ac0000 170px,#c00 175px,#f70000 181px,#fa0000 182px,#ff0700 190px,#ff2c00 201px,#f80 218px,#ffa800 225px,#fec001 233px,#fdc802 240px,#fec402 246px,#ffb300 253px,#ff8c00 262px,#ff2f00 279px,#ff0700 291px,#fa0000 299px,#f70000 300px,#b10000 310px,#8f0000 317px,#740000 326px,#6b0000 335px,#740000 344px,#8f0000 353px,#b40000 361px,#fa0000 372px,#ff0700 382px,#ff2d00 396px,#ff4800 403px,#ff5b00 409px,#ff8100 427px,#ff9a00 448px,#ffa800 475px)"></i>
<i style="background:linear-gradient(90deg,#fa0 0,#ff9c00 30px,#ff8300 53px,#ff5a00 72px,#ff4800 78px,#ff2d00 85px,#ff0600 99px,#f80000 109px,#b30000 120px,#8d0000 128px,#710000 138px,#690000 147px,#740000 156px,#910000 165px,#b50000 172px,#fa0000 182px,#ff0600 190px,#ff2d00 202px,#ff8300 218px,#ffa400 225px,#ffbc01 233px,#fec302 240px,#febf01 246px,#ffae00 253px,#f80 262px,#ff2d00 279px,#ff0600 291px,#fa0000 299px,#ae0000 310px,#8c0000 317px,#710000 326px,#690000 335px,#730000 344px,#8e0000 353px,#a80000 359px,#f90000 372px,#fa0100 373px,#ff0700 382px,#ff2d00 396px,#ff4800 403px,#ff5b00 409px,#ff8100 427px,#ff9a00 448px,#ffa800 475px)"></i>
<i style="background:linear-gradient(90deg,#fa0 0,#ff9c00 30px,#ff8300 53px,#ff5a00 72px,#ff4800 78px,#ff2d00 85px,#ff0600 99px,#f80000 109px,#b20000 120px,#8c0000 128px,#6f0000 138px,#670000 147px,#720000 156px,#8f0000 165px,#ac0000 171px,#f80000 182px,#fa0100 183px,#ff0700 191px,#ff2c00 202px,#ff8500 219px,#ffa000 225px,#ffb700 233px,#febf01 240px,#ffbb01 246px,#fa0 253px,#ff8400 262px,#ff2f00 278px,#ff0700 290px,#fa0000 298px,#f70000 299px,#ab0000 310px,#8a0000 317px,#700000 326px,#670000 335px,#720000 344px,#8d0000 353px,#a70000 359px,#f80000 372px,#fa0000 373px,#ff0700 382px,#ff2d00 396px,#ff4800 403px,#ff5b00 409px,#ff8100 427px,#ff9a00 448px,#ffa800 475px)"></i>
<i style="background:linear-gradient(90deg,#fa0 0,#ff9c00 30px,#ff8300 53px,#ff5a00 72px,#ff4800 78px,#ff2d00 85px,#ff0600 99px,#f70000 109px,#b10000 120px,#8c0000 128px,#6e0000 138px,#600 147px,#700000 156px,#8d0000 165px,#b00000 172px,#fa0000 183px,#ff0600 191px,#ff2e00 203px,#ff8200 219px,#ff9c00 225px,#ffb400 233px,#ffbb01 240px,#ffb700 246px,#ffa700 253px,#ff8600 261px,#ff2d00 278px,#ff0600 290px,#fa0000 298px,#af0000 309px,#8d0000 316px,#700000 325px,#600 334px,#6f0000 343px,#8c0000 353px,#ac0000 360px,#f80000 372px,#fa0000 373px,#ff0600 382px,#ff2d00 396px,#ff4800 403px,#ff5a00 409px,#ff8100 427px,#ff9a00 448px,#ffa800 475px)"></i>
<i style="background:linear-gradient(90deg,#fa0 0,#ff9c00 30px,#ff8300 53px,#ff5a00 72px,#ff4800 78px,#ff2c00 85px,#ff0600 99px,#fa0000 108px,#f70000 109px,#b00000 120px,#8b0000 128px,#6e0000 138px,#650000 147px,#6f0000 156px,#8c0000 165px,#ae0000 172px,#fa0000 183px,#ff0900 192px,#ff2d00 203px,#ff7f00 219px,#ff9e00 226px,#ffb200 233px,#ffb900 240px,#ffb500 246px,#ffa400 253px,#ff8400 261px,#ff2c00 278px,#ff0600 290px,#fa0000 298px,#ae0000 309px,#8b0000 316px,#6f0000 325px,#650000 334px,#6e0000 343px,#8b0000 353px,#ab0000 360px,#f80000 372px,#fa0000 373px,#ff0600 382px,#ff2d00 396px,#ff4800 403px,#ff5a00 409px,#ff8100 427px,#ff9a00 448px,#ffa800 475px)"></i>
<i style="background:linear-gradient(90deg,#fa0 0,#ff9c00 30px,#ff8300 53px,#ff5a00 72px,#ff4800 78px,#ff2c00 85px,#ff0600 99px,#fa0000 108px,#f70000 109px,#b00000 120px,#8b0000 128px,#6d0000 138px,#640000 147px,#6e0000 156px,#8b0000 165px,#ad0000 172px,#fa0000 183px,#ff0800 192px,#ff3000 204px,#ff7e00 219px,#ff9c00 226px,#ffb000 233px,#ffb700 240px,#ffb100 247px,#ff9f00 254px,#ff7d00 262px,#ff2f00 277px,#ff0800 289px,#f90000 298px,#ac0000 309px,#8a0000 316px,#6e0000 325px,#640000 334px,#6d0000 343px,#8b0000 353px,#ab0000 360px,#f70000 372px,#fa0000 373px,#ff0600 382px,#ff2d00 396px,#ff4800 403px,#ff5a00 409px,#ff8100 427px,#ff9a00 448px,#ffa800 475px)"></i>
<i style="background:linear-gradient(90deg,#fa0 0,#ff9c00 30px,#ff8300 53px,#ff5a00 72px,#ff4800 78px,#ff2c00 85px,#ff0600 99px,#fa0000 108px,#f60000 109px,#b00000 120px,#8a0000 128px,#6d0000 138px,#640000 147px,#6e0000 156px,#8a0000 165px,#ac0000 172px,#f90000 183px,#ff0800 192px,#ff2f00 204px,#ff7d00 219px,#ff9b00 226px,#ffaf00 233px,#ffb600 240px,#ffb200 246px,#ffa200 253px,#ff8100 261px,#ff2f00 277px,#ff0700 289px,#fa0100 297px,#f90000 298px,#c00 304px,#a60000 310px,#8a0000 316px,#6e0000 325px,#640000 334px,#6d0000 343px,#8b0000 353px,#ab0000 360px,#f70000 372px,#fa0000 373px,#ff0600 382px,#ff2d00 396px,#ff4800 403px,#ff5a00 409px,#ff8100 427px,#ff9a00 448px,#ffa800 475px)"></i>
<i style="background:linear-gradient(90deg,#fa0 0,#ff9c00 30px,#ff8300 53px,#ff5a00 72px,#ff4800 78px,#ff2c00 85px,#ff0600 99px,#fa0000 108px,#f60000 109px,#b00000 120px,#8a0000 128px,#6d0000 138px,#640000 147px,#6e0000 156px,#8a0000 165px,#ac0000 172px,#f90000 183px,#ff0800 192px,#ff2f00 204px,#ff7d00 219px,#ff9b00 226px,#ffaf00 233px,#ffb600 240px,#ffb200 246px,#ffa100 253px,#ff8100 261px,#ff2f00 277px,#ff0700 289px,#fa0100 297px,#f80000 298px,#c00 304px,#a60000 310px,#8a0000 316px,#6e0000 325px,#640000 334px,#6d0000 343px,#8b0000 353px,#ab0000 360px,#f70000 372px,#fa0000 373px,#ff0600 382px,#ff2d00 396px,#ff4800 403px,#ff5a00 409px,#ff8100 427px,#ff9a00 448px,#ffa800 475px)"></i>
<i style="background:linear-gradient(90deg,#fa0 0,#ff9c00 30px,#ff8300 53px,#ff5a00 72px,#ff4800 78px,#ff2c00 85px,#ff0600 99px,#fa0000 108px,#f70000 109px,#b00000 120px,#8b0000 128px,#6d0000 138px,#640000 147px,#6e0000 156px,#8a0000 165px,#ad0000 172px,#fa0000 183px,#ff0800 192px,#ff3000 204px,#ff7d00 219px,#ff9b00 226px,#ffaf00 233px,#ffb700 240px,#ffb100 247px,#ff9f00 254px,#ff8200 261px,#ff2f00 277px,#ff0800 289px,#f90000 298px,#ac0000 309px,#8a0000 316px,#6e0000 325px,#640000 334px,#6d0000 343px,#8b0000 353px,#ab0000 360px,#f70000 372px,#fa0000 373px,#ff0600 382px,#ff2d00 396px,#ff4800 403px,#ff5a00 409px,#ff8100 427px,#ff9a00 448px,#ffa800 475px)"></i>
<i style="background:linear-gradient(90deg,#fa0 0,#ff9c00 30px,#ff8300 53px,#ff5a00 72px,#ff4800 78px,#ff2c00 85px,#ff0600 99px,#fa0000 108px,#f70000 109px,#b00000 120px,#8b0000 128px,#6d0000 138px,#650000 147px,#6f0000 156px,#8b0000 165px,#ae0000 172px,#fa0000 183px,#ff0800 192px,#ff3100 204px,#ff7f00 219px,#ff9d00 226px,#ffb100 233px,#ffb800 240px,#ffb400 246px,#ffa300 253px,#ff8300 261px,#ff2c00 278px,#ff0600 290px,#fa0000 298px,#ad0000 309px,#8b0000 316px,#6f0000 325px,#650000 334px,#6e0000 343px,#8b0000 353px,#ab0000 360px,#f70000 372px,#fa0000 373px,#ff0600 382px,#ff2d00 396px,#ff4800 403px,#ff5a00 409px,#ff8100 427px,#ff9a00 448px,#ffa800 475px)"></i>
<i style="background:linear-gradient(90deg,#fa0 0,#ff9c00 30px,#ff8300 53px,#ff5a00 72px,#ff4800 78px,#ff2d00 85px,#ff0600 99px,#f70000 109px,#b10000 120px,#8b0000 128px,#6e0000 138px,#600 147px,#700000 156px,#8c0000 165px,#af0000 172px,#fa0000 183px,#ff0900 192px,#ff2d00 203px,#ff8100 219px,#ff9f00 226px,#ffb300 233px,#ffba01 240px,#ffb600 246px,#ffa600 253px,#ff8500 261px,#ff2d00 278px,#ff0600 290px,#fa0000 298px,#af0000 309px,#8c0000 316px,#700000 325px,#600 334px,#6e0000 343px,#8c0000 353px,#ac0000 360px,#f80000 372px,#fa0000 373px,#ff0600 382px,#ff2d00 396px,#ff4800 403px,#ff5a00 409px,#ff8100 427px,#ff9a00 448px,#ffa800 475px)"></i>
<i style="background:linear-gradient(90deg,#fa0 0,#ff9c00 30px,#ff8300 53px,#ff5a00 72px,#ff4800 78px,#ff2d00 85px,#ff0600 99px,#f80000 109px,#b10000 120px,#8c0000 128px,#6f0000 138px,#670000 147px,#710000 156px,#8e0000 165px,#ab0000 171px,#f70000 182px,#fa0000 183px,#ff0700 191px,#ff2b00 202px,#ff8300 219px,#ff9e00 225px,#ffb600 233px,#febd01 240px,#ffb900 246px,#ffa900 253px,#ff8300 262px,#ff2e00 278px,#ff0700 290px,#fa0000 298px,#f60000 299px,#a00 310px,#8e0000 316px,#710000 325px,#670000 334px,#6f0000 343px,#8d0000 353px,#a70000 359px,#f80000 372px,#fa0000 373px,#ff0700 382px,#ff2d00 396px,#ff4800 403px,#ff5b00 409px,#ff8100 427px,#ff9a00 448px,#ffa800 475px)"></i>
<i style="background:linear-gradient(90deg,#fa0 0,#ff9c00 30px,#ff8300 53px,#ff5a00 72px,#ff4800 78px,#ff2d00 85px,#ff0600 99px,#f80000 109px,#b20000 120px,#8d0000 128px,#700000 138px,#680000 147px,#730000 156px,#900000 165px,#b40000 172px,#fa0000 182px,#ff0600 190px,#ff2c00 202px,#ff8200 218px,#ffa200 225px,#ffba01 233px,#fec102 240px,#febd01 246px,#ffac00 253px,#ff8600 262px,#ff2c00 279px,#ff0800 290px,#f90000 299px,#b30000 309px,#8c0000 317px,#710000 326px,#680000 335px,#720000 344px,#8d0000 353px,#a80000 359px,#f90000 372px,#fa0100 373px,#ff0700 382px,#ff2d00 396px,#ff4800 403px,#ff5b00 409px,#ff8100 427px,#ff9a00 448px,#ffa800 475px)"></i>
<i style="background:linear-gradient(90deg,#fa0 0,#ff9c00 30px,#ff8300 53px,#ff5a00 72px,#ff4800 78px,#ff2d00 85px,#ff0700 99px,#f90000 109px,#b30000 120px,#8e0000 128px,#740000 137px,#6a0000 146px,#730000 155px,#8e0000 164px,#b10000 171px,#fa0000 182px,#ff0600 190px,#ff2e00 202px,#ff8600 218px,#ffa600 225px,#febe01 233px,#fec602 240px,#fec202 246px,#ffb100 253px,#ff8a00 262px,#ff2e00 279px,#ff0600 291px,#fa0000 299px,#b00000 310px,#8e0000 317px,#730000 326px,#6a0000 335px,#740000 344px,#8f0000 353px,#b40000 361px,#f90000 372px,#ff0700 382px,#ff2d00 396px,#ff4800 403px,#ff5b00 409px,#ff8100 427px,#ff9a00 448px,#ffa800 475px)"></i>
<i style="background:linear-gradient(90deg,#fa0 0,#ff9c00 30px,#ff8300 53px,#ff5b00 72px,#ff4800 78px,#ff2d00 85px,#ff0700 99px,#fa0000 109px,#b40000 120px,#8f0000 128px,#750000 137px,#6c0000 146px,#750000 155px,#910000 164px,#b40000 171px,#fa0000 181px,#ff0600 189px,#ff2d00 201px,#ff8b00 218px,#ffac00 225px,#fec402 233px,#fdcb03 240px,#fec402 248px,#ffab00 256px,#ff8a00 263px,#ff2d00 280px,#ff0800 291px,#f90000 300px,#b40000 310px,#910000 317px,#750000 326px,#6c0000 335px,#750000 344px,#900000 353px,#b50000 361px,#fa0000 372px,#ff0700 382px,#ff2d00 396px,#ff4900 403px,#ff5b00 409px,#ff8200 427px,#ff9a00 448px,#ffa900 475px)"></i>
<i style="background:linear-gradient(90deg,#fa0 0,#ff9c00 30px,#ff8300 53px,#ff5b00 72px,#ff4800 78px,#ff2d00 85px,#ff0700 99px,#fa0000 109px,#f40000 110px,#b00000 121px,#910000 128px,#700 137px,#6e0000 146px,#740000 153px,#860000 160px,#900 165px,#ac0000 169px,#c00 174px,#f70000 180px,#fa0000 181px,#ff0700 189px,#ff3000 201px,#ff8b00 217px,#ffb200 225px,#fdc802 232px,#fdd104 239px,#fdcd03 246px,#febc01 253px,#ff9a00 261px,#ff2b00 281px,#ff0600 292px,#fa0000 300px,#f60000 301px,#b20000 311px,#900000 318px,#760000 327px,#6e0000 335px,#700 344px,#910000 353px,#b10000 360px,#fa0000 372px,#ff0700 382px,#ff2d00 396px,#ff4500 402px,#ff5b00 409px,#ff8200 427px,#ff9a00 448px,#ffa900 475px)"></i>
<i style="background:linear-gradient(90deg,#fa0 0,#ff9c00 30px,#ff8300 53px,#ff5b00 72px,#ff4900 78px,#ff2d00 85px,#ff0700 99px,#fa0000 109px,#f50000 110px,#b20000 121px,#930000 128px,#790000 137px,#710000 146px,#700 153px,#890000 160px,#ab0000 168px,#fa0000 180px,#ff0600 188px,#ff2f00 200px,#ff9700 218px,#ffb800 225px,#fdcf03 232px,#fcd805 239px,#fcd404 246px,#fec001 254px,#ff9c00 262px,#ff2e00 281px,#ff0600 293px,#fa0000 301px,#b60000 311px,#940000 318px,#790000 327px,#710000 335px,#790000 344px,#930000 353px,#b20000 360px,#fa0000 372px,#ff0800 382px,#ff2d00 396px,#ff4500 402px,#ff5b00 409px,#ff8200 427px,#ff9a00 448px,#ffa900 475px)"></i>
<i style="background:linear-gradient(90deg,#fa0 0,#ff9c00 30px,#ff8300 53px,#ff5b00 72px,#ff4500 79px,#ff2d00 85px,#ff0800 99px,#fa0000 109px,#f60000 110px,#b90000 120px,#980000 127px,#7d0000 136px,#740000 145px,#790000 152px,#8d0000 160px,#b00000 168px,#cf0000 173px,#fa0000 179px,#ff0600 187px,#ff2e00 199px,#ff9800 217px,#ffbc01 224px,#fcd604 232px,#fbe006 239px,#fcdc05 246px,#fec702 254px,#ff9e00 263px,#ff2d00 282px,#ff0800 293px,#f90000 302px,#b00 311px,#970000 318px,#7c0000 327px,#740000 336px,#7e0000 345px,#900 354px,#b90000 361px,#fa0000 372px,#ff0800 382px,#ff2e00 396px,#ff4600 402px,#ff5900 408px,#ff8200 427px,#ff9a00 448px,#ffa900 475px)"></i>
<i style="background:linear-gradient(90deg,#fa0 0,#ff9c00 30px,#ff8300 53px,#ff5b00 72px,#ff4600 79px,#ff2d00 85px,#ff0800 99px,#f70000 110px,#b00 120px,#9a0000 127px,#800000 136px,#700 145px,#7c0000 152px,#8d0000 159px,#b00000 167px,#ce0000 172px,#f90000 178px,#ff0600 186px,#ff2d00 198px,#ffa000 217px,#fec402 224px,#fbdf06 232px,#fbe807 239px,#fbe406 246px,#fdd004 254px,#ffa600 263px,#ff2d00 283px,#ff0700 294px,#f80000 303px,#ba0000 312px,#980000 319px,#7e0000 328px,#700 336px,#7e0000 344px,#970000 353px,#b60000 360px,#f80000 371px,#fa0000 372px,#ff0800 382px,#ff2e00 396px,#ff4600 402px,#ff5900 408px,#ff8200 427px,#ff9a00 448px,#ffa900 475px)"></i>
<i style="background:linear-gradient(90deg,#fa0 0,#ff9c00 30px,#ff8300 53px,#ff5b00 72px,#ff4600 79px,#ff2e00 85px,#ff0600 100px,#f90000 110px,#bd0000 120px,#9c0000 127px,#830000 136px,#7a0000 145px,#820000 153px,#9d0000 162px,#c10000 169px,#f80000 177px,#ff0700 186px,#ff2d00 197px,#ff6900 207px,#ffa300 216px,#fdc803 223px,#fbe306 230px,#faf008 237px,#faef08 245px,#fbe807 249px,#fcd805 254px,#ffae00 263px,#ff2d00 284px,#ff0700 295px,#fa0000 303px,#f70000 304px,#c00000 312px,#9c0000 319px,#820000 328px,#7a0000 336px,#810000 344px,#900 353px,#b30000 359px,#f90000 371px,#fa0100 372px,#ff0600 381px,#ff2e00 396px,#ff4600 402px,#ff5900 408px,#ff8200 427px,#ff9a00 448px,#ffa900 475px)"></i>
<i style="background:linear-gradient(90deg,#fa0 0,#ff9c00 30px,#ff8300 53px,#ff5c00 72px,#ff4600 79px,#ff2e00 85px,#ff0600 100px,#fa0000 110px,#f40000 111px,#b90000 121px,#9b0000 128px,#840000 137px,#7e0000 145px,#860000 153px,#9e0000 161px,#b00 167px,#f70000 176px,#fa0000 177px,#ff0700 185px,#ff2d00 196px,#febe01 219px,#fbdf06 226px,#f9f008 232px,#f3f10a 241px,#f9f008 249px,#fbe907 252px,#fcd604 257px,#ffb700 263px,#ff6900 275px,#ff2d00 285px,#ff0600 296px,#fa0000 304px,#f60000 305px,#c10000 313px,#9d0000 320px,#840000 329px,#7e0000 337px,#860000 345px,#9f0000 354px,#bf0000 361px,#fa0000 371px,#ff0600 381px,#ff2e00 396px,#ff4600 402px,#ff5900 408px,#ff8200 427px,#ff9a00 448px,#ffa900 475px)"></i>
<i style="background:linear-gradient(90deg,#fa0 0,#ff9c00 30px,#ff8400 53px,#ff5c00 72px,#ff4600 79px,#ff2e00 85px,#ff0600 100px,#fa0000 110px,#f50000 111px,#c10000 120px,#9d0000 128px,#870000 137px,#810000 145px,#8b0000 153px,#a30000 161px,#c20000 167px,#f70000 175px,#fa0000 176px,#ff0700 184px,#ff2d00 195px,#ff6b00 205px,#febc01 217px,#fcdc05 223px,#faf008 228px,#f0f20b 234px,#ecf20c 240px,#eff20b 246px,#faf008 253px,#fcdc05 258px,#ffbc01 264px,#ff6a00 276px,#ff2d00 286px,#ff0600 297px,#fa0000 305px,#f60000 306px,#c10000 314px,#9f0000 321px,#890000 329px,#810000 337px,#890000 345px,#a10000 354px,#c10000 361px,#fa0000 371px,#ff0700 381px,#ff2f00 396px,#ff4700 402px,#ff5900 408px,#ff8200 427px,#ff9a00 448px,#ffa900 475px)"></i>
<i style="background:linear-gradient(90deg,#fa0 0,#ff9c00 30px,#ff8400 53px,#ff5c00 72px,#ff4700 79px,#ff2f00 85px,#ff0700 100px,#f70000 111px,#c30000 120px,#a40000 127px,#8c0000 136px,#850000 144px,#8d0000 152px,#a50000 160px,#c90000 167px,#f70000 174px,#ff0700 183px,#ff2d00 194px,#ff6d00 204px,#fec101 216px,#faf008 225px,#eaf20d 233px,#e5f30e 240px,#eaf20d 248px,#faf008 256px,#fec001 265px,#ff6c00 277px,#ff2d00 287px,#ff0600 298px,#fa0000 306px,#f70000 307px,#c80000 314px,#a40000 321px,#8d0000 329px,#850000 337px,#8c0000 345px,#a40000 354px,#bf0000 360px,#f80000 370px,#fa0000 371px,#ff0700 381px,#ff2f00 396px,#ff4700 402px,#ff5a00 408px,#ff8200 427px,#ff9a00 448px,#ffa900 475px)"></i>
<i style="background:linear-gradient(90deg,#fa0 0,#ff9d00 30px,#ff8400 53px,#ff5c00 72px,#ff4700 79px,#ff2f00 85px,#ff0700 100px,#f90000 111px,#c60000 120px,#a30000 128px,#8f0000 136px,#890000 144px,#920000 152px,#a70000 159px,#ca0000 166px,#f80000 173px,#ff0700 182px,#ff2e00 193px,#ff6800 202px,#fec602 215px,#fbe306 220px,#f8f008 223px,#e4f30f 232px,#def411 240px,#e5f30f 249px,#f9f008 258px,#fbe306 261px,#fec502 266px,#ff6700 279px,#ff2d00 288px,#ff0700 299px,#f70000 308px,#c40000 316px,#a30000 323px,#8f0000 331px,#890000 338px,#900000 345px,#a30000 353px,#c60000 361px,#fa0000 370px,#ff0800 381px,#ff2c00 395px,#ff4700 402px,#ff5a00 408px,#ff8200 427px,#ff9a00 448px,#ffa900 475px)"></i>
<i style="background:linear-gradient(90deg,#ffab00 0,#ff9d00 30px,#ff8400 53px,#ff5c00 72px,#ff4700 79px,#ff2c00 86px,#ff0800 100px,#fa0000 111px,#f50000 112px,#c90000 120px,#a60000 128px,#930000 136px,#8e0000 143px,#940000 150px,#a60000 157px,#c60000 164px,#f90000 172px,#ff0700 181px,#ff2f00 192px,#ff6a00 201px,#ffb600 211px,#fcd805 216px,#faef08 220px,#f1f10b 223px,#ddf511 232px,#d6f513 242px,#e0f410 251px,#faef08 261px,#ffb500 270px,#ff6900 280px,#ff2e00 289px,#ff0700 300px,#f90000 309px,#c60000 317px,#a50000 324px,#940000 331px,#8e0000 338px,#930000 345px,#a60000 353px,#c40000 360px,#fa0000 370px,#ff0800 381px,#ff2d00 395px,#ff4800 402px,#ff5a00 408px,#ff8300 427px,#ff9a00 448px,#ffa900 475px)"></i>
<i style="background:linear-gradient(90deg,#ffab00 0,#ff9d00 30px,#ff8400 53px,#ff5d00 72px,#ff4800 79px,#ff2d00 86px,#ff0600 101px,#f70000 112px,#c70000 121px,#a60000 129px,#970000 136px,#920000 143px,#900 150px,#a90000 156px,#c80000 163px,#fa0000 171px,#ff0800 180px,#ff3000 191px,#ff6c00 200px,#ffb300 209px,#faf008 218px,#e9f30d 223px,#d0f515 234px,#ccf517 242px,#d6f513 250px,#e6f30e 257px,#faf008 263px,#ffb200 272px,#ff6b00 281px,#ff2f00 290px,#ff0700 301px,#fa0000 310px,#c80000 318px,#a80000 325px,#970000 332px,#920000 339px,#970000 345px,#a70000 352px,#c20000 359px,#f80000 369px,#fa0000 370px,#ff0600 380px,#ff2d00 395px,#ff4800 402px,#ff5a00 408px,#ff8100 426px,#ff9a00 447px,#ffa900 475px)"></i>
<i style="background:linear-gradient(90deg,#ffab00 0,#ff9d00 30px,#ff8400 53px,#ff7400 62px,#ff5a00 73px,#ff4800 79px,#ff2d00 86px,#ff0600 101px,#f90000 112px,#ce0000 120px,#ad0000 128px,#9c0000 135px,#970000 142px,#9d0000 149px,#ac0000 155px,#cb0000 162px,#fa0000 170px,#ff0600 178px,#ff3100 190px,#ff6700 198px,#ffb800 208px,#f9f008 216px,#e1f410 223px,#c6f519 234px,#c2f51a 243px,#d0f515 252px,#faf008 265px,#ffb700 273px,#ff6700 283px,#ff3100 291px,#ff0800 302px,#fa0000 311px,#ca0000 319px,#ac0000 326px,#9d0000 332px,#970000 339px,#9d0000 346px,#ae0000 353px,#cf0000 361px,#fa0000 369px,#ff0700 380px,#ff2d00 395px,#ff4500 401px,#ff5b00 408px,#ff8300 427px,#ff9b00 448px,#ffa900 475px)"></i>
<i style="background:linear-gradient(90deg,#ffab00 0,#ff9d00 30px,#ff8400 53px,#ff7400 62px,#ff5b00 73px,#ff4500 80px,#ff2d00 86px,#ff0700 101px,#fa0000 112px,#f60000 113px,#cd0000 121px,#ae0000 129px,#a10000 135px,#9c0000 142px,#a30000 149px,#b30000 155px,#ce0000 161px,#f80000 168px,#ff0600 177px,#f30 189px,#ff6a00 197px,#ffb400 206px,#f9f008 214px,#dbf512 222px,#c7f518 228px,#bcf51c 233px,#b7f51e 238px,#b7f51e 243px,#bcf51c 248px,#c8f518 253px,#faf008 267px,#ffb400 275px,#ff6900 284px,#ff2d00 293px,#ff0600 304px,#f70000 313px,#cd0000 320px,#af0000 327px,#a10000 333px,#9c0000 340px,#a20000 347px,#b20000 353px,#cd0000 360px,#fa0000 369px,#ff0700 380px,#ff2e00 395px,#ff4500 401px,#ff5b00 408px,#ff8100 426px,#ff9a00 447px,#ffa900 475px)"></i>
<i style="background:linear-gradient(90deg,#ffab00 0,#ff9d00 30px,#ff8500 53px,#ff7500 62px,#ff5b00 73px,#ff4600 80px,#ff2e00 86px,#ff0800 101px,#f90000 113px,#d00000 121px,#b50000 128px,#a50000 135px,#a10000 141px,#a50000 147px,#b70000 154px,#d10000 160px,#fa0000 167px,#ff0600 176px,#ff2e00 187px,#ff6d00 196px,#ffb900 205px,#faf008 212px,#ddf511 219px,#c2f51a 226px,#b5f51e 231px,#b0f522 239px,#b2f521 246px,#b7f51e 251px,#c3f51a 255px,#faf008 269px,#ffb800 276px,#ff6c00 285px,#ff2e00 294px,#ff0600 305px,#fa0000 314px,#d00000 321px,#b70000 327px,#a50000 334px,#a10000 340px,#a50000 346px,#b60000 353px,#c00 359px,#f90000 368px,#fa0000 369px,#ff0800 380px,#ff2e00 395px,#ff4600 401px,#ff5b00 408px,#ff8200 426px,#ff9a00 447px,#ffa900 475px)"></i>
<i style="background:linear-gradient(90deg,#ffab00 0,#ff9d00 30px,#ff8500 53px,#ff7500 62px,#ff5b00 73px,#ff4600 80px,#ff2e00 86px,#ff0600 102px,#fa0000 113px,#f60000 114px,#d30000 121px,#b90000 128px,#a00 135px,#a60000 141px,#ac0000 147px,#b00 153px,#d40000 159px,#fa0000 166px,#ff0700 175px,#ff3000 186px,#ff6800 194px,#ffb600 203px,#faf008 210px,#dbf512 217px,#c1f51a 223px,#b5f51f 227px,#acf525 236px,#acf525 245px,#b7f51e 255px,#dcf511 264px,#faef08 271px,#ffb500 278px,#ff6700 287px,#ff2f00 295px,#ff0700 306px,#fa0000 315px,#d40000 322px,#b00 328px,#ab0000 334px,#a60000 341px,#ab0000 347px,#ba0000 353px,#cf0000 359px,#fa0000 368px,#ff0600 379px,#ff2e00 395px,#ff4600 401px,#ff5c00 408px,#ff8200 426px,#ff9a00 447px,#ffa900 475px)"></i>
<i style="background:linear-gradient(90deg,#ffab00 0,#ff9d00 30px,#ff8500 53px,#ff7500 62px,#ff5c00 73px,#ff4700 80px,#ff2f00 86px,#ff0700 102px,#f90000 114px,#d70000 121px,#be0000 128px,#b00000 134px,#ac0000 140px,#b10000 146px,#bf0000 152px,#d80000 158px,#fa0000 164px,#ff0600 173px,#ff3200 185px,#ff6b00 193px,#ffb200 201px,#faee08 208px,#daf512 215px,#b9f51d 222px,#b2f521 225px,#a6f529 235px,#a6f529 245px,#b6f51e 258px,#f7f109 272px,#faed08 273px,#fcdd05 275px,#ffb100 280px,#ff6a00 288px,#ff3100 296px,#ff0800 307px,#f90000 317px,#d70000 323px,#bf0000 329px,#b00000 335px,#ac0000 341px,#b00000 347px,#be0000 353px,#d30000 359px,#f90000 367px,#fa0000 368px,#ff0700 379px,#ff2f00 395px,#ff4700 401px,#ff5c00 408px,#ff8200 426px,#ff9a00 447px,#ffa900 475px)"></i>
<i style="background:linear-gradient(90deg,#ffab00 0,#ff9d00 30px,#ff8500 53px,#ff7500 62px,#ff5c00 73px,#ff4700 80px,#ff2c00 87px,#ff0700 102px,#fa0000 114px,#f60000 115px,#d60000 122px,#c20000 128px,#b50000 134px,#b20000 140px,#b70000 146px,#c40000 151px,#d70000 156px,#fa0000 163px,#ff0600 172px,#ff2a00 182px,#ff3400 184px,#ff6e00 192px,#ffb700 200px,#faec07 206px,#f7f009 207px,#daf512 213px,#b6f51e 220px,#aef523 224px,#a0f52d 235px,#9ff52d 245px,#a7f528 253px,#b6f51e 261px,#f8f009 274px,#faeb07 275px,#ffb600 281px,#ff6d00 289px,#ff2d00 298px,#ff0600 309px,#fa0000 318px,#d60000 325px,#c30000 330px,#b60000 336px,#b20000 342px,#b60000 347px,#c20000 353px,#d70000 359px,#fa0000 367px,#ff0800 379px,#ff2d00 394px,#ff4700 401px,#ff5c00 408px,#ff8200 426px,#ff9a00 447px,#ffa900 475px)"></i>
<i style="background:linear-gradient(90deg,#ffab00 0,#ff9d00 30px,#ff8500 53px,#ff7600 62px,#ff5d00 73px,#ff4800 80px,#ff2d00 87px,#ff0800 102px,#f90000 115px,#da0000 122px,#c70000 128px,#b00 134px,#b80000 139px,#bd0000 145px,#c80000 150px,#db0000 155px,#fa0000 161px,#ff0700 171px,#ff2f00 182px,#ff6900 190px,#ffb200 198px,#f9f008 205px,#daf512 211px,#b8f51d 217px,#a9f526 223px,#9af531 234px,#98f532 244px,#a1f52c 253px,#b5f51f 263px,#daf512 270px,#f9f008 276px,#ffb100 283px,#ff6800 291px,#ff2f00 299px,#ff0700 310px,#fa0000 320px,#db0000 326px,#c80000 331px,#bd0000 336px,#b80000 342px,#b00 347px,#c70000 353px,#db0000 359px,#fa0000 366px,#ff0600 378px,#ff2d00 394px,#ff4800 401px,#ff5d00 408px,#ff8200 426px,#ff9a00 447px,#ffa900 475px)"></i>
<i style="background:linear-gradient(90deg,#ffab00 0,#ff9d00 30px,#ff8600 53px,#ff7600 62px,#ff5d00 73px,#ff4800 80px,#ff2d00 87px,#ff0600 103px,#f80000 116px,#de0000 122px,#cb0000 128px,#c00000 134px,#be0000 139px,#c20000 144px,#cd0000 149px,#db0000 153px,#fa0000 160px,#ff0600 169px,#ff3100 181px,#ff6c00 189px,#ffb700 197px,#faef08 203px,#daf512 209px,#b6f51e 215px,#9cf52f 227px,#98f532 230px,#96f537 239px,#98f532 251px,#a3f52b 258px,#b7f51e 266px,#f5f109 277px,#faee08 278px,#ffb600 284px,#ff6b00 292px,#ff3100 300px,#ff0600 312px,#fa0000 321px,#db0000 328px,#ca0000 333px,#c10000 338px,#be0000 343px,#c20000 348px,#cb0000 353px,#db0000 358px,#fa0000 366px,#ff0700 378px,#ff2d00 394px,#ff4900 401px,#ff5d00 408px,#ff8300 426px,#ff9a00 447px,#ffa900 475px)"></i>
<i style="background:linear-gradient(90deg,#ffab00 0,#ff9d00 30px,#ff8600 53px,#ff7600 62px,#ff5d00 73px,#ff4900 80px,#ff2e00 87px,#ff0700 103px,#fa0000 116px,#f60000 117px,#df0000 123px,#d00000 128px,#c70000 133px,#c40000 138px,#c80000 143px,#d20000 148px,#df0000 152px,#fa0000 158px,#ff0700 168px,#ff2d00 179px,#ff6f00 188px,#ffb200 195px,#faec07 201px,#f7f109 202px,#dbf512 207px,#b6f51e 213px,#99f532 225px,#95f53b 240px,#98f533 255px,#b6f51e 268px,#f7f009 279px,#faeb07 280px,#ffb100 286px,#ff6e00 293px,#ff2d00 302px,#ff0600 313px,#fa0000 323px,#e30000 328px,#d20000 333px,#c70000 338px,#c40000 343px,#c70000 348px,#d00000 353px,#df0000 358px,#fa0000 365px,#ff0800 378px,#ff2e00 394px,#ff4900 401px,#ff5e00 408px,#ff8300 426px,#ff9a00 447px,#ffa900 475px)"></i>
<i style="background:linear-gradient(90deg,#ffab00 0,#ff9d00 30px,#ff8600 53px,#f70 62px,#ff5e00 73px,#ff4900 80px,#ff2e00 87px,#ff0600 104px,#fa0000 117px,#e30000 123px,#d50000 128px,#c00 133px,#ca0000 138px,#cf0000 143px,#d70000 147px,#e40000 151px,#fa0000 156px,#ff0800 167px,#ff2f00 178px,#ff6900 186px,#ffb700 194px,#f9f008 200px,#dcf511 205px,#b5f51e 211px,#98f532 222px,#93f540 238px,#94f53e 246px,#96f538 254px,#98f532 259px,#b6f51e 270px,#faf008 281px,#ffb600 287px,#ff6900 295px,#ff2e00 303px,#ff0800 314px,#fa0000 325px,#e40000 330px,#d70000 334px,#cd0000 339px,#ca0000 344px,#ce0000 349px,#d70000 354px,#fa0000 364px,#ff0600 377px,#ff2e00 394px,#ff4600 400px,#ff5b00 407px,#ff8000 424px,#ff9a00 446px,#ffa900 475px)"></i>
<i style="background:linear-gradient(90deg,#ffab00 0,#ff9e00 30px,#ff8600 53px,#f70 62px,#ff5e00 73px,#ff4a00 80px,#ff2f00 87px,#ff0700 104px,#f90000 118px,#da0000 128px,#d00000 137px,#d40000 142px,#dc0000 146px,#fa0000 154px,#ff0600 165px,#ff3100 177px,#ff6d00 185px,#ffb100 192px,#faed08 198px,#d7f513 204px,#b5f51e 209px,#98f532 219px,#94f53e 228px,#92f544 237px,#92f544 245px,#94f53d 254px,#98f532 262px,#b6f51e 272px,#f6f109 282px,#faec08 283px,#ffba01 288px,#ff6c00 296px,#ff3100 304px,#ff0600 316px,#f90000 327px,#e50000 332px,#da0000 336px,#d30000 340px,#d00000 345px,#dc0000 354px,#fa0000 363px,#ff0600 376px,#ff2c00 393px,#ff4700 400px,#ff5c00 407px,#ff8000 424px,#ff9a00 446px,#ffa900 475px)"></i>
<i style="background:linear-gradient(90deg,#ffab00 0,#ff9e00 30px,#ff8600 53px,#f70 62px,#ff5f00 73px,#ff4b00 80px,#ff2d00 88px,#ff0800 104px,#f90000 119px,#df0000 128px,#d80000 133px,#d70000 137px,#e10000 145px,#f90000 152px,#ff0800 164px,#ff2d00 175px,#ff7000 184px,#ffb500 191px,#f8f009 197px,#d9f512 202px,#b6f51e 207px,#99f531 216px,#8ef54f 237px,#8ef54f 244px,#9af531 265px,#b6f51e 274px,#daf512 279px,#f9f008 284px,#ffb400 290px,#ff6f00 297px,#ff2d00 306px,#ff0700 317px,#f90000 329px,#df0000 337px,#d70000 345px,#df0000 353px,#fa0000 362px,#ff0600 376px,#ff2d00 393px,#ff4800 400px,#ff5c00 407px,#ff8000 424px,#ff9a00 446px,#ffa900 475px)"></i>
<i style="background:linear-gradient(90deg,#ffab00 0,#ff9e00 30px,#ff8700 53px,#ff7800 62px,#ff5f00 73px,#ff4b00 80px,#ff2d00 88px,#ff0600 105px,#fa0000 120px,#e40000 128px,#d00 136px,#e40000 143px,#fa0000 150px,#ff0600 162px,#ff0c00 164px,#ff2f00 174px,#ff6a00 182px,#ffba01 190px,#faee08 195px,#dcf511 200px,#b7f51e 205px,#98f532 214px,#91f545 226px,#89f55e 235px,#88f562 240px,#88f560 244px,#8bf557 249px,#91f547 254px,#99f532 267px,#b7f51e 276px,#f6f109 285px,#faed08 286px,#ffb900 291px,#ff6900 299px,#ff2e00 307px,#ff0600 319px,#f90000 331px,#e40000 338px,#d00 346px,#e40000 353px,#fa0000 361px,#ff0700 376px,#ff2d00 393px,#ff4800 400px,#ff5d00 407px,#ff8100 424px,#ff9a00 446px,#ffa900 475px)"></i>
<i style="background:linear-gradient(90deg,#ffab00 0,#ff9e00 30px,#ff8700 53px,#ff7800 62px,#ff6000 73px,#ff4900 81px,#ff2e00 88px,#ff0700 105px,#f70000 122px,#e70000 129px,#e30000 136px,#ea0000 142px,#fa0000 148px,#ff0600 160px,#ff1400 165px,#ff2c00 172px,#ff5d00 179px,#ff6d00 181px,#ffb300 188px,#f8f009 194px,#d7f513 199px,#b4f520 204px,#98f532 212px,#91f546 223px,#89f560 229px,#84f56d 234px,#82f573 239px,#83f571 244px,#88f563 251px,#91f546 258px,#98f532 269px,#b4f51f 277px,#f9f008 287px,#ffb200 293px,#ff6c00 300px,#ff3100 308px,#ff0700 320px,#fa0000 333px,#e80000 340px,#e30000 346px,#e90000 353px,#fa0000 360px,#ff0600 375px,#ff2e00 393px,#ff4900 400px,#ff5d00 407px,#ff8100 424px,#ff9a00 446px,#ffa900 475px)"></i>
<i style="background:linear-gradient(90deg,#ffab00 0,#ff9e00 30px,#ff8700 53px,#ff7800 62px,#ff6000 73px,#ff4900 81px,#ff2e00 88px,#ff0600 106px,#f90000 123px,#ed0000 129px,#e90000 135px,#e00 140px,#fa0000 146px,#ff0600 159px,#ff1800 165px,#ff2d00 171px,#ff6700 179px,#ffb700 187px,#faed08 192px,#dbf512 197px,#b5f51f 202px,#98f532 210px,#91f547 220px,#87f565 226px,#80f57a 232px,#7df583 237px,#7cf585 241px,#7df581 245px,#81f577 250px,#87f565 255px,#91f546 261px,#98f532 271px,#b5f51f 279px,#f6f109 288px,#faec07 289px,#ffb600 294px,#ff6f00 301px,#ff2d00 310px,#ff0600 322px,#fa0000 335px,#ed0000 341px,#e90000 347px,#ed0000 352px,#fa0000 359px,#ff0600 375px,#ff2e00 393px,#ff4a00 400px,#ff5e00 407px,#ff8100 424px,#ff9a00 446px,#ffa900 475px)"></i>
<i style="background:linear-gradient(90deg,#ffab00 0,#ff9e00 30px,#ff8700 53px,#ff7900 62px,#ff6100 73px,#ff4a00 81px,#ff2c00 89px,#ff0700 106px,#f90000 125px,#ef0000 134px,#fa0000 143px,#ff0600 157px,#ff2000 166px,#ff2f00 170px,#ff6a00 178px,#ffb000 185px,#f9f008 191px,#d7f513 196px,#b6f51e 200px,#98f532 208px,#91f546 217px,#84f56d 224px,#7cf585 230px,#77f594 236px,#76f597 241px,#78f592 246px,#7cf585 251px,#84f56d 257px,#91f545 264px,#98f532 273px,#b7f51e 281px,#d8f513 285px,#faf008 290px,#ffba01 295px,#ff6900 303px,#ff2e00 311px,#ff0700 323px,#fa0100 336px,#ef0000 348px,#fa0000 357px,#ff0600 374px,#ff2c00 392px,#ff4a00 400px,#ff5e00 407px,#ff8200 424px,#ff9a00 446px,#ffa900 475px)"></i>
<i style="background:linear-gradient(90deg,#ffab00 0,#ff9e00 30px,#ff8900 52px,#ff7900 62px,#ff6100 73px,#ff4b00 81px,#ff2d00 89px,#ff0600 107px,#f90000 128px,#f60000 134px,#ff0600 156px,#ff2c00 168px,#ff6c00 177px,#ffb400 184px,#faeb07 189px,#f6f109 190px,#dbf512 194px,#b4f51f 199px,#98f532 206px,#91f547 215px,#82f574 222px,#76f598 230px,#70f5a6 236px,#6ff5aa 241px,#71f5a5 246px,#76f597 251px,#80f579 258px,#91f547 266px,#99f532 275px,#b4f51f 282px,#f7f009 291px,#fbea07 292px,#ffb300 297px,#ff6b00 304px,#ff3000 312px,#ff1a00 318px,#ff0600 325px,#fb0100 337px,#f60000 348px,#ff0700 374px,#ff2d00 392px,#ff4b00 400px,#ff5f00 407px,#ff8000 423px,#ff9a00 445px,#ffa900 475px)"></i>
<i style="background:linear-gradient(90deg,#ffab00 0,#ff9d00 32px,#ff8400 56px,#ff5f00 74px,#ff4800 82px,#ff2d00 89px,#ff0600 108px,#fa0000 128px,#fc0200 145px,#ff0800 155px,#ff2d00 167px,#ff6f00 176px,#ffb700 183px,#faef08 188px,#d8f513 193px,#b6f51e 197px,#99f531 204px,#90f549 213px,#7ef57f 221px,#70f5a7 229px,#6af5b8 235px,#68f5bd 240px,#6af5b8 246px,#71f5a6 252px,#7ef57f 260px,#90f548 268px,#9af531 277px,#b6f51e 284px,#d9f512 288px,#f5f10a 292px,#faee08 293px,#ffb600 298px,#ff6e00 305px,#ff2d00 314px,#ff0800 326px,#fc0200 335px,#fa0000 353px,#ff0600 373px,#ff2e00 392px,#ff4500 398px,#ff5a00 405px,#ff8100 423px,#ff9a00 445px,#ffa900 475px)"></i>
<i style="background:linear-gradient(90deg,#ffab00 0,#ff9d00 32px,#ff8400 56px,#ff6000 74px,#ff4900 82px,#ff2e00 89px,#ff0700 108px,#fb0100 126px,#fc0200 144px,#ff0700 153px,#ff2f00 166px,#ff7100 175px,#ffba01 182px,#f9f008 187px,#b4f51f 196px,#98f533 203px,#90f54a 211px,#7df584 219px,#72f5a2 224px,#6bf5b6 228px,#64f5c9 234px,#62f5d0 240px,#63f5cb 246px,#6bf5b5 253px,#72f5a2 257px,#7df584 262px,#90f549 270px,#98f533 278px,#b4f51f 285px,#ddf511 290px,#f9f008 294px,#ffb900 299px,#ff7000 306px,#ff2e00 315px,#ff0700 328px,#fc0300 336px,#fb0100 354px,#ff0700 373px,#ff2e00 392px,#ff4600 398px,#ff5800 404px,#ff8100 423px,#ff9a00 445px,#ffa900 475px)"></i>
<i style="background:linear-gradient(90deg,#ffab00 0,#ff9d00 32px,#ff8400 56px,#ff7400 65px,#ff5b00 76px,#ff4a00 82px,#ff2c00 90px,#ff0600 109px,#fb0100 127px,#fd0300 144px,#ff0600 151px,#ff1b00 159px,#ff3000 165px,#ff6a00 173px,#ffb200 180px,#faea07 185px,#f6f109 186px,#daf512 190px,#b7f51e 194px,#98f532 201px,#90f549 209px,#76f596 219px,#66f5c4 227px,#5ef5d9 233px,#5bf4e2 240px,#5df4db 247px,#64f5c8 253px,#74f59c 261px,#83f571 267px,#90f548 272px,#99f532 280px,#b7f51e 287px,#dbf512 291px,#f7f009 295px,#fbe907 296px,#ffb100 301px,#ff6900 308px,#ff3000 316px,#ff1b00 322px,#ff0800 329px,#fd0300 337px,#fb0100 354px,#ff0600 372px,#ff2c00 391px,#ff5900 404px,#ff8100 423px,#ff9a00 445px,#ffa900 475px)"></i>
<i style="background:linear-gradient(90deg,#ffab00 0,#ff9d00 32px,#ff8400 56px,#ff7500 65px,#ff5c00 76px,#ff4700 83px,#ff2d00 90px,#ff0600 110px,#fc0200 127px,#fd0400 143px,#ff0a00 151px,#ff1f00 159px,#ff3200 164px,#ff6c00 172px,#ffb500 179px,#faed08 184px,#f4f10a 185px,#b5f51f 193px,#9af531 199px,#90f548 207px,#72f5a1 218px,#67f5c2 223px,#5ff5d7 227px,#57f2ec 234px,#55f2f3 240px,#57f2ec 247px,#5ff5d6 254px,#67f5c1 258px,#73f5a0 263px,#91f547 274px,#98f533 281px,#b5f51f 288px,#d8f513 292px,#f5f10a 296px,#faec07 297px,#ffb400 302px,#ff6b00 309px,#ff3200 317px,#ff1c00 323px,#ff0700 331px,#fd0400 338px,#fc0200 354px,#ff0600 371px,#ff2d00 391px,#ff4700 398px,#ff5a00 404px,#ff8200 423px,#ff9a00 445px,#fa0 475px)"></i>
<i style="background:linear-gradient(90deg,#ffab00 0,#ff9d00 33px,#ff8300 57px,#ff5a00 77px,#ff4800 83px,#ff2d00 90px,#ff0700 110px,#fc0200 126px,#fd0400 142px,#ff0900 149px,#ff2e00 162px,#ff6e00 171px,#ffb700 178px,#faf008 183px,#ddf511 187px,#b9f51d 191px,#98f532 198px,#91f546 205px,#71f5a4 216px,#60f5d5 223px,#56f2ef 229px,#50f0ff 235px,#4febfe 240px,#50f0ff 246px,#59f3e7 254px,#60f5d4 258px,#6cf5b3 263px,#91f545 276px,#99f532 283px,#b3f520 289px,#ddf411 294px,#faef08 298px,#ffb600 303px,#ff6d00 310px,#ff2d00 319px,#ff0900 332px,#fd0400 339px,#fc0200 355px,#ff0700 371px,#ff2e00 391px,#ff4500 397px,#ff5a00 404px,#ff8200 423px,#ff9b00 445px,#fa0 475px)"></i>
<i style="background:linear-gradient(90deg,#ffab00 0,#ff9d00 33px,#ff8400 57px,#ff5b00 77px,#ff4500 84px,#ff2e00 90px,#ff0700 111px,#fd0400 140px,#ff0a00 148px,#ff1c00 155px,#ff2f00 161px,#ff7000 170px,#ffb900 177px,#f8f009 182px,#dbf512 186px,#b6f51e 190px,#98f533 197px,#91f545 203px,#74f59d 213px,#65f5c6 218px,#5cf4e0 222px,#51f0fc 228px,#4cddfd 235px,#4bd7fc 240px,#4cddfd 246px,#50efff 252px,#58f3ea 257px,#63f5cc 262px,#71f5a5 267px,#90f54a 277px,#92f544 278px,#98f533 284px,#b2f521 290px,#b7f51e 291px,#dcf511 295px,#f9f008 299px,#ffb800 304px,#ff6f00 311px,#ff2f00 320px,#ff0c00 332px,#ff0600 335px,#fe0500 339px,#fc0300 355px,#ff0700 370px,#ff2e00 391px,#ff4600 397px,#ff5b00 404px,#ff8200 423px,#ff9b00 445px,#fa0 475px)"></i>
<i style="background:linear-gradient(90deg,#ffab00 0,#ff9d00 33px,#ff8400 57px,#ff5b00 77px,#ff4a00 83px,#ff2c00 91px,#ff0600 112px,#fe0500 140px,#ff0600 144px,#ff1000 149px,#ff3100 160px,#ff6900 168px,#ffb000 175px,#fbe907 180px,#f7f009 181px,#d9f512 185px,#b5f51f 189px,#99f531 195px,#91f547 202px,#74f59d 211px,#64f5c8 216px,#5af3e4 220px,#50efff 225px,#4cdcfd 229px,#49cefb 233px,#46c4fa 240px,#47c7fa 244px,#49cffb 248px,#4cdcfd 252px,#50efff 256px,#5af3e4 261px,#65f5c7 265px,#74f59c 270px,#91f546 279px,#99f531 286px,#b5f51e 292px,#daf512 296px,#f8f009 300px,#fbe807 301px,#ffba01 305px,#ff7100 312px,#ff3000 321px,#ff1200 331px,#fe0500 339px,#fd0300 354px,#ff0700 369px,#ff2d00 390px,#ff4700 397px,#ff5b00 404px,#ff8300 423px,#ff9b00 445px,#fa0 475px)"></i>
<i style="background:linear-gradient(90deg,#ffab00 0,#ffa000 29px,#ff8c00 51px,#ff7000 68px,#ff5100 81px,#ff2d00 91px,#ff0c00 109px,#fe0500 117px,#fe0500 139px,#ff0600 142px,#f10 148px,#ff2300 155px,#ff3200 159px,#ff6a00 167px,#febd01 175px,#faeb07 179px,#f6f109 180px,#d7f513 184px,#b4f51f 188px,#98f532 194px,#91f545 200px,#61f5d2 215px,#56f2ee 219px,#50eeff 222px,#49d2fc 227px,#45bdf9 232px,#42b2f8 236px,#41aef8 240px,#42b1f8 244px,#44baf9 248px,#49d3fc 254px,#50efff 259px,#61f5d1 266px,#71f5a4 271px,#8ff54b 280px,#92f544 281px,#98f532 287px,#b4f51f 293px,#d8f513 297px,#f7f109 301px,#fbea07 302px,#ffb000 307px,#ff6900 314px,#ff3200 322px,#ff1500 331px,#ff0600 340px,#ff0700 368px,#ff2d00 390px,#ff4800 397px,#ff5a00 403px,#ff8300 423px,#ff9b00 445px,#fa0 475px)"></i>
<i style="background:linear-gradient(90deg,#ffab00 0,#ffa000 29px,#ff8d00 51px,#ff7100 68px,#ff5200 81px,#ff2e00 91px,#ff0f00 108px,#ff0600 115px,#ff0500 138px,#ff1200 147px,#ff2e00 157px,#ff6b00 166px,#ffb300 173px,#faec07 178px,#f5f10a 179px,#b3f520 187px,#98f533 193px,#91f546 199px,#64f5c9 212px,#50f0fe 219px,#49d0fb 224px,#41abf7 231px,#3d9cf6 236px,#3c97f5 240px,#3d9af5 244px,#40a7f7 249px,#48cafb 256px,#4feafe 261px,#50f0fe 262px,#61f5d1 268px,#91f546 282px,#98f533 288px,#b3f520 294px,#f6f109 302px,#faeb07 303px,#febd01 307px,#ff6a00 315px,#f30 323px,#ff1900 331px,#ff0600 341px,#fe0400 356px,#ff0800 368px,#ff2e00 390px,#ff4500 396px,#ff5a00 403px,#ff8300 423px,#ff9b00 445px,#fa0 475px)"></i>
<i style="background:linear-gradient(90deg,#ffac00 0,#ff9f00 30px,#ff8c00 52px,#ff7b00 63px,#ff6400 74px,#ff4c00 83px,#ff2f00 91px,#ff1300 106px,#ff0600 116px,#ff0600 137px,#ff1300 146px,#ff2f00 156px,#ff6c00 165px,#ffb400 172px,#faed08 177px,#f4f10a 178px,#b2f521 186px,#9af531 191px,#90f54a 198px,#61f5d1 211px,#50eeff 217px,#43b5f8 225px,#3d99f5 230px,#3888f5 235px,#3682f5 240px,#3889f5 246px,#3d99f5 251px,#43b6f9 256px,#50efff 264px,#62f5d0 270px,#90f548 283px,#92f544 284px,#97f534 289px,#b3f520 295px,#f5f10a 303px,#faec07 304px,#ffb200 309px,#ff6b00 316px,#ff2e00 325px,#ff1500 334px,#ff0600 343px,#fe0500 362px,#ff0b00 369px,#ff2d00 389px,#ff5b00 403px,#ff8400 423px,#ff9b00 445px,#fa0 475px)"></i>
<i style="background:linear-gradient(90deg,#ffac00 0,#ff9f00 30px,#ff8b00 53px,#ff7a00 64px,#ff6300 75px,#ff4d00 83px,#ff2d00 92px,#ff1700 104px,#ff0600 117px,#ff0600 135px,#ff1400 145px,#ff3000 155px,#ff6c00 164px,#ffb400 171px,#faee08 176px,#f4f10a 177px,#ddf511 180px,#b7f51e 184px,#b2f521 185px,#99f531 190px,#91f545 196px,#5ff5d8 210px,#4feeff 215px,#40a7f7 224px,#3889f5 229px,#337bf5 233px,#3175f5 241px,#347df5 249px,#3889f5 252px,#40a7f7 257px,#50eeff 266px,#5ff5d7 271px,#8ff54c 284px,#92f544 285px,#9af531 291px,#b8f51d 297px,#d5f514 300px,#faed08 305px,#ff9d00 312px,#ff6c00 317px,#ff2f00 326px,#ff1400 336px,#ff0600 346px,#ff0600 363px,#ff1700 377px,#ff2d00 389px,#ff4b00 397px,#ff6300 406px,#ff7a00 417px,#ff8a00 427px,#ff9e00 448px,#fa0 475px)"></i>
<i style="background:linear-gradient(90deg,#ffac00 0,#ff9f00 31px,#ff8a00 54px,#ff7b00 64px,#ff6100 76px,#ff4b00 84px,#ff2e00 92px,#ff1b00 102px,#ff0700 118px,#ff0600 132px,#ff1300 143px,#ff3100 154px,#ff6d00 163px,#ffb400 170px,#faef08 175px,#f3f10a 176px,#dcf511 179px,#b6f51e 183px,#98f532 189px,#91f546 195px,#60f5d4 208px,#50eeff 213px,#3ea0f6 222px,#357ff5 227px,#2f6ff5 234px,#2e6bf5 241px,#3071f5 248px,#3580f5 254px,#3ea1f6 259px,#50efff 268px,#60f5d3 273px,#91f545 286px,#99f531 292px,#b7f51e 298px,#d4f514 301px,#faed08 306px,#ff9d00 313px,#ff6c00 318px,#ff3000 327px,#ff1300 338px,#ff0600 349px,#ff0700 363px,#ff1c00 379px,#ff2e00 389px,#ff4b00 397px,#ff6100 405px,#ff7900 416px,#ff8900 426px,#ff9d00 447px,#fa0 475px)"></i>
<i style="background:linear-gradient(90deg,#ffac00 0,#ff9f00 31px,#ff8a00 54px,#ff7900 65px,#ff5f00 77px,#ff4900 85px,#ff2e00 92px,#ff2300 98px,#ff0b00 115px,#ff0600 129px,#ff1400 142px,#ff2400 149px,#ff3200 153px,#ff6d00 162px,#ff9f00 167px,#faef08 174px,#d3f514 179px,#b6f51e 182px,#98f532 188px,#91f546 194px,#62f5cf 206px,#50f0fe 211px,#3d9cf6 220px,#347ef5 224px,#2d68f5 232px,#2b60f5 240px,#2d68f5 249px,#357ff5 257px,#3e9df6 261px,#51f0fd 270px,#62f5ce 275px,#91f546 287px,#98f532 293px,#b1f521 298px,#b7f51e 299px,#ddf511 303px,#f4f10a 306px,#faee08 307px,#ff9e00 314px,#ff6c00 319px,#ff3100 328px,#ff2100 333px,#ff1300 340px,#ff0600 353px,#ff0c00 367px,#ff2500 384px,#ff2f00 389px,#ff4900 396px,#ff6000 404px,#f70 415px,#f80 425px,#ff9d00 447px,#fa0 475px)"></i>
<i style="background:linear-gradient(90deg,#ffac00 0,#ff9f00 32px,#ff8900 55px,#ff7a00 65px,#ff6000 77px,#ff4a00 85px,#ff3000 92px,#ff2900 95px,#ff0e00 113px,#ff0800 127px,#ff1400 140px,#f20 147px,#ff3200 152px,#ff6d00 161px,#ff9e00 166px,#faee08 173px,#f3f10a 174px,#dcf511 177px,#b6f51e 181px,#98f532 187px,#90f548 193px,#60f5d4 205px,#52f1fb 209px,#4febfe 210px,#3d9bf6 218px,#337bf5 222px,#2e6af5 227px,#2a5ef5 232px,#2756f5 241px,#2b60f5 250px,#337bf5 259px,#3d9cf6 263px,#4fecff 271px,#52f1fa 272px,#61f5d3 276px,#91f547 288px,#98f532 294px,#b1f521 299px,#b7f51e 300px,#ddf511 304px,#f4f10a 307px,#faed08 308px,#febe01 312px,#ff9300 316px,#ff6c00 320px,#ff4a00 325px,#ff2d00 330px,#ff1200 342px,#ff0800 355px,#ff1000 369px,#ff2d00 388px,#ff4a00 396px,#ff5e00 403px,#ff7800 415px,#f80 425px,#ff9d00 447px,#fa0 475px)"></i>
<i style="background:linear-gradient(90deg,#ffac00 0,#ff9f00 32px,#ff8a00 55px,#ff7800 66px,#ff5e00 78px,#ff4800 86px,#ff2e00 93px,#ff1200 111px,#ff0a00 125px,#ff1300 138px,#ff2e00 150px,#ff4a00 155px,#ff6d00 160px,#ffb400 167px,#faee08 172px,#f4f10a 173px,#ddf511 176px,#b6f51e 180px,#98f532 186px,#90f549 192px,#5ff5d8 204px,#50f0ff 208px,#3a91f5 217px,#357ff5 219px,#337af5 220px,#2c63f5 226px,#2756f5 231px,#254ff5 236px,#244df5 241px,#2651f5 247px,#2858f5 251px,#337af5 261px,#3b92f5 264px,#50f0fe 273px,#5ff5d7 277px,#90f548 289px,#98f532 295px,#b1f521 300px,#b7f51e 301px,#def411 305px,#f5f10a 308px,#faed08 309px,#ff9d00 316px,#ff6c00 321px,#ff3200 330px,#ff2500 334px,#ff1600 341px,#ff0a00 354px,#ff1000 368px,#ff2a00 386px,#ff2e00 388px,#ff4800 395px,#ff5f00 403px,#ff7900 415px,#f80 425px,#ff9e00 447px,#fa0 475px)"></i>
<i style="background:linear-gradient(90deg,#ffac00 0,#ff9f00 32px,#ff8a00 55px,#ff7900 66px,#ff5f00 78px,#ff4c00 85px,#ff2c00 94px,#ff1200 112px,#ff0c00 126px,#ff1600 138px,#ff2e00 149px,#ff4b00 154px,#ff6d00 159px,#ff9d00 164px,#faed08 171px,#f5f10a 172px,#ddf411 175px,#b7f51e 179px,#b1f521 180px,#98f532 185px,#90f54a 191px,#5ef5db 203px,#52f1f9 206px,#4febfe 207px,#3b92f5 215px,#357ff5 217px,#3379f5 218px,#2b60f5 224px,#2651f5 229px,#2248f6 235px,#2245f6 240px,#2348f6 246px,#2651f5 252px,#2b61f5 257px,#337af5 263px,#3b93f5 266px,#4fecff 274px,#52f1f8 275px,#5ef5da 278px,#90f549 290px,#98f532 296px,#b2f521 301px,#b8f51d 302px,#d5f514 305px,#f5f109 309px,#faec07 310px,#febd01 314px,#ff9200 318px,#ff6c00 322px,#ff4a00 327px,#ff2e00 332px,#ff1400 344px,#ff0b00 356px,#ff1300 370px,#ff2d00 387px,#ff4900 395px,#ff5d00 402px,#f70 414px,#ff8700 424px,#ff9d00 446px,#fa0 475px)"></i>
<i style="background:linear-gradient(90deg,#ffac00 0,#ff9f00 32px,#ff8a00 55px,#ff7900 66px,#ff6000 78px,#ff4a00 86px,#ff2d00 94px,#ff1300 112px,#ff0d00 126px,#ff1700 137px,#ff2e00 148px,#ff4a00 153px,#ff6c00 158px,#ff9200 162px,#febd01 166px,#faeb07 170px,#f5f109 171px,#d5f514 175px,#b8f51d 178px,#b2f521 179px,#98f532 184px,#90f54a 190px,#61f5d2 201px,#51f0fc 205px,#47c6fa 209px,#3c96f5 213px,#337af5 216px,#2b63f5 221px,#2550f5 226px,#2143f6 233px,#1f3ef7 240px,#2042f6 247px,#254ef5 254px,#295bf5 258px,#3175f5 264px,#3682f5 266px,#398cf5 267px,#4ee9fe 275px,#51f0fb 276px,#5df4dc 279px,#90f549 291px,#98f532 297px,#b2f521 302px,#f6f109 310px,#fbea07 311px,#ffbc01 315px,#ff9100 319px,#ff6b00 323px,#ff4a00 328px,#ff2e00 333px,#ff1600 344px,#ff0d00 356px,#ff1400 370px,#ff2d00 387px,#ff4a00 395px,#ff5e00 402px,#ff7800 414px,#f80 424px,#ff9d00 446px,#fa0 475px)"></i>
<i style="background:linear-gradient(90deg,#ffac00 0,#ff9f00 32px,#ff8900 56px,#ff7800 67px,#ff5e00 79px,#ff4800 87px,#ff2e00 94px,#ff1500 111px,#ff0f00 124px,#ff1800 136px,#ff2f00 147px,#ff4a00 152px,#ff6b00 157px,#ff9000 161px,#ffbb01 165px,#fbea07 169px,#f6f109 170px,#b2f520 178px,#98f532 183px,#90f549 189px,#60f5d3 200px,#50f0ff 204px,#3785f5 213px,#347cf5 214px,#3071f5 216px,#2755f5 222px,#2247f6 227px,#1e3af7 234px,#1c36f7 240px,#1d39f7 246px,#2145f6 253px,#2652f5 258px,#2f6cf5 264px,#347cf5 267px,#3786f5 268px,#50f0fe 277px,#61f5d2 281px,#90f548 292px,#99f531 298px,#b3f520 303px,#d8f513 307px,#f7f009 311px,#fbe807 312px,#ffba01 316px,#ff8f00 320px,#ff6b00 324px,#f30 333px,#ff2900 336px,#ff1a00 343px,#ff0f00 355px,#ff1400 369px,#ff2e00 387px,#ff4800 394px,#ff5f00 402px,#ff7800 414px,#ff8900 425px,#ff9e00 447px,#fa0 475px)"></i>
<i style="background:linear-gradient(90deg,#ffac00 0,#ff9f00 32px,#ff8b00 55px,#ff7b00 66px,#ff5f00 79px,#ff4c00 86px,#ff2d00 95px,#ff1600 112px,#f10 125px,#ff1b00 137px,#ff2900 144px,#ff3400 147px,#ff6a00 156px,#ff8f00 160px,#ffb900 164px,#f8f009 169px,#d9f512 173px,#b3f520 177px,#99f531 182px,#90f548 188px,#60f5d4 199px,#50eeff 203px,#3580f5 212px,#2d68f5 216px,#2651f5 221px,#1f3ff7 227px,#1b33f8 234px,#1a30f8 240px,#1b32f8 246px,#1f3df7 253px,#2651f5 260px,#2c64f5 264px,#3581f5 269px,#50efff 278px,#60f5d3 282px,#91f547 293px,#9af531 299px,#b4f520 304px,#daf512 308px,#f9f008 312px,#ffb800 317px,#ff8e00 321px,#ff6a00 325px,#ff4900 330px,#ff2e00 335px,#ff1800 346px,#ff1000 357px,#ff1700 370px,#ff2d00 386px,#ff4900 394px,#ff5d00 401px,#f70 413px,#ff8900 424px,#ff9e00 446px,#fa0 475px)"></i>
<i style="background:linear-gradient(90deg,#ffac00 0,#ffa000 32px,#ff8b00 55px,#ff7900 67px,#ff6000 79px,#ff4a00 87px,#ff2d00 95px,#ff1700 112px,#ff1300 126px,#ff1e00 137px,#ff2c00 144px,#ff3400 146px,#ff6900 155px,#ff9700 160px,#ffb700 163px,#fbe506 167px,#f9f008 168px,#daf512 172px,#b4f51f 176px,#9af531 181px,#91f547 187px,#60f5d5 198px,#53f1f7 201px,#4fedff 202px,#347cf5 211px,#2651f5 219px,#1f3ef7 225px,#1a30f8 231px,#192cf7 243px,#1a30f8 250px,#1d39f7 254px,#2652f5 262px,#2c66f5 266px,#347df5 270px,#50eeff 279px,#60f5d3 283px,#91f546 294px,#9bf530 300px,#b5f51f 305px,#dbf512 309px,#faf008 313px,#ffb600 318px,#ff8c00 322px,#ff6900 326px,#ff4900 331px,#ff2f00 336px,#ff1900 347px,#ff1200 358px,#ff1900 371px,#ff2d00 386px,#ff4a00 394px,#ff5e00 401px,#ff7800 413px,#ff8900 424px,#ff9e00 446px,#fa0 475px)"></i>
<i style="background:linear-gradient(90deg,#ffac00 0,#ffa000 32px,#ff8c00 55px,#ff7a00 67px,#ff5e00 80px,#ff4800 88px,#ff2e00 95px,#ff1800 112px,#ff1400 126px,#f20 138px,#ff2c00 143px,#ff3900 146px,#f50 151px,#ff7000 155px,#ff9f00 160px,#faee08 167px,#dcf511 171px,#b5f51e 175px,#9bf530 180px,#91f546 186px,#60f5d4 197px,#53f1f7 200px,#4fecff 201px,#3684f5 209px,#337af5 210px,#2652f5 217px,#1f3df7 223px,#1a30f8 228px,#1829f6 236px,#1728f6 243px,#1a30f8 253px,#2040f7 259px,#2858f5 265px,#337bf5 271px,#3a91f5 273px,#4fedff 280px,#60f5d3 284px,#7df583 290px,#91f545 295px,#98f533 300px,#b6f51e 306px,#ddf511 310px,#f4f10a 313px,#faed08 314px,#febf01 318px,#ff8a00 323px,#ff6800 327px,#ff4800 332px,#ff2f00 337px,#ff1b00 347px,#ff1400 358px,#ff1a00 371px,#ff2e00 386px,#ff4800 393px,#ff5f00 401px,#ff7800 413px,#ff8900 424px,#ff9e00 446px,#ffab00 475px)"></i>
<i style="background:linear-gradient(90deg,#ffac00 0,#ffa000 32px,#ff8b00 56px,#ff7b00 67px,#ff5f00 80px,#ff4900 88px,#ff2d00 96px,#ff1900 112px,#ff1600 125px,#f20 137px,#ff2c00 142px,#ff3800 145px,#ff5400 150px,#ff6f00 154px,#ff9d00 159px,#faeb07 166px,#f6f109 167px,#d6f513 171px,#b7f51e 174px,#9cf52f 179px,#98f533 180px,#91f545 185px,#7df582 190px,#60f5d3 196px,#53f1f7 199px,#4fecff 200px,#3581f5 208px,#2f6cf5 211px,#2550f5 216px,#1a2ff8 226px,#1726f6 235px,#1625f6 243px,#1a31f8 256px,#2756f5 266px,#3379f5 272px,#3683f5 273px,#4feeff 281px,#61f5d2 285px,#8ff54d 295px,#92f544 296px,#98f532 301px,#b2f521 306px,#f6f109 314px,#fbea07 315px,#febc01 319px,#ff9200 323px,#f60 328px,#ff4800 333px,#ff2f00 338px,#ff1c00 348px,#ff1500 358px,#ff1a00 370px,#ff2d00 385px,#ff4a00 393px,#ff5f00 401px,#ff7900 413px,#ff8a00 424px,#ff9e00 446px,#ffab00 475px)"></i>
<i style="background:linear-gradient(90deg,#ffac00 0,#ffa000 32px,#ff8b00 56px,#ff7900 68px,#ff6000 80px,#ff4a00 88px,#ff2e00 96px,#ff1a00 112px,#ff1700 125px,#ff2600 138px,#ff2f00 142px,#ff3d00 145px,#ff5f00 151px,#ff7500 154px,#ffa500 159px,#fbe807 165px,#f8f009 166px,#d9f512 170px,#b3f520 174px,#99f532 179px,#92f544 184px,#8ff54c 185px,#61f5d1 195px,#4fedff 199px,#3580f5 207px,#254ef5 215px,#1a2ff8 224px,#1623f5 234px,#1522f5 243px,#1727f6 251px,#1a31f8 258px,#2754f5 267px,#3581f5 274px,#50efff 282px,#62f5d0 286px,#90f54a 296px,#92f544 297px,#99f531 302px,#b4f520 307px,#daf512 311px,#f9f008 315px,#ffb900 320px,#ff8f00 324px,#ff6c00 328px,#ff4c00 333px,#ff2e00 339px,#ff1d00 349px,#ff1600 359px,#ff1c00 371px,#ff2e00 385px,#ff4800 392px,#ff5e00 400px,#ff7800 412px,#ff8900 423px,#ff9e00 445px,#ffab00 475px)"></i>
<i style="background:linear-gradient(90deg,#ffac00 0,#ffa000 33px,#ff8a00 57px,#ff7a00 68px,#ff5f00 81px,#ff4c00 88px,#ff2d00 97px,#ff1d00 110px,#ff1800 121px,#ff1d00 131px,#ff2f00 141px,#ff4c00 147px,#ff6a00 152px,#ff8d00 156px,#ffb600 160px,#faf008 165px,#dbf512 169px,#b5f51f 173px,#9af531 178px,#90f548 184px,#62f5cf 194px,#50efff 198px,#3580f5 206px,#2652f5 213px,#1a2ff8 222px,#1623f5 230px,#141ef4 238px,#1520f4 247px,#182bf7 257px,#1a31f8 260px,#244ef5 267px,#2e6bf5 272px,#3581f5 275px,#47c9fb 280px,#50f0ff 283px,#5ef5da 286px,#91f547 297px,#9bf530 303px,#b5f51f 308px,#d3f514 311px,#faef08 316px,#ffa000 323px,#ff7200 328px,#ff5700 332px,#ff3c00 337px,#ff2e00 340px,#ff2600 344px,#ff1900 356px,#ff1b00 369px,#ff2d00 384px,#ff4c00 393px,#ff5f00 400px,#ff7a00 413px,#ff8b00 424px,#ff9f00 446px,#ffab00 475px)"></i>
<i style="background:linear-gradient(90deg,#ffac00 0,#ffa000 32px,#ff8c00 56px,#ff7b00 68px,#ff5f00 81px,#ff4a00 89px,#ff2d00 97px,#ff1c00 112px,#ff1a00 124px,#ff2800 137px,#ff2e00 140px,#ff4000 144px,#ff6200 150px,#ff7900 153px,#ffa800 158px,#faeb07 164px,#f5f109 165px,#d5f514 169px,#b7f51e 172px,#9cf52f 177px,#98f533 178px,#91f545 183px,#7cf586 188px,#5ef5d9 194px,#51f0fe 197px,#47cafb 200px,#3580f5 205px,#2857f5 211px,#2143f6 215px,#1a2ff8 220px,#1625f6 226px,#141ef4 233px,#131cf2 243px,#1520f5 251px,#1a30f8 261px,#2651f5 269px,#3582f5 276px,#4ee6fe 283px,#51f0fc 284px,#5ff5d8 287px,#7df584 293px,#91f545 298px,#98f533 303px,#b2f521 308px,#b8f51d 309px,#dff410 313px,#f6f109 316px,#faea07 317px,#febd01 321px,#ff8a00 326px,#ff6800 330px,#ff4a00 335px,#ff3200 340px,#ff2000 349px,#ff1900 359px,#ff1d00 370px,#ff2d00 384px,#ff4a00 392px,#ff5d00 399px,#ff7900 412px,#ff8a00 423px,#ff9e00 445px,#ffab00 475px)"></i>
<i style="background:linear-gradient(90deg,#ffac00 0,#ffa100 32px,#ff8c00 56px,#ff7b00 68px,#ff6000 81px,#ff4b00 89px,#ff2e00 97px,#ff1d00 112px,#ff1b00 124px,#ff2100 131px,#ff2c00 138px,#f40 144px,#ff6700 150px,#ff7f00 153px,#ffaf00 158px,#fbe707 163px,#f8f009 164px,#d9f512 168px,#b3f520 172px,#99f532 177px,#92f544 182px,#8bf55a 184px,#60f5d5 193px,#52f1fb 196px,#4ee7fe 197px,#3682f5 204px,#3278f5 205px,#2551f5 211px,#1d39f7 216px,#192ef8 219px,#141ef4 229px,#131af0 244px,#141ff4 252px,#1a2ff8 262px,#2651f5 270px,#3379f5 276px,#3683f5 277px,#45c0fa 281px,#4ee9fe 284px,#52f1f9 285px,#60f5d4 288px,#8ff54b 298px,#92f544 299px,#99f531 304px,#b4f51f 309px,#daf512 313px,#f9f008 317px,#ffb900 322px,#ff9000 326px,#ff6d00 330px,#ff4e00 335px,#ff3200 341px,#ff2100 350px,#ff1a00 360px,#ff1f00 371px,#ff2e00 384px,#ff4800 391px,#ff5e00 399px,#ff7a00 412px,#ff8a00 423px,#ff9e00 445px,#ffab00 475px)"></i>
<i style="background:linear-gradient(90deg,#ffac00 0,#ffa000 33px,#ff8c00 57px,#ff7a00 69px,#ff5f00 82px,#ff4900 90px,#ff2d00 98px,#ff1e00 112px,#ff1c00 123px,#ff2100 130px,#ff2c00 137px,#ff4300 143px,#ff6400 149px,#ff7c00 152px,#ffab00 157px,#faee08 163px,#d4f514 168px,#b6f51e 171px,#9bf530 176px,#91f547 182px,#61f5d1 192px,#53f1f7 195px,#4febfe 196px,#46c2fa 199px,#3684f5 203px,#3379f5 204px,#2651f5 210px,#1a30f8 217px,#141df3 228px,#1219ee 236px,#1218ed 244px,#141ef4 254px,#192ef8 263px,#2651f5 271px,#337af5 277px,#3786f5 278px,#46c3fa 282px,#4fecff 285px,#53f1f6 286px,#62f5cf 289px,#91f546 299px,#98f533 304px,#b6f51e 310px,#def411 314px,#f5f10a 317px,#faed08 318px,#febf01 322px,#ff8c00 327px,#ff6a00 331px,#ff3900 340px,#ff2e00 343px,#ff2500 348px,#ff1c00 360px,#ff2000 371px,#ff2d00 383px,#ff4900 391px,#ff5f00 399px,#ff7800 411px,#ff8900 422px,#ff9e00 445px,#ffab00 475px)"></i>
<i style="background:linear-gradient(90deg,#ffac00 0,#ffa000 33px,#ff8b00 58px,#ff7b00 69px,#ff6000 82px,#ff4a00 90px,#ff2e00 98px,#ff2000 110px,#ff1d00 120px,#ff2500 132px,#ff2d00 137px,#ff3900 140px,#ff6800 149px,#ff9300 154px,#ffbb01 158px,#fbe907 162px,#f7f009 163px,#d8f513 167px,#b3f520 171px,#98f532 176px,#91f545 181px,#8ef54f 182px,#7cf584 186px,#5ef5da 192px,#50f0ff 195px,#337bf5 203px,#244cf6 210px,#1a30f8 216px,#1727f6 220px,#141df3 226px,#1217eb 237px,#1217ec 245px,#131cf2 254px,#1a30f8 265px,#2652f5 272px,#347cf5 278px,#47c7fa 283px,#50f0fe 286px,#5ef5d8 289px,#7df583 295px,#8ff54e 299px,#92f544 300px,#98f532 305px,#b3f520 310px,#d9f512 314px,#f8f009 318px,#fbe707 319px,#ffb000 324px,#ff8000 329px,#ff6800 332px,#ff4600 338px,#ff2d00 344px,#f20 351px,#ff1d00 358px,#ff1f00 369px,#ff2e00 383px,#ff4800 390px,#ff5e00 398px,#ff7900 411px,#ff8b00 423px,#ff9f00 445px,#ffab00 475px)"></i>
<i style="background:linear-gradient(90deg,#ffad00 0,#ffa100 33px,#ff8c00 57px,#ff7b00 69px,#ff6100 82px,#ff4c00 90px,#ff2d00 99px,#ff2000 112px,#ff1f00 123px,#ff2d00 136px,#ff4500 142px,#f60 148px,#ff7d00 151px,#ffac00 156px,#faef08 162px,#d3f514 167px,#b5f51f 170px,#9af530 175px,#90f549 181px,#7af58c 186px,#60f5d4 191px,#52f1fb 194px,#4ee7fe 195px,#347df5 202px,#2652f5 208px,#1b34f8 214px,#141ef4 224px,#1116eb 234px,#1115e9 243px,#141ff4 258px,#1a30f8 266px,#1f3ef7 269px,#2653f5 273px,#357ff5 279px,#4ee8fe 286px,#52f1f9 287px,#61f5d3 290px,#91f547 300px,#97f534 305px,#b6f51e 311px,#ddf511 315px,#f4f10a 318px,#faee08 319px,#ffb600 324px,#ff8e00 328px,#ff6c00 332px,#ff4f00 337px,#ff3700 342px,#ff2d00 345px,#ff2600 349px,#ff1e00 361px,#ff2100 371px,#ff2d00 382px,#ff4900 390px,#ff5f00 398px,#ff7a00 411px,#ff8a00 422px,#ff9f00 445px,#ffab00 475px)"></i>
<i style="background:linear-gradient(90deg,#ffad00 0,#ffa100 33px,#ff8d00 57px,#ff7a00 70px,#ff5f00 83px,#ff4a00 91px,#ff2e00 99px,#ff2100 112px,#ff2000 123px,#ff2d00 135px,#ff4800 142px,#ff6a00 148px,#ff8200 151px,#ffb200 156px,#fbe907 161px,#f7f009 162px,#d8f513 166px,#baf51d 169px,#98f532 175px,#91f545 180px,#7cf586 185px,#5df4dc 191px,#4fedff 194px,#46c2fa 197px,#3682f5 201px,#3278f5 202px,#2754f5 207px,#1a30f8 214px,#141ff4 222px,#131aef 226px,#1114e8 235px,#1013e7 244px,#141ff4 259px,#1a30f8 267px,#1f3ff7 270px,#2754f5 274px,#3379f5 279px,#3684f5 280px,#46c4fa 284px,#50eeff 287px,#5ef5da 290px,#7df584 296px,#8ef54e 300px,#92f545 301px,#98f532 306px,#b3f520 311px,#d9f512 315px,#f8f009 319px,#ffbb01 324px,#ff9300 328px,#ff6900 333px,#ff3a00 342px,#ff2f00 345px,#ff2800 349px,#ff1f00 361px,#f20 371px,#ff2e00 382px,#ff4a00 390px,#ff6000 398px,#ff7a00 411px,#ff8b00 422px,#ff9f00 445px,#ffab00 475px)"></i>
<i style="background:linear-gradient(90deg,#ffad00 0,#ffa100 33px,#ff8c00 58px,#ff7b00 70px,#ff6000 83px,#ff4b00 91px,#ff2d00 100px,#f20 112px,#ff2000 122px,#ff2600 129px,#ff2f00 135px,#ff4b00 142px,#ff6700 147px,#ff8600 151px,#ffb700 156px,#faee08 161px,#d3f514 166px,#b6f51e 169px,#9bf530 174px,#90f548 180px,#7af58c 185px,#60f5d5 190px,#51f0fc 193px,#4ee5fe 194px,#337bf5 201px,#254ff5 207px,#1a30f8 213px,#141ef4 221px,#1218ee 226px,#1012e4 239px,#1012e6 245px,#141ef4 260px,#192ef8 267px,#1e3bf7 270px,#2550f5 274px,#347cf5 280px,#4ee6fe 287px,#52f1fb 288px,#60f5d4 291px,#7af58b 296px,#91f547 301px,#97f533 306px,#b6f51e 312px,#ddf411 316px,#f4f10a 319px,#faed08 320px,#ffb600 325px,#ff8e00 329px,#ff6d00 333px,#ff5000 338px,#ff3900 343px,#ff2e00 346px,#ff2800 350px,#ff2000 362px,#ff2300 371px,#ff2d00 381px,#ff4c00 390px,#ff5e00 397px,#ff7900 410px,#ff8a00 421px,#ff9f00 444px,#ffab00 475px)"></i>
<i style="background:linear-gradient(90deg,#ffad00 0,#ffa100 33px,#ff8d00 58px,#ff7a00 71px,#ff5f00 84px,#ff4a00 92px,#ff2e00 100px,#ff2300 112px,#f20 122px,#ff2e00 134px,#ff4e00 142px,#ff6a00 147px,#ff8a00 151px,#ffbb01 156px,#fbe807 160px,#f8f009 161px,#d9f512 165px,#b3f520 169px,#98f532 174px,#92f545 179px,#8ef54e 180px,#7cf585 184px,#5df4dc 190px,#54f1f5 192px,#4fecff 193px,#46c1fa 196px,#3580f5 200px,#2652f5 206px,#1b32f8 212px,#141ef4 220px,#1116eb 227px,#0f11df 239px,#1012e4 247px,#141ef4 261px,#192ef8 268px,#2042f6 272px,#2652f5 275px,#3581f5 281px,#46c3fa 285px,#4feeff 288px,#5ef5da 291px,#81f576 298px,#8ff54d 301px,#92f544 302px,#99f531 307px,#b4f51f 312px,#daf512 316px,#f9f008 320px,#ffba01 325px,#ff9300 329px,#ff6900 334px,#ff4000 342px,#ff2c00 348px,#ff2400 355px,#ff2100 362px,#ff2400 371px,#ff2e00 381px,#ff4a00 389px,#ff5f00 397px,#ff7a00 410px,#ff8a00 421px,#ff9f00 444px,#ffab00 475px)"></i>
<i style="background:linear-gradient(90deg,#ffad00 0,#ffa100 33px,#ff8d00 58px,#ff7b00 71px,#ff6000 84px,#ff4b00 92px,#ff2d00 101px,#ff2300 112px,#ff2300 122px,#ff2e00 133px,#ff4c00 141px,#ff6700 146px,#ff8600 150px,#ffb500 155px,#faed08 160px,#f5f10a 161px,#d5f514 165px,#b7f51e 168px,#9cf52f 173px,#91f546 179px,#7bf58a 184px,#60f5d4 189px,#51f0fb 192px,#4ee6fe 193px,#337af5 200px,#2754f5 205px,#1a2ff8 212px,#141ef4 219px,#1115e9 227px,#0f10db 238px,#0f11de 246px,#141df3 261px,#1b34f8 270px,#2755f5 276px,#337bf5 281px,#4ee7fe 288px,#52f1fa 289px,#61f5d2 292px,#7bf589 297px,#91f546 302px,#98f533 307px,#b2f521 312px,#b8f51d 313px,#dff411 317px,#f6f109 320px,#faeb07 321px,#febf01 325px,#ff8d00 330px,#ff6d00 334px,#ff4300 342px,#ff2d00 348px,#ff2500 355px,#f20 362px,#ff2400 370px,#ff2d00 380px,#ff4b00 389px,#ff6000 397px,#ff7b00 410px,#ff8b00 421px,#ff9f00 444px,#ffab00 475px)"></i>
<i style="background:linear-gradient(90deg,#ffad00 0,#ffa100 33px,#ff8d00 58px,#ff7b00 71px,#ff6100 84px,#ff4a00 93px,#ff2e00 101px,#ff2400 112px,#ff2400 122px,#ff2f00 133px,#ff4f00 141px,#ff6a00 146px,#ff8900 150px,#ffb900 155px,#f9f008 160px,#d2f515 165px,#b5f51f 168px,#9af531 173px,#92f544 178px,#8ff54b 179px,#79f590 184px,#5ef5d9 189px,#50eeff 192px,#46c3fa 195px,#3580f5 199px,#2651f5 205px,#1a30f8 211px,#141ff4 218px,#1013e7 228px,#0f10d7 238px,#0f10d6 242px,#0f10db 247px,#1012e6 252px,#141df3 262px,#192ef7 269px,#1c36f7 271px,#2652f5 276px,#3682f5 282px,#46c4fa 286px,#50f0ff 289px,#5ff5d8 292px,#79f58e 297px,#90f54a 302px,#9af530 308px,#b5f51f 313px,#dcf511 317px,#faf008 321px,#ffb800 326px,#ff9100 330px,#ff6900 335px,#ff4100 343px,#ff2d00 349px,#ff2300 362px,#ff2500 370px,#ff2e00 380px,#ff4a00 388px,#ff5f00 396px,#ff7a00 409px,#ff8a00 420px,#ff9f00 444px,#ffab00 475px)"></i>
<i style="background:linear-gradient(90deg,#ffad00 0,#ffa100 34px,#ff8d00 59px,#ff7a00 72px,#ff6000 85px,#ff4b00 93px,#ff2d00 102px,#ff2400 113px,#ff2400 122px,#ff2f00 132px,#ff5100 141px,#ff6d00 146px,#ff8d00 150px,#ffb300 154px,#fbe907 159px,#f7f009 160px,#d8f513 164px,#b3f520 168px,#98f532 173px,#91f545 178px,#7cf587 183px,#61f5d0 188px,#52f1f8 191px,#4ee9fe 192px,#337bf5 199px,#2755f5 204px,#1b32f8 210px,#141ef3 218px,#1114e8 226px,#0e0fd4 237px,#0e0fd2 241px,#0f10d6 246px,#1012e6 253px,#131cf2 262px,#1b33f8 271px,#2755f5 277px,#347cf5 282px,#4feafe 289px,#53f1f7 290px,#5df4dd 292px,#7cf585 298px,#8ef54e 302px,#92f545 303px,#98f532 308px,#b3f520 313px,#d9f512 317px,#f8f009 321px,#febc01 326px,#ff8c00 331px,#ff6c00 335px,#ff4300 343px,#ff2e00 349px,#ff2400 362px,#ff2500 370px,#ff2d00 379px,#ff4b00 388px,#ff6000 396px,#ff7a00 409px,#ff8a00 420px,#ff9f00 444px,#ffac00 475px)"></i>
<i style="background:linear-gradient(90deg,#ffad00 0,#ffa100 34px,#ff8d00 59px,#ff7b00 72px,#ff6100 85px,#ff4900 94px,#ff2e00 102px,#ff2600 112px,#ff2500 121px,#ff2e00 131px,#ff3e00 136px,#ff5300 141px,#ff6900 145px,#ff9000 150px,#ffb600 154px,#faed08 159px,#d5f514 164px,#b7f51e 167px,#9cf52f 172px,#91f546 178px,#7af58b 183px,#60f5d5 188px,#51f0fd 191px,#47c6fa 194px,#3684f5 198px,#3378f5 199px,#2652f5 204px,#1a30f8 210px,#141ef4 217px,#1013e7 226px,#0e0fd1 236px,#0e0fcf 241px,#0e0fd3 246px,#1012e6 254px,#1219ee 260px,#141ef4 264px,#1a31f8 271px,#2652f5 277px,#3379f5 282px,#3785f5 283px,#47c8fb 287px,#4ee5fe 289px,#51f0fc 290px,#60f5d4 293px,#7bf589 298px,#91f546 303px,#98f533 308px,#b2f521 313px,#b8f51d 314px,#dff411 318px,#f5f109 321px,#faec07 322px,#fec001 326px,#ff8f00 331px,#ff6f00 335px,#ff4900 342px,#ff2e00 350px,#ff2400 362px,#ff2600 370px,#ff2e00 379px,#ff4a00 387px,#ff5f00 395px,#ff7900 408px,#ff8b00 420px,#ffa000 444px,#ffac00 475px)"></i>
<i style="background:linear-gradient(90deg,#ffad00 0,#ffa100 35px,#ff8c00 60px,#ff7a00 73px,#ff6000 86px,#ff4b00 94px,#ff2d00 103px,#ff2600 112px,#ff2600 121px,#ff2f00 131px,#ff4000 136px,#f50 141px,#ff6b00 145px,#ff8a00 149px,#ffba00 154px,#faf008 159px,#d2f515 164px,#b5f51f 167px,#9af530 172px,#90f54a 178px,#79f58f 183px,#5ef5d9 188px,#50eeff 191px,#46c2fa 194px,#357ff5 198px,#2550f5 204px,#1a2ff8 210px,#141df3 217px,#1012e6 226px,#0f10d5 232px,#0e0ecd 237px,#0e0ecc 242px,#0e0fd1 247px,#1012e6 255px,#131cf2 263px,#1b34f8 272px,#2550f5 277px,#3580f5 283px,#46c3fa 287px,#50f0ff 290px,#5ff5d8 293px,#7af58d 298px,#90f549 303px,#97f534 308px,#b6f51e 314px,#dcf511 318px,#faef08 322px,#ffb900 327px,#ff9200 331px,#ff6a00 336px,#ff4700 343px,#ff2d00 351px,#ff2500 363px,#ff2d00 378px,#ff4b00 387px,#ff6000 395px,#ff7a00 408px,#ff8a00 419px,#ff9f00 443px,#ffac00 475px)"></i>
<i style="background:linear-gradient(90deg,#ffad00 0,#ffa100 35px,#ff8d00 60px,#ff7b00 73px,#ff6100 86px,#ff4900 95px,#ff2e00 103px,#ff2700 112px,#ff2700 121px,#ff2f00 130px,#ff4100 136px,#ff5700 141px,#ff6d00 145px,#ff8d00 149px,#ffb200 153px,#fbe807 158px,#f8f009 159px,#daf512 163px,#b4f51f 167px,#99f531 172px,#92f544 177px,#8ff54d 178px,#81f576 181px,#62f5ce 187px,#53f1f7 190px,#4feafe 191px,#347cf5 198px,#2754f5 203px,#1a31f8 209px,#141ef4 216px,#1012e6 225px,#0e0fd4 231px,#0e0ecc 236px,#0e0ec9 241px,#0e0ecd 246px,#0f10d7 251px,#1012e6 256px,#1218ed 261px,#141ef4 265px,#1b32f8 272px,#2755f5 278px,#347cf5 283px,#45bffa 287px,#4fecff 290px,#54f1f6 291px,#5df4db 293px,#86f567 301px,#8ff54c 303px,#92f544 304px,#9af531 309px,#b4f51f 314px,#daf512 318px,#f9f008 322px,#ffbb01 327px,#ff8c00 332px,#ff6d00 336px,#ff4900 343px,#ff2e00 351px,#ff2600 363px,#ff2e00 378px,#ff4a00 386px,#ff5f00 394px,#ff7900 407px,#ff8b00 419px,#ff9f00 443px,#ffac00 475px)"></i>
<i style="background:linear-gradient(90deg,#ffad00 0,#ffa100 35px,#ff8d00 60px,#ff7c00 73px,#ff6200 86px,#ff4e00 94px,#ff2d00 104px,#ff2700 113px,#ff2700 121px,#ff3000 130px,#ff4300 136px,#ff5900 141px,#ff6900 144px,#ff8f00 149px,#ffb500 153px,#faeb07 158px,#f6f109 159px,#d7f513 163px,#baf51d 166px,#98f532 172px,#91f545 177px,#7cf587 182px,#61f5d1 187px,#52f1fa 190px,#4ee7fe 191px,#47c9fb 193px,#3786f5 197px,#337af5 198px,#2652f5 203px,#1a30f8 209px,#141ef4 216px,#1012e5 225px,#0e0fd2 231px,#0e0eca 236px,#0d0ec7 241px,#0e0ecb 246px,#0f10d5 251px,#1012e5 256px,#1217eb 260px,#141ef4 265px,#1a30f8 272px,#2653f5 278px,#337af5 283px,#4ee9fe 290px,#52f1f8 291px,#5cf4de 293px,#7cf586 299px,#8ef54f 303px,#91f545 304px,#98f532 309px,#b3f520 314px,#d8f513 318px,#f7f009 322px,#fbea07 323px,#febe01 327px,#ff8e00 332px,#ff6f00 336px,#ff4b00 343px,#ff2e00 352px,#ff2700 363px,#ff2d00 377px,#ff4b00 386px,#ff6000 394px,#ff7a00 407px,#ff8a00 418px,#ff9f00 442px,#ffac00 475px)"></i>
<i style="background:linear-gradient(90deg,#ffad00 0,#ffa100 35px,#ff8d00 61px,#ff7b00 74px,#ff6100 87px,#ff4900 96px,#ff2e00 104px,#ff2800 113px,#ff2800 121px,#ff3100 130px,#f40 136px,#ff5a00 141px,#ff6b00 144px,#ff9100 149px,#ffb700 153px,#faed08 158px,#d6f513 163px,#b8f51d 166px,#9cf52f 171px,#98f533 172px,#91f546 177px,#7bf589 182px,#60f5d4 187px,#51f0fc 190px,#47c7fa 193px,#3683f5 197px,#3278f5 198px,#2651f5 203px,#1a2ff8 209px,#141df3 216px,#1012e6 224px,#0e0fd3 230px,#0e0ec9 235px,#0d0dc5 240px,#0e0ec9 246px,#0e0fd3 251px,#1012e6 257px,#1116eb 260px,#141ff4 266px,#1a2ff8 272px,#2651f5 278px,#3379f5 283px,#3785f5 284px,#47c8fb 288px,#4ee6fe 290px,#52f1fb 291px,#61f5d2 294px,#7bf588 299px,#91f545 304px,#98f532 309px,#b2f521 314px,#dff410 319px,#f5f109 322px,#faec07 323px,#ffb600 328px,#ff9000 332px,#ff6a00 337px,#ff4800 344px,#ff2f00 352px,#ff2700 363px,#ff2e00 377px,#ff4a00 385px,#ff5f00 393px,#ff7900 406px,#ff8b00 418px,#ff9f00 442px,#ffac00 475px)"></i>
<i style="background:linear-gradient(90deg,#ffad00 0,#ffa100 36px,#ff8c00 62px,#ff7b00 74px,#ff6000 88px,#ff4b00 96px,#ff2d00 105px,#ff2800 118px,#ff2e00 128px,#ff4a00 137px,#ff6c00 144px,#ff9300 149px,#ffb900 153px,#faef08 158px,#ddf511 162px,#b6f51e 166px,#98f533 172px,#91f547 177px,#7af58b 182px,#5ff5d6 187px,#50f0fe 190px,#46c5fa 193px,#3581f5 197px,#2550f5 203px,#1b33f8 208px,#141ff4 215px,#1218ed 219px,#1012e6 224px,#0f10d5 229px,#0e0ec9 234px,#0d0dc4 240px,#0d0ec7 245px,#0e0fd0 250px,#1012e6 257px,#1114e9 259px,#141ff4 266px,#1a2ff8 272px,#2551f5 278px,#3278f5 283px,#3683f5 284px,#47c6fa 288px,#51f0fd 291px,#60f5d5 294px,#7bf58a 299px,#91f546 304px,#98f533 309px,#9cf52f 310px,#b7f51e 315px,#d5f514 318px,#faee08 323px,#ffb800 328px,#ff9200 332px,#ff6c00 337px,#ff5b00 340px,#ff4500 345px,#ff3200 351px,#ff2900 360px,#ff2800 368px,#ff2e00 376px,#ff4b00 385px,#ff6000 393px,#ff7c00 407px,#ff8c00 419px,#ffa000 443px,#ffac00 475px)"></i>
<i style="background:linear-gradient(90deg,#ffad00 0,#ffa100 36px,#ff8d00 62px,#ff7a00 75px,#ff6100 88px,#ff4a00 97px,#ff2e00 105px,#ff2800 118px,#ff2f00 128px,#ff4b00 137px,#ff6e00 144px,#ff8c00 148px,#ffbb01 153px,#faf008 158px,#dcf511 162px,#b5f51e 166px,#97f534 172px,#90f548 177px,#7af58d 182px,#5ff5d8 187px,#50f0ff 190px,#46c3fa 193px,#357ff5 197px,#2756f5 202px,#1b32f8 208px,#141ef4 215px,#1218ed 219px,#1012e5 224px,#0e0fd4 229px,#0d0ec9 234px,#0d0dc3 240px,#0d0dc6 245px,#0e0fcf 250px,#1012e5 257px,#1114e9 259px,#141ff4 266px,#1a2ff8 272px,#2550f5 278px,#3581f5 284px,#46c5fa 288px,#50f0fe 291px,#5ff5d6 294px,#7af58b 299px,#91f547 304px,#9bf530 310px,#b6f51e 315px,#d4f514 318px,#faf008 323px,#ffba01 328px,#ff8b00 333px,#ff6d00 337px,#ff5800 341px,#ff4300 346px,#ff3400 351px,#ff2d00 354px,#ff2900 360px,#ff2900 368px,#ff2e00 376px,#ff4a00 384px,#ff5f00 392px,#ff7b00 406px,#ff8c00 418px,#ffa000 442px,#ffac00 475px)"></i>
<i style="background:linear-gradient(90deg,#ffad00 0,#ffa200 36px,#ff8d00 62px,#ff7b00 75px,#ff6000 89px,#ff4b00 97px,#ff2e00 106px,#ff2a00 121px,#ff2e00 127px,#ff3500 130px,#f40 135px,#ff5900 140px,#ff6900 143px,#ff8e00 148px,#ffb200 152px,#f9f008 158px,#dbf512 162px,#c8f518 164px,#b5f51f 166px,#9af530 171px,#90f549 177px,#79f58e 182px,#5ef5d8 187px,#50efff 190px,#46c2fa 193px,#347ef5 197px,#2756f5 202px,#1b32f8 208px,#141ef4 215px,#1012e5 224px,#0e0fd1 230px,#0d0dc5 236px,#0d0dc3 242px,#0d0ec8 247px,#0e0fd4 252px,#1012e5 257px,#1218ed 262px,#141ef4 266px,#1b32f8 273px,#2756f5 279px,#3580f5 284px,#46c4fa 288px,#50f0ff 291px,#5ff5d7 294px,#7af58d 299px,#90f548 304px,#97f534 309px,#b5f51e 315px,#dcf511 319px,#f9f008 323px,#ffbb01 328px,#ff9500 332px,#ff7600 336px,#ff6800 338px,#ff5000 343px,#ff3d00 348px,#ff2e00 354px,#ff2900 363px,#ff2e00 375px,#ff4c00 384px,#ff6000 392px,#ff7a00 405px,#ff8b00 417px,#ffa000 442px,#ffac00 475px)"></i>
<i style="background:linear-gradient(90deg,#ffad00 0,#ffa200 36px,#ff8e00 62px,#ff7c00 75px,#ff6100 89px,#ff4a00 98px,#ff2f00 106px,#ff2a00 121px,#ff2e00 126px,#ff3800 131px,#ff4d00 137px,#ff6400 142px,#f70 145px,#ff9700 149px,#ffb300 152px,#fbe807 157px,#f8f009 158px,#dbf512 162px,#c7f518 164px,#b5f51f 166px,#9af531 171px,#90f54a 177px,#79f58f 182px,#5ef5d9 187px,#50eeff 190px,#46c2fa 193px,#347ef5 197px,#2756f5 202px,#1b32f8 208px,#141ef4 215px,#1012e5 224px,#0e0fd1 230px,#0d0dc6 236px,#0d0dc3 241px,#0d0ec8 247px,#0e0fd4 252px,#1012e5 257px,#1218ed 262px,#141ef4 266px,#1b32f8 273px,#2756f5 279px,#357ff5 284px,#46c3fa 288px,#50f0ff 291px,#5ff5d8 294px,#7af58d 299px,#90f549 304px,#9bf530 310px,#b5f51f 315px,#dbf512 319px,#f9f008 323px,#febc01 328px,#ff9600 332px,#f70 336px,#ff6900 338px,#ff5100 343px,#ff3e00 348px,#ff2f00 354px,#ff2a00 363px,#ff2f00 375px,#ff4a00 383px,#ff5f00 391px,#ff7900 404px,#ff8a00 416px,#ffa000 441px,#ffac00 475px)"></i>
<i style="background:linear-gradient(90deg,#ffae00 0,#ffa100 37px,#ff8d00 63px,#ff7b00 76px,#ff6000 90px,#ff4c00 98px,#ff2e00 107px,#ff2b00 121px,#ff2e00 126px,#ff3900 131px,#ff4e00 137px,#ff6500 142px,#ff7800 145px,#ff9800 149px,#ffb400 152px,#fbe807 157px,#f8f009 158px,#daf512 162px,#c7f518 164px,#b4f51f 166px,#9af531 171px,#92f543 176px,#90f54a 177px,#79f58f 182px,#5ef5d9 187px,#50eeff 190px,#46c2fa 193px,#347ef5 197px,#2756f5 202px,#1b32f8 208px,#141ef4 215px,#1012e5 224px,#0e0fd1 230px,#0d0dc6 236px,#0d0dc4 241px,#0e0ec9 247px,#0e0fd4 252px,#1012e5 257px,#1218ed 262px,#141ef4 266px,#1b33f8 273px,#2550f5 278px,#3580f5 284px,#46c3fa 288px,#50f0ff 291px,#5ff5d8 294px,#7af58d 299px,#90f549 304px,#9bf530 310px,#b5f51f 315px,#dbf512 319px,#f8f008 323px,#febd01 328px,#ff9700 332px,#ff7800 336px,#ff6a00 338px,#ff5100 343px,#ff3f00 348px,#ff3000 354px,#ff2a00 363px,#ff2e00 374px,#ff4900 382px,#ff5e00 390px,#ff7a00 404px,#ff8b00 416px,#ffa000 441px,#ffac00 475px)"></i>
<i style="background:linear-gradient(90deg,#ffae00 0,#ffa200 37px,#ff8c00 64px,#ff7a00 77px,#ff6100 90px,#ff4a00 99px,#ff2f00 107px,#ff2a00 118px,#ff2e00 125px,#f30 128px,#ff4000 133px,#ff5200 138px,#ff6500 142px,#ff7900 145px,#ff9000 148px,#febe01 153px,#f7f009 158px,#daf512 162px,#b4f51f 166px,#9af531 171px,#90f54a 177px,#79f58e 182px,#5ef5d8 187px,#50efff 190px,#46c3fa 193px,#357ff5 197px,#254ff5 203px,#1b33f8 208px,#141ff4 215px,#1218ed 219px,#1012e6 224px,#0f10d5 229px,#0e0eca 234px,#0d0dc4 240px,#0d0ec7 245px,#0e0fd0 250px,#1012e6 257px,#1114e9 259px,#141ff4 266px,#1a2ff8 272px,#2550f5 278px,#3581f5 284px,#46c4fa 288px,#50f0ff 291px,#5ff5d7 294px,#7af58d 299px,#90f549 304px,#9bf530 310px,#b5f51f 315px,#c8f518 317px,#dbf512 319px,#f8f009 323px,#fbe807 324px,#ffb400 329px,#ff9800 332px,#ff7800 336px,#ff6500 339px,#ff4e00 344px,#ff3a00 350px,#ff2f00 355px,#ff2b00 360px,#ff2e00 373px,#ff4b00 382px,#ff6100 391px,#ff7b00 404px,#ff8c00 417px,#ffa100 442px,#ffac00 475px)"></i>
<i style="background:linear-gradient(90deg,#ffae00 0,#ffa200 37px,#ff8d00 64px,#ff7b00 77px,#ff6000 91px,#ff4900 100px,#ff2e00 108px,#ff2b00 118px,#ff2e00 125px,#f30 128px,#ff4000 133px,#ff5300 138px,#f60 142px,#ff7900 145px,#ff9000 148px,#febf01 153px,#f7f009 158px,#daf512 162px,#b4f51f 166px,#9af531 171px,#90f549 177px,#7af58d 182px,#5ff5d7 187px,#50f0ff 190px,#46c4fa 193px,#3581f5 197px,#2550f5 203px,#1b33f8 208px,#141ff4 215px,#1219ee 219px,#1012e6 224px,#0f10d6 229px,#0e0ecb 234px,#0d0dc6 240px,#0d0ec8 245px,#0e0fd4 251px,#1012e7 257px,#141df3 265px,#1a2ff8 272px,#2651f5 278px,#3278f5 283px,#3682f5 284px,#47c6fa 288px,#51f0fe 291px,#5ff5d6 294px,#7af58c 299px,#90f548 304px,#9bf530 310px,#b5f51f 315px,#c8f518 317px,#dbf512 319px,#f8f009 323px,#fbe807 324px,#ffb400 329px,#ff9800 332px,#ff7900 336px,#ff6500 339px,#ff4e00 344px,#ff3a00 350px,#ff2e00 356px,#ff2c00 360px,#ff2e00 373px,#ff4900 381px,#ff6000 390px,#ff7b00 404px,#ff8c00 416px,#ffa000 441px,#ffac00 475px)"></i>
<i style="background:linear-gradient(90deg,#ffae00 0,#ffa200 37px,#ff8d00 64px,#ff7c00 77px,#ff6100 91px,#ff4b00 100px,#ff2e00 109px,#ff2c00 121px,#ff2f00 125px,#ff3b00 131px,#ff4f00 137px,#f60 142px,#f90 149px,#ffb500 152px,#fbe907 157px,#f8f009 158px,#daf512 162px,#c7f518 164px,#b5f51f 166px,#9bf530 171px,#90f548 177px,#7af58c 182px,#5ff5d6 187px,#51f0fd 190px,#47c6fa 193px,#3683f5 197px,#3278f5 198px,#2651f5 203px,#1a30f8 209px,#141ef3 216px,#1012e5 225px,#0e0fd3 231px,#0e0eca 236px,#0d0ec8 241px,#0e0ecb 246px,#0f10d5 251px,#1012e5 256px,#1217eb 260px,#141ef4 265px,#1a30f8 272px,#2652f5 278px,#3379f5 283px,#3685f5 284px,#47c7fa 288px,#4de5fe 290px,#51f0fc 291px,#60f5d4 294px,#7af58b 299px,#91f547 304px,#97f534 309px,#b5f51f 315px,#dbf512 319px,#f8f009 323px,#febe01 328px,#ff9000 333px,#ff7900 336px,#f60 339px,#ff5300 343px,#ff4100 348px,#ff3400 353px,#ff2e00 357px,#ff2b00 363px,#ff2e00 372px,#ff4b00 381px,#ff5f00 389px,#ff7b00 403px,#ff8b00 415px,#ffa100 441px,#ffad00 475px)"></i>
<i style="background:linear-gradient(90deg,#ffae00 0,#ffa200 37px,#ff8e00 64px,#ff7b00 78px,#ff6000 92px,#ff4a00 101px,#ff2f00 109px,#ff2c00 121px,#ff2f00 125px,#ff3900 130px,#ff4800 135px,#ff5c00 140px,#ff6c00 143px,#ff9000 148px,#ffb400 152px,#fbe807 157px,#f8f009 158px,#d2f515 163px,#b5f51f 166px,#9bf530 171px,#91f547 177px,#7bf58a 182px,#60f5d4 187px,#51f0fb 190px,#4ee6fe 191px,#47c8fb 193px,#3786f5 197px,#337af5 198px,#2653f5 203px,#1a31f8 209px,#141ef4 216px,#1012e6 225px,#0f10d5 231px,#0e0ecc 236px,#0e0eca 241px,#0e0fce 246px,#1012e7 256px,#1218ee 261px,#141ef4 265px,#1a31f8 272px,#2654f5 278px,#337af5 283px,#4ee7fe 290px,#52f1fa 291px,#61f5d2 294px,#7bf589 299px,#91f546 304px,#98f533 309px,#b6f51e 315px,#dcf511 319px,#f9f008 323px,#febd01 328px,#ff9000 333px,#ff7900 336px,#f60 339px,#ff5300 343px,#ff4100 348px,#ff3400 353px,#ff2e00 357px,#ff2c00 363px,#ff2f00 372px,#ff4a00 380px,#ff5e00 388px,#ff7a00 402px,#ff8b00 414px,#ffa000 440px,#ffad00 475px)"></i>
<i style="background:linear-gradient(90deg,#ffae00 0,#ffa200 38px,#ff8d00 65px,#ff7a00 79px,#ff5f00 93px,#ff4900 102px,#ff2e00 110px,#ff2d00 121px,#ff3100 126px,#ff3c00 131px,#ff4c00 136px,#ff6100 141px,#ff6c00 143px,#ff9000 148px,#ffb400 152px,#f9f008 158px,#d3f514 163px,#b6f51e 166px,#9cf530 171px,#91f546 177px,#7bf588 182px,#61f5d1 187px,#52f1f9 190px,#4ee9fe 191px,#347cf5 198px,#254ef5 204px,#192ef8 210px,#141df3 217px,#1012e6 226px,#0f10d8 231px,#0e0fcf 236px,#0e0ecd 241px,#0e0fd0 246px,#1012e6 255px,#131af0 262px,#1b33f8 272px,#2756f5 278px,#347cf5 283px,#45bef9 287px,#4feafe 290px,#53f1f7 291px,#62f5cf 294px,#7cf587 299px,#91f545 304px,#98f533 309px,#b6f51e 315px,#dcf511 319px,#f9f008 323px,#febd01 328px,#ff8f00 333px,#ff7900 336px,#f60 339px,#ff5300 343px,#ff4100 348px,#ff3500 353px,#ff2e00 357px,#ff2c00 363px,#ff2e00 371px,#ff4900 379px,#ff5f00 388px,#ff7b00 402px,#ff8b00 414px,#ffa000 440px,#ffad00 475px)"></i>
<i style="background:linear-gradient(90deg,#ffae00 0,#ffa200 38px,#ff8d00 66px,#ff7b00 79px,#ff6000 93px,#ff4a00 102px,#ff2e00 111px,#ff2c00 118px,#ff2e00 123px,#ff3500 128px,#ff4200 133px,#ff5400 138px,#f60 142px,#ff7900 145px,#ff9000 148px,#febd01 153px,#f9f008 158px,#ddf511 162px,#b7f51e 166px,#98f533 172px,#91f545 177px,#7cf585 182px,#5df4dc 188px,#53f1f6 190px,#4fecff 191px,#45c0fa 194px,#357ff5 198px,#2550f5 204px,#1a30f8 210px,#141ef4 217px,#1012e6 227px,#0f10d8 232px,#0e0fd1 237px,#0e0fd0 242px,#0f10d5 247px,#1012e6 254px,#141df3 263px,#1c35f8 272px,#2651f5 277px,#3580f5 283px,#46c2fa 287px,#4fedff 290px,#5ef5da 293px,#7df584 299px,#8ef54e 303px,#91f545 304px,#98f532 309px,#b2f521 314px,#b8f51d 315px,#ddf411 319px,#faf008 323px,#fec602 327px,#ffa000 331px,#ff8000 335px,#ff6b00 338px,#ff5700 342px,#ff4500 347px,#ff3700 352px,#ff2f00 357px,#ff2c00 362px,#ff2e00 370px,#ff4b00 379px,#ff5f00 387px,#ff7a00 401px,#ff8b00 413px,#ffa000 439px,#ffad00 475px)"></i>
<i style="background:linear-gradient(90deg,#ffae00 0,#ffa200 39px,#ff8c00 67px,#ff7b00 80px,#ff6000 94px,#ff4900 103px,#ff2f00 111px,#ff2c00 118px,#ff2e00 123px,#ff3500 128px,#ff4200 133px,#ff5300 138px,#f60 142px,#ff7800 145px,#ff9700 149px,#ffbc01 153px,#faf008 158px,#def411 162px,#b8f51d 166px,#b2f521 167px,#98f532 172px,#92f544 177px,#8ff54d 178px,#86f567 180px,#5ef5d8 188px,#50f0ff 191px,#46c5fa 194px,#3684f5 198px,#3379f5 199px,#2653f5 204px,#1b32f8 210px,#131cf2 219px,#1012e6 228px,#0f10d8 234px,#0e0fd4 243px,#0f10da 248px,#1013e7 254px,#141ef4 263px,#1b32f8 271px,#2653f5 277px,#3379f5 282px,#3785f5 283px,#47c6fa 287px,#50f0fe 290px,#5ff5d7 293px,#79f58f 298px,#8ff54c 303px,#92f544 304px,#99f532 309px,#b3f520 314px,#c3f51a 316px,#def411 319px,#faee08 323px,#ff9f00 331px,#ff6a00 338px,#ff5300 343px,#ff4100 348px,#f30 354px,#ff2d00 359px,#ff2f00 370px,#ff4a00 378px,#ff6000 387px,#ff7b00 401px,#ff8c00 414px,#ffa100 440px,#ffad00 475px)"></i>
<i style="background:linear-gradient(90deg,#ffae00 0,#ffa200 39px,#ff8d00 67px,#ff7b00 80px,#ff6100 94px,#ff4b00 103px,#ff2e00 112px,#ff2d00 121px,#ff3200 126px,#ff3c00 131px,#ff4c00 136px,#ff6000 141px,#ff7100 144px,#ff9600 149px,#ffba01 153px,#faee08 158px,#dff410 162px,#cdf516 164px,#b3f520 167px,#99f531 172px,#90f54a 178px,#7af58c 183px,#60f5d4 188px,#51f0fb 191px,#4ee6fe 192px,#347cf5 199px,#254ff5 205px,#1a30f8 211px,#141ff4 218px,#1114e8 227px,#0f10d8 238px,#0f10db 246px,#1012e6 252px,#141df3 262px,#1c35f8 271px,#2550f5 276px,#347cf5 282px,#4ee8fe 289px,#52f1fa 290px,#60f5d3 293px,#7af58b 298px,#90f548 303px,#9af531 309px,#b4f520 314px,#d8f513 318px,#f5f10a 322px,#faed08 323px,#fec302 327px,#ff9e00 331px,#ff7e00 335px,#ff6a00 338px,#ff5700 342px,#f40 347px,#ff3700 352px,#ff2f00 357px,#ff2d00 362px,#ff2e00 369px,#ff4900 377px,#ff5f00 386px,#ff7a00 400px,#ff8b00 412px,#ffa100 439px,#ffad00 475px)"></i>
<i style="background:linear-gradient(90deg,#ffae00 0,#ffa200 39px,#ff8d00 67px,#ff7b00 81px,#ff6000 95px,#ff4a00 104px,#ff2e00 113px,#ff2e00 122px,#ff3400 127px,#ff3f00 132px,#ff6000 141px,#ff7000 144px,#ff9500 149px,#ffb900 153px,#faec07 158px,#f6f109 159px,#d0f515 164px,#b4f51f 167px,#9bf530 172px,#91f546 178px,#7bf588 183px,#62f5d0 188px,#53f1f7 191px,#4febfe 192px,#45c1fa 195px,#3580f5 199px,#2652f5 205px,#1b32f8 211px,#141ef4 219px,#1115ea 227px,#0f11dc 239px,#1011e1 247px,#141ff4 262px,#1a2ff8 269px,#1f3df7 272px,#2653f5 276px,#3682f5 282px,#46c2fa 286px,#4fedff 289px,#54f1f5 290px,#62f5ce 293px,#7cf587 298px,#91f546 303px,#97f533 308px,#b5f51f 314px,#daf512 318px,#f7f109 322px,#faeb07 323px,#fec102 327px,#ff9c00 331px,#ff7d00 335px,#ff6900 338px,#ff5700 342px,#f40 347px,#ff3700 352px,#ff2f00 357px,#ff2d00 362px,#ff2e00 368px,#ff4a00 377px,#ff5e00 385px,#ff7900 399px,#ff8b00 412px,#ffa100 439px,#ffad00 475px)"></i>
<i style="background:linear-gradient(90deg,#ffae00 0,#ffa200 40px,#ff8c00 69px,#ff7100 87px,#ff5100 102px,#ff2f00 113px,#ff2d00 118px,#ff2f00 123px,#ff3600 128px,#ff4100 133px,#ff5200 138px,#ff6900 143px,#ff7600 145px,#ff9300 149px,#ffb700 153px,#fbe907 158px,#f7f009 159px,#dbf512 163px,#b6f51e 167px,#98f533 173px,#91f545 178px,#7df584 183px,#5ef5d8 189px,#50f0fe 192px,#47c7fa 195px,#3c96f5 198px,#337bf5 200px,#2756f5 205px,#2145f6 208px,#1a31f8 212px,#141ef4 220px,#1012e5 234px,#1011e0 242px,#1217eb 254px,#141ef4 261px,#1a31f8 269px,#2550f5 275px,#347cf5 281px,#47c8fb 286px,#51f0fd 289px,#5ff5d7 292px,#7df582 298px,#8ef54e 302px,#92f545 303px,#98f532 308px,#b6f51e 314px,#dcf512 318px,#f8f009 322px,#ffb600 328px,#ff9200 332px,#ff7500 336px,#ff6800 338px,#ff5200 343px,#ff3700 352px,#ff3000 357px,#ff2d00 362px,#ff2f00 368px,#ff4900 376px,#ff6000 385px,#ff7a00 399px,#ff8b00 411px,#ffa100 438px,#ffad00 475px)"></i>
<i style="background:linear-gradient(90deg,#ffae00 0,#ffa200 40px,#ff8d00 68px,#ff7b00 82px,#ff6100 96px,#ff4b00 105px,#ff2e00 114px,#ff2e00 121px,#ff3c00 131px,#ff4a00 136px,#ff5e00 141px,#ff6e00 144px,#ff9100 149px,#ffb500 153px,#f9f008 159px,#d4f514 164px,#b8f51d 167px,#98f532 173px,#92f544 178px,#8ff54b 179px,#7af58c 184px,#61f5d3 189px,#52f1f9 192px,#4ee9fe 193px,#45bffa 196px,#3580f5 200px,#2653f5 206px,#1a30f8 213px,#141ef4 221px,#1219ee 226px,#1013e7 235px,#1012e6 244px,#141ef4 260px,#1a30f8 268px,#1d39f7 270px,#2754f5 275px,#3682f5 281px,#45c1fa 285px,#4febfe 288px,#53f1f7 289px,#61f5d1 292px,#7af58b 297px,#90f549 302px,#99f531 308px,#b2f520 313px,#def411 318px,#faf008 322px,#fec702 326px,#ffa200 330px,#ff8200 334px,#ff6d00 337px,#ff5a00 341px,#ff4700 346px,#ff3900 351px,#ff3100 356px,#ff2e00 361px,#ff2e00 367px,#ff4900 375px,#ff5f00 384px,#ff7a00 398px,#ff8b00 411px,#ffa100 438px,#ffad00 475px)"></i>
<i style="background:linear-gradient(90deg,#ffae00 0,#ffa200 41px,#ff8c00 70px,#ff7100 88px,#ff5200 103px,#ff2e00 115px,#ff2e00 119px,#ff3700 129px,#ff4300 134px,#f50 139px,#ff6700 143px,#ff7a00 146px,#ff9000 149px,#ffbc01 154px,#faee08 159px,#f4f10a 160px,#d7f513 164px,#b4f520 168px,#9af531 173px,#91f546 179px,#7cf587 184px,#63f5cc 189px,#50f0ff 193px,#47c7fa 196px,#347cf5 201px,#2651f5 207px,#2042f6 210px,#1a2ff8 214px,#141ff4 222px,#1114e8 237px,#1114e9 246px,#131af0 255px,#141ff4 259px,#1a30f8 267px,#2652f5 274px,#347cf5 280px,#47c8fb 285px,#50f0fe 288px,#5ef5d9 291px,#7cf585 297px,#91f546 302px,#97f534 307px,#b4f51f 313px,#d8f513 317px,#f5f10a 321px,#faed08 322px,#ffbb01 327px,#ff9700 331px,#ff7900 335px,#f60 338px,#f50 342px,#ff4300 347px,#ff3700 352px,#ff2e00 362px,#ff2e00 366px,#ff4d00 376px,#ff6400 386px,#ff7a00 398px,#ff8b00 410px,#ffa100 437px,#ffad00 475px)"></i>
<i style="background:linear-gradient(90deg,#ffae00 0,#ffa200 41px,#ff8c00 70px,#ff7b00 83px,#ff5f00 98px,#ff4c00 106px,#ff2e00 116px,#ff2e00 121px,#ff3400 127px,#ff3d00 132px,#ff4d00 137px,#ff6100 142px,#ff7100 145px,#ff9600 150px,#ffb900 154px,#faeb07 159px,#f6f109 160px,#d1f515 165px,#b5f51f 168px,#9cf52f 173px,#98f533 174px,#92f544 179px,#8ff54d 180px,#7ef581 184px,#60f5d4 190px,#52f1f9 193px,#4fe9fe 194px,#45c1fa 197px,#3683f5 201px,#3379f5 202px,#2550f5 208px,#1b33f8 214px,#141df3 225px,#1116eb 235px,#1115ea 244px,#131bf1 254px,#1623f5 260px,#1a2ff8 266px,#2246f6 271px,#2857f5 274px,#337af5 279px,#3685f5 280px,#46c2fa 284px,#4febfe 287px,#53f1f7 288px,#61f5d2 291px,#82f573 298px,#8ff54c 301px,#92f544 302px,#98f532 307px,#b6f51e 313px,#dbf512 317px,#f7f009 321px,#fbea07 322px,#fdcb03 325px,#ff8500 333px,#ff6a00 337px,#ff5c00 340px,#ff4900 345px,#ff3b00 350px,#ff2e00 360px,#ff2e00 365px,#ff4a00 374px,#ff5f00 383px,#ff7a00 397px,#ff8b00 410px,#ffa100 437px,#ffad00 475px)"></i>
<i style="background:linear-gradient(90deg,#ffae00 0,#ffa200 42px,#ff8c00 71px,#ff7000 90px,#ff5300 104px,#ff2f00 116px,#ff2e00 120px,#ff3900 130px,#ff4500 135px,#ff5700 140px,#ff6900 144px,#ff7d00 147px,#ff9b00 151px,#febf01 155px,#f9f008 160px,#ddf511 164px,#b8f51d 168px,#b2f521 169px,#99f531 174px,#90f548 180px,#5ef5da 191px,#50f0fe 194px,#47c9fb 197px,#357ff5 202px,#254ff5 209px,#1b33f8 215px,#1829f6 219px,#141ef3 226px,#1217ec 237px,#1218ed 246px,#141ef4 255px,#1b33f8 266px,#2755f5 273px,#3580f5 279px,#48cafb 284px,#51f0fd 287px,#5ef5d8 290px,#91f547 301px,#9af531 307px,#b3f520 312px,#ddf411 317px,#f9f008 321px,#febe01 326px,#ff9b00 330px,#ff7c00 334px,#ff6900 337px,#ff5700 341px,#ff4500 346px,#ff3800 351px,#ff2e00 361px,#ff2f00 365px,#ff4c00 374px,#ff6300 384px,#ff7b00 397px,#ff8b00 409px,#ffa100 437px,#ffad00 475px)"></i>
<i style="background:linear-gradient(90deg,#ffae00 0,#ffa200 42px,#ff8d00 71px,#ff7100 90px,#ff5200 105px,#ff2e00 117px,#ff2e00 121px,#f30 127px,#ff3c00 132px,#ff4b00 137px,#ff5e00 142px,#ff6e00 145px,#ff9000 150px,#febc01 155px,#faee08 160px,#d8f513 165px,#b4f51f 169px,#9bf530 174px,#91f545 180px,#8ef54e 181px,#7ef581 185px,#61f5d2 191px,#53f1f6 194px,#4fecff 195px,#46c5fa 198px,#347cf5 203px,#2754f5 209px,#1b34f8 216px,#1728f6 221px,#141ef4 228px,#1219ee 244px,#141ff4 254px,#192ef8 263px,#254ff5 271px,#347df5 278px,#47c6fa 283px,#4feeff 286px,#61f5d1 290px,#7ef580 296px,#8ff54d 300px,#92f544 301px,#98f533 306px,#b5f51f 312px,#d9f512 316px,#f5f10a 320px,#faed08 321px,#fec502 325px,#ffa000 329px,#ff8100 333px,#ff6d00 336px,#ff5a00 340px,#ff4700 345px,#ff3a00 350px,#ff2e00 360px,#ff2e00 364px,#ff4b00 373px,#ff6400 384px,#ff7a00 396px,#ff8a00 408px,#ffa100 436px,#ffad00 475px)"></i>
<i style="background:linear-gradient(90deg,#ffaf00 0,#ffa200 42px,#ff8c00 72px,#ff7b00 85px,#ff6100 99px,#ff4a00 109px,#ff2e00 118px,#ff2e00 120px,#ff3800 130px,#f40 135px,#f50 140px,#f60 144px,#ff7800 147px,#ff9600 151px,#ffb900 155px,#faea07 160px,#f7f009 161px,#dbf512 165px,#b6f51e 169px,#99f532 175px,#90f548 181px,#5ff5d7 192px,#52f1fa 195px,#4ee8fe 196px,#337bf5 204px,#2754f5 210px,#1f3df7 215px,#192ef8 219px,#1520f5 228px,#131bf0 244px,#141ff4 252px,#1a2ff8 262px,#254ff5 270px,#347cf5 277px,#4fe9fe 285px,#52f1f9 286px,#5ff5d6 289px,#91f547 300px,#99f531 306px,#b2f521 311px,#b7f51e 312px,#dcf511 316px,#f8f009 320px,#fdcb03 324px,#ff8600 332px,#ff6b00 336px,#ff5d00 339px,#ff4900 344px,#ff3c00 349px,#f30 354px,#ff2e00 360px,#ff2e00 363px,#ff4d00 373px,#ff6300 383px,#ff7b00 396px,#ff8b00 408px,#ffa100 436px,#ffae00 475px)"></i>
<i style="background:linear-gradient(90deg,#ffaf00 0,#ffa200 43px,#ff8c00 73px,#ff7a00 86px,#ff6100 100px,#ff4c00 109px,#ff3000 118px,#ff2e00 120px,#ff3700 130px,#ff4300 135px,#ff5300 140px,#ff6900 145px,#ff7600 147px,#ff9300 151px,#ffb500 155px,#faf008 161px,#def411 165px,#b4f520 170px,#98f533 176px,#91f545 181px,#8ff54d 182px,#7af58b 187px,#5ef5db 193px,#50f0fe 196px,#45bef9 200px,#3685f5 204px,#337af5 205px,#2754f5 211px,#2246f6 214px,#1a2ff8 220px,#1727f6 225px,#141ef4 234px,#141df3 243px,#1521f5 251px,#1a30f8 261px,#2550f5 269px,#337bf5 276px,#4ee6fe 284px,#51f0fd 285px,#5ef5da 288px,#83f571 296px,#8ff54c 299px,#92f544 300px,#98f533 305px,#b4f51f 311px,#d7f513 315px,#faef08 320px,#fec702 324px,#ff8300 332px,#ff6900 336px,#ff5b00 339px,#ff4800 344px,#ff3b00 349px,#ff3200 354px,#ff2e00 360px,#ff2e00 362px,#ff4c00 372px,#ff6100 381px,#ff7b00 395px,#ff8b00 407px,#ffa100 436px,#ffae00 475px)"></i>
<i style="background:linear-gradient(90deg,#ffaf00 0,#ffa200 43px,#ff8c00 73px,#ff7b00 86px,#ff6400 99px,#ff4b00 110px,#ff2f00 119px,#ff2e00 122px,#f30 128px,#ff3d00 133px,#ff4b00 138px,#ff5e00 143px,#ff6d00 146px,#ff8f00 151px,#ffba01 156px,#faec07 161px,#f6f109 162px,#d2f515 167px,#b6f51e 170px,#99f531 176px,#91f546 182px,#61f5d2 193px,#50efff 197px,#47c9fb 200px,#3a91f5 204px,#337af5 206px,#244cf6 214px,#1a31f8 221px,#192cf7 224px,#1521f5 234px,#141ff4 243px,#1624f5 251px,#1a2ff8 259px,#2651f5 268px,#337bf5 275px,#3b92f5 277px,#45bdf9 280px,#50f0ff 284px,#61f5d1 288px,#79f58f 293px,#91f546 299px,#99f531 305px,#b2f521 310px,#b7f51e 311px,#dbf512 315px,#f7f109 319px,#faeb07 320px,#fdcc03 323px,#ff8700 331px,#ff6c00 335px,#ff5a00 339px,#ff4700 344px,#ff3a00 349px,#ff3200 354px,#ff2e00 360px,#ff3000 362px,#ff4b00 371px,#ff6000 380px,#ff7a00 394px,#ff8a00 406px,#ffa100 435px,#ffae00 475px)"></i>
<i style="background:linear-gradient(90deg,#ffaf00 0,#ffa300 43px,#ff8d00 73px,#ff7c00 86px,#ff6300 100px,#ff4a00 111px,#ff2f00 120px,#ff2f00 123px,#ff3c00 133px,#ff4a00 138px,#ff5d00 143px,#ff6b00 146px,#ff9400 152px,#ffb600 156px,#f9f008 162px,#cdf516 168px,#b4f51f 171px,#9cf530 176px,#92f544 182px,#90f54b 183px,#60f5d5 194px,#53f1f7 197px,#4fedff 198px,#47c8fb 201px,#3a91f5 205px,#337af5 207px,#2652f5 214px,#1a2ff8 224px,#1624f5 234px,#1623f5 243px,#1a2ff8 257px,#2652f5 267px,#337bf5 274px,#50eeff 283px,#60f5d4 287px,#90f549 298px,#98f533 304px,#b4f51f 310px,#d7f513 314px,#faf008 319px,#fdc802 323px,#ff8400 331px,#ff6a00 335px,#ff5c00 338px,#ff4900 343px,#ff3c00 348px,#f30 353px,#ff2e00 359px,#ff2f00 361px,#ff4b00 370px,#ff6200 380px,#ff7b00 394px,#ff8b00 406px,#ffa100 435px,#ffae00 475px)"></i>
<i style="background:linear-gradient(90deg,#ffaf00 0,#ffa300 43px,#ff8c00 74px,#ff7c00 87px,#ff6300 101px,#ff4a00 112px,#ff2e00 121px,#ff2e00 123px,#ff3400 129px,#ff3d00 134px,#ff4c00 139px,#ff5f00 144px,#ff6e00 147px,#ff9000 152px,#ffbb01 157px,#faec07 162px,#f6f109 163px,#dbf512 167px,#c9f518 169px,#b7f51e 171px,#9af531 177px,#91f545 183px,#7af58b 189px,#5ff5d7 195px,#53f1f8 198px,#4febfe 199px,#337bf5 208px,#254ff5 216px,#1a30f8 226px,#1727f6 235px,#1726f6 243px,#1a30f8 255px,#2041f6 261px,#2754f5 266px,#347cf5 273px,#4fedff 282px,#53f1f7 283px,#5ff5d6 286px,#7bf589 292px,#8ff54d 297px,#91f545 298px,#9af531 304px,#b2f520 309px,#b8f51d 310px,#dcf512 314px,#f7f109 318px,#faeb07 319px,#fdcd03 322px,#f80 330px,#ff6d00 334px,#ff5a00 338px,#ff4800 343px,#ff3b00 348px,#ff3200 353px,#ff2e00 359px,#ff5f00 378px,#ff7900 392px,#ff8a00 405px,#ffa100 434px,#ffae00 475px)"></i>
<i style="background:linear-gradient(90deg,#ffaf00 0,#ffa300 44px,#ff8c00 75px,#ff7a00 89px,#ff5e00 104px,#ff4900 113px,#ff2e00 122px,#ff3800 132px,#f40 137px,#f50 142px,#f60 146px,#ff7800 149px,#ff9400 153px,#ffb600 157px,#faf008 163px,#d7f513 168px,#b5f51f 172px,#98f532 178px,#91f546 184px,#5ef5d8 196px,#52f1f9 199px,#4febfe 200px,#347df5 209px,#2652f5 217px,#1f3ef7 223px,#1a30f8 229px,#182af7 243px,#1b31f8 253px,#2144f6 260px,#295cf5 266px,#347df5 272px,#4fecff 281px,#53f1f8 282px,#5ff5d7 285px,#7af58c 291px,#91f546 297px,#99f532 303px,#b5f51f 309px,#d8f513 313px,#faf008 318px,#fdc802 322px,#ff8500 330px,#ff6a00 334px,#ff5d00 337px,#ff4a00 342px,#ff3c00 347px,#f30 352px,#ff2e00 358px,#ff2e00 359px,#ff4a00 368px,#ff6100 378px,#ff7a00 392px,#ff8b00 405px,#ffa100 434px,#ffae00 475px)"></i>
<i style="background:linear-gradient(90deg,#ffaf00 0,#ffa200 45px,#ff8c00 76px,#ff7b00 89px,#ff6000 104px,#ff4b00 113px,#ff2e00 123px,#ff3900 133px,#ff5700 143px,#ff6800 147px,#ff7b00 150px,#ff9000 153px,#ffba01 158px,#faeb07 163px,#f7f009 164px,#dcf511 168px,#b3f520 173px,#98f533 179px,#90f549 185px,#5ef5d9 197px,#52f1f9 200px,#4febfe 201px,#3580f5 210px,#2755f5 218px,#2042f6 224px,#1b33f8 231px,#192ef7 243px,#1a31f8 249px,#1f3df7 255px,#2651f5 262px,#2e69f5 267px,#3581f5 271px,#4fecff 280px,#53f1f8 281px,#5ff5d8 284px,#90f548 296px,#98f533 302px,#b3f520 308px,#ddf511 313px,#f7f009 317px,#fdcc03 321px,#f80 329px,#ff6e00 333px,#ff5a00 337px,#ff4800 342px,#ff3b00 347px,#ff3200 352px,#ff2e00 358px,#ff4900 367px,#ff5e00 376px,#ff7900 391px,#ff8b00 404px,#ffa200 434px,#ffae00 475px)"></i>
<i style="background:linear-gradient(90deg,#ffaf00 0,#ffa300 45px,#ff8c00 76px,#ff7a00 90px,#ff5f00 105px,#ff4b00 114px,#ff2e00 124px,#ff3a00 134px,#f50 143px,#f60 147px,#f70 150px,#ff9400 154px,#ffb500 158px,#faef08 164px,#d9f512 169px,#b6f51e 173px,#9af531 179px,#92f544 185px,#8ff54b 186px,#5ef5d9 198px,#53f1f8 201px,#4fedff 202px,#3a8ff5 210px,#337bf5 212px,#2a5ef5 218px,#244bf6 223px,#1e3bf7 230px,#1b34f8 236px,#1b32f8 242px,#1d38f7 249px,#2246f6 256px,#2652f5 260px,#3071f5 267px,#347cf5 269px,#3786f5 270px,#4feeff 279px,#5ff5d8 283px,#90f54a 295px,#92f544 296px,#97f534 301px,#b2f521 307px,#b7f51e 308px,#daf512 312px,#f5f10a 316px,#faee08 317px,#fec702 321px,#ff8400 329px,#ff6a00 333px,#ff5d00 336px,#ff4a00 341px,#ff3c00 346px,#f30 351px,#ff2e00 357px,#ff4900 366px,#ff5e00 375px,#ff7900 390px,#ff8a00 403px,#ffa100 433px,#ffae00 475px)"></i>
<i style="background:linear-gradient(90deg,#ffaf00 0,#ffa300 45px,#ff8c00 77px,#ff7a00 91px,#ff5f00 106px,#ff4a00 115px,#ff2e00 125px,#ff3400 131px,#ff4000 137px,#ff5300 143px,#ff6800 148px,#ff9700 155px,#ffb900 159px,#fbe807 164px,#f8f009 165px,#def411 169px,#c5f519 172px,#b5f51f 174px,#99f531 180px,#91f545 186px,#8ff54d 187px,#5ff5d8 199px,#50efff 203px,#3580f5 213px,#2d67f5 218px,#2653f5 223px,#2145f6 229px,#1e3bf7 236px,#1d3af7 242px,#2040f7 249px,#244ef5 256px,#2a5ff5 261px,#337af5 267px,#3c96f5 270px,#50f0ff 278px,#5ff5d7 282px,#8ff54c 294px,#92f544 295px,#99f531 301px,#b5f51f 307px,#d7f513 311px,#f9f008 316px,#fdca03 320px,#ff8e00 327px,#ff6d00 332px,#ff5e00 335px,#ff3d00 345px,#ff3400 350px,#ff2e00 356px,#ff4b00 366px,#ff5f00 375px,#ff7a00 390px,#ff8b00 403px,#ffa200 433px,#ffae00 475px)"></i>
<i style="background:linear-gradient(90deg,#ffaf00 0,#ffa300 45px,#ff8d00 77px,#ff7b00 91px,#ff6000 106px,#ff4d00 115px,#ff2e00 126px,#ff3c00 136px,#ff5c00 146px,#ff6a00 149px,#ff8400 153px,#febc01 160px,#faec07 165px,#f6f109 166px,#dcf511 170px,#b4f520 175px,#98f532 181px,#91f545 187px,#7cf586 193px,#5ff5d6 200px,#51f0fe 204px,#3a91f5 213px,#347ef5 215px,#3379f5 216px,#2a60f5 222px,#2550f5 227px,#2144f6 235px,#2041f6 242px,#2247f6 249px,#2653f5 255px,#3379f5 265px,#357ff5 266px,#3b92f5 268px,#4ee8fe 276px,#51f0fd 277px,#60f5d5 281px,#8ff54d 293px,#91f545 294px,#98f532 300px,#b4f51f 306px,#ddf511 311px,#f7f009 315px,#faeb07 316px,#fec402 320px,#ff8300 328px,#ff6a00 332px,#ff5c00 335px,#ff3c00 345px,#ff2e00 355px,#ff4a00 365px,#ff5f00 374px,#ff7a00 389px,#ff8b00 402px,#ffa200 433px,#ffae00 475px)"></i>
<i style="background:linear-gradient(90deg,#ffaf00 0,#ffa300 46px,#ff8c00 78px,#ff7b00 92px,#ff6000 107px,#ff4c00 116px,#ff2e00 127px,#ff3500 133px,#ff3f00 138px,#ff5200 144px,#ff6700 149px,#ff9500 156px,#ffb600 160px,#faef08 166px,#f4f10a 167px,#daf512 171px,#b8f51d 175px,#b3f520 176px,#98f532 182px,#91f545 188px,#60f5d4 201px,#52f1fa 205px,#4febfe 206px,#3d99f5 214px,#347df5 217px,#2c65f5 223px,#2754f5 229px,#244df5 234px,#2349f6 240px,#2652f5 251px,#2b62f5 257px,#3379f5 263px,#347ef5 264px,#3a90f5 266px,#4fecff 275px,#52f1f9 276px,#60f5d3 280px,#8ff54d 292px,#91f545 293px,#98f532 299px,#b3f520 305px,#dbf512 310px,#f5f10a 314px,#faee08 315px,#fdc702 319px,#ff8600 327px,#ff6c00 331px,#ff5e00 334px,#ff3d00 344px,#ff2e00 354px,#ff4d00 365px,#ff6000 374px,#ff7b00 389px,#ff8b00 402px,#ffa200 433px,#ffae00 475px)"></i>
<i style="background:linear-gradient(90deg,#ffaf00 0,#ffa300 46px,#ff8d00 78px,#ff7c00 92px,#ff6200 107px,#ff4e00 116px,#ff2e00 128px,#ff3e00 138px,#ff6000 148px,#ff6e00 151px,#ff8900 155px,#fec202 162px,#f9f008 167px,#d8f513 172px,#b6f51e 176px,#98f533 183px,#91f545 189px,#61f5d1 202px,#50f0ff 207px,#3c98f5 216px,#357ff5 219px,#337af5 220px,#295cf5 230px,#2754f5 235px,#2651f5 240px,#2653f5 245px,#295af5 250px,#2d66f5 255px,#337bf5 261px,#3d99f5 265px,#50f0fe 274px,#62f5d0 279px,#91f545 292px,#98f532 298px,#b2f521 304px,#b7f51e 305px,#d9f512 309px,#faf008 314px,#ff9f00 323px,#ff6800 331px,#ff5300 336px,#ff4000 342px,#ff3500 347px,#ff2e00 353px,#ff4c00 364px,#ff6000 373px,#ff7a00 388px,#ff8b00 401px,#ffa200 432px,#ffae00 475px)"></i>
<i style="background:linear-gradient(90deg,#ffaf00 0,#ffa400 46px,#ff8d00 79px,#ff7b00 93px,#ff6100 108px,#ff4e00 117px,#ff2e00 129px,#ff3600 135px,#ff4100 140px,#f50 146px,#ff6a00 151px,#ff9a00 158px,#ffbb01 162px,#f8f009 168px,#d7f513 173px,#b6f51e 177px,#98f533 184px,#91f545 190px,#5ff5d7 204px,#52f1fa 208px,#4fecff 209px,#3d9af5 218px,#347df5 222px,#2b62f5 232px,#295bf5 241px,#2c64f5 250px,#347df5 259px,#3d9bf6 263px,#4fedff 272px,#52f1f9 273px,#5ff5d6 277px,#8ff54d 290px,#91f545 291px,#98f533 297px,#b6f51e 304px,#d8f513 308px,#f8f009 313px,#fec302 318px,#ff8a00 325px,#ff6a00 330px,#ff6100 332px,#ff3e00 342px,#ff2e00 352px,#ff6000 372px,#ff7a00 387px,#ff8c00 401px,#ffa200 432px,#ffae00 475px)"></i>
<i style="background:linear-gradient(90deg,#ffaf00 0,#ffa400 46px,#ff8d00 79px,#ff7c00 93px,#ff6100 109px,#ff2f00 130px,#ff3600 136px,#ff4200 141px,#ff6700 151px,#ff9400 158px,#ffb500 162px,#faec07 168px,#f6f109 169px,#ddf511 173px,#b5f51f 178px,#98f533 185px,#91f545 191px,#8ff54c 192px,#61f5d2 205px,#51f0fd 210px,#3c96f5 221px,#347df5 225px,#2e6bf5 233px,#2c66f5 240px,#2e6bf5 248px,#347df5 256px,#3e9ff6 261px,#4febfe 270px,#51f0fc 271px,#5ef5da 275px,#8ff54b 289px,#92f545 290px,#98f533 296px,#b6f51e 303px,#d6f513 307px,#f7f009 312px,#faeb07 313px,#fec602 317px,#ff8c00 324px,#ff6200 331px,#ff3f00 341px,#ff2e00 351px,#ff5f00 371px,#ff7900 386px,#ff8b00 400px,#ffa200 431px,#ffaf00 475px)"></i>
<i style="background:linear-gradient(90deg,#ffaf00 0,#ffa400 47px,#ff8d00 80px,#ff7c00 94px,#ff6100 110px,#ff2f00 131px,#ff3700 137px,#ff4300 142px,#ff6800 152px,#ff9600 159px,#ffb700 163px,#faee08 169px,#f5f109 170px,#dcf511 174px,#b5f51f 179px,#98f533 186px,#92f544 192px,#90f54a 193px,#5ff5d6 207px,#51f0fe 212px,#3e9df6 223px,#3682f5 228px,#3276f5 233px,#3071f5 240px,#3174f5 246px,#347ef5 252px,#3e9ef6 258px,#4feafe 268px,#51f0fd 269px,#60f5d5 274px,#90f549 288px,#92f544 289px,#98f533 295px,#b5f51e 302px,#ddf511 307px,#f6f109 311px,#faed08 312px,#fec702 316px,#ff8e00 323px,#ff6300 330px,#ff4000 340px,#ff2f00 350px,#ff4e00 362px,#ff6100 371px,#ff7b00 386px,#ff8c00 400px,#ffa200 431px,#ffaf00 475px)"></i>
<i style="background:linear-gradient(90deg,#ffaf00 0,#ffa400 47px,#ff8e00 80px,#ff7c00 95px,#ff6200 110px,#ff5000 119px,#ff2f00 132px,#ff3700 138px,#ff4300 143px,#ff6900 153px,#ff9000 159px,#ffb800 164px,#faef08 170px,#f5f10a 171px,#dcf511 175px,#b5f51f 180px,#98f533 187px,#90f548 194px,#62f5cf 208px,#51f0fd 214px,#41adf8 224px,#3c96f5 228px,#3582f5 234px,#337bf5 240px,#3580f5 246px,#3b92f5 252px,#41adf8 257px,#4febfe 266px,#51f0fc 267px,#5ff5d7 272px,#91f547 287px,#98f532 294px,#b5f51f 301px,#dcf511 306px,#f5f109 310px,#faee08 311px,#fdc903 315px,#ff8f00 322px,#ff6400 329px,#ff4000 339px,#ff2f00 349px,#ff4e00 361px,#ff6100 370px,#ff7a00 385px,#ff8c00 399px,#ffa300 431px,#ffaf00 475px)"></i>
<i style="background:linear-gradient(90deg,#ffb000 0,#ffa400 48px,#ff8d00 81px,#ff7d00 95px,#ff6200 111px,#ff5000 120px,#ff2f00 133px,#ff3800 139px,#f40 144px,#ff6a00 154px,#ffa100 162px,#faf008 171px,#dcf511 176px,#b5f51f 181px,#98f532 188px,#91f546 195px,#62f5d0 210px,#54f1f4 215px,#4feeff 217px,#48cefb 222px,#3fa4f7 230px,#3c95f5 235px,#3a8ff5 240px,#3c95f5 246px,#3fa5f7 251px,#49cefb 259px,#50eeff 264px,#57f2ed 267px,#62f5cf 271px,#91f545 286px,#98f532 293px,#b5f51e 300px,#dcf511 305px,#f5f10a 309px,#faef08 310px,#fec102 315px,#ff8a00 322px,#ff6a00 327px,#ff6100 329px,#ff4100 338px,#ff2f00 348px,#ff6000 369px,#ff7b00 385px,#ff8c00 399px,#ffa300 431px,#ffaf00 475px)"></i>
<i style="background:linear-gradient(90deg,#ffb000 0,#ffa400 48px,#ff8d00 82px,#ff7c00 96px,#ff6200 112px,#ff4d00 122px,#ff2f00 134px,#ff4200 144px,#ff6200 153px,#ff8b00 160px,#ffba01 166px,#faf008 172px,#dcf511 177px,#b5f51e 182px,#99f532 189px,#91f545 196px,#8ff54b 197px,#62f5cf 212px,#51f0fd 219px,#49d1fc 225px,#43b7f9 231px,#40aaf7 236px,#40a6f7 240px,#40a9f7 244px,#43b4f8 249px,#49d1fc 256px,#4fedff 261px,#51f0fc 262px,#5ff5d6 268px,#6ef5ad 273px,#90f54a 284px,#92f544 285px,#99f531 292px,#b6f51e 299px,#dcf511 304px,#faef08 309px,#fec202 314px,#ff8b00 321px,#ff6200 328px,#ff4100 337px,#ff2f00 347px,#ff4d00 359px,#ff6000 368px,#ff7b00 384px,#ff8c00 398px,#ffa300 430px,#ffaf00 475px)"></i>
<i style="background:linear-gradient(90deg,#ffb000 0,#ffa400 48px,#ff8e00 82px,#ff7c00 97px,#ff6100 113px,#ff4d00 123px,#ff2f00 135px,#ff4200 145px,#ff6300 154px,#ff8c00 161px,#ffbb01 167px,#faf008 173px,#dcf511 178px,#b6f51e 183px,#9af531 190px,#91f546 198px,#65f5c6 213px,#5bf4e1 217px,#51f0fc 222px,#48cdfb 231px,#46c2fa 236px,#45bef9 240px,#45c0fa 244px,#48cafb 249px,#4bd7fc 253px,#50eeff 258px,#57f2ec 262px,#63f5cc 267px,#71f5a5 272px,#91f546 283px,#98f533 290px,#b2f520 297px,#b6f51e 298px,#ddf511 303px,#faef08 308px,#fec202 313px,#ff8b00 320px,#ff6700 326px,#ff4200 336px,#ff2f00 346px,#ff4d00 358px,#ff6000 367px,#ff7b00 383px,#ff8c00 397px,#ffa200 429px,#ffaf00 475px)"></i>
<i style="background:linear-gradient(90deg,#ffb000 0,#ffa400 49px,#ff8d00 83px,#ff7c00 98px,#ff6100 114px,#ff4d00 124px,#ff2f00 136px,#ff4200 146px,#ff6300 155px,#ff8c00 162px,#ffbb01 168px,#faf008 174px,#ddf511 179px,#b7f51e 184px,#b3f520 185px,#98f533 192px,#91f545 199px,#90f54a 200px,#74f59d 210px,#64f5c9 216px,#5bf4e2 220px,#51f0fd 226px,#4bd9fc 234px,#49d3fc 240px,#4bd9fc 247px,#50efff 254px,#57f2eb 259px,#62f5d0 264px,#71f5a4 270px,#90f549 281px,#92f544 282px,#98f532 289px,#b3f520 296px,#ddf411 302px,#f5f10a 306px,#faef08 307px,#ffba01 313px,#ff8c00 319px,#ff6300 326px,#ff4200 335px,#ff2e00 345px,#ff4b00 356px,#ff6000 366px,#ff7b00 382px,#ff8d00 397px,#ffa300 429px,#ffaf00 475px)"></i>
<i style="background:linear-gradient(90deg,#ffb000 0,#ffa400 49px,#ff8e00 83px,#ff7d00 98px,#ff6100 115px,#ff4d00 125px,#ff2e00 137px,#ff4300 147px,#ff6300 156px,#ff8d00 163px,#ffbb01 169px,#faef08 175px,#f5f10a 176px,#def411 180px,#b4f520 186px,#99f531 193px,#91f545 201px,#75f59b 212px,#68f5be 217px,#5ef5db 222px,#55f2f3 228px,#50efff 233px,#4ee7fe 240px,#50efff 248px,#56f2ef 254px,#62f5d0 261px,#72f5a2 268px,#91f545 280px,#99f531 288px,#b4f51f 295px,#d8f513 300px,#f6f109 305px,#faee08 306px,#ffba01 312px,#ff8c00 318px,#ff6300 325px,#ff4200 334px,#ff2e00 344px,#ff4b00 355px,#ff6000 365px,#ff7a00 381px,#ff8c00 396px,#ffa300 429px,#ffaf00 475px)"></i>
<i style="background:linear-gradient(90deg,#ffb000 0,#ffa400 50px,#ff8e00 84px,#ff7d00 99px,#ff6100 116px,#ff4b00 127px,#ff2e00 138px,#ff4000 147px,#ff6400 157px,#ff8d00 164px,#ffba01 170px,#faee08 176px,#dff410 181px,#b5f51f 187px,#98f533 195px,#91f546 203px,#71f5a5 216px,#5ff5d6 225px,#56f2ee 233px,#54f1f5 240px,#56f2ee 248px,#5ff5d6 256px,#71f5a4 265px,#91f546 278px,#98f532 286px,#b5f51e 294px,#d9f512 299px,#faed08 305px,#ffba00 311px,#ff8c00 317px,#ff6300 324px,#ff4000 334px,#ff2e00 343px,#ff4b00 354px,#ff5f00 364px,#ff7b00 381px,#ff8c00 395px,#ffa300 428px,#ffaf00 475px)"></i>
<i style="background:linear-gradient(90deg,#ffb000 0,#ffa400 50px,#ff8e00 85px,#ff7b00 101px,#ff5f00 118px,#ff4900 129px,#ff2e00 139px,#ff4300 149px,#ff6800 159px,#ff9300 166px,#ffba00 171px,#faec07 177px,#f7f009 178px,#dbf512 183px,#b7f51e 188px,#99f531 196px,#91f546 205px,#75f599 217px,#65f5c7 226px,#5df4dc 233px,#5af3e3 240px,#5df4dc 248px,#65f5c7 255px,#76f598 264px,#91f546 276px,#99f531 285px,#b7f51e 293px,#dbf512 298px,#f7f009 303px,#faeb07 304px,#ffb900 310px,#ff9300 315px,#ff6800 322px,#ff4300 332px,#ff2e00 342px,#ff4900 352px,#ff5f00 363px,#ff7b00 380px,#ff8c00 394px,#ffa300 428px,#ffaf00 475px)"></i>
<i style="background:linear-gradient(90deg,#ffb000 0,#ffa400 51px,#ff8d00 86px,#ff7b00 102px,#ff5f00 119px,#ff4900 130px,#ff2e00 140px,#ff4300 150px,#ff6800 160px,#ff9300 167px,#ffb800 172px,#f8f009 179px,#dcf511 184px,#b4f51f 190px,#98f532 198px,#91f546 207px,#7cf586 217px,#72f5a2 222px,#6af5b7 227px,#63f5cb 234px,#61f5d0 240px,#64f5ca 247px,#6bf5b7 254px,#72f5a1 259px,#7cf586 264px,#91f546 274px,#98f532 283px,#b5f51f 291px,#ddf511 297px,#f9f008 302px,#ffb800 309px,#f90 313px,#ff6700 321px,#ff4200 331px,#ff3400 337px,#ff2f00 341px,#ff4900 351px,#ff5f00 362px,#ff7b00 379px,#ff8d00 394px,#ffa300 428px,#ffaf00 475px)"></i>
<i style="background:linear-gradient(90deg,#ffb000 0,#ffa500 49px,#ff9000 84px,#ff7d00 101px,#ff6300 118px,#ff2f00 142px,#ff4600 152px,#ff6d00 162px,#ffa000 170px,#faf008 180px,#d9f512 186px,#b6f51e 191px,#98f532 200px,#91f545 209px,#7ef580 219px,#70f5a7 228px,#6bf5b6 234px,#69f5bc 240px,#6af5b8 246px,#70f5a7 253px,#7ef57f 262px,#91f545 272px,#98f532 281px,#b7f51e 290px,#d9f512 295px,#faf008 301px,#ffa000 311px,#ff6c00 319px,#ff4500 329px,#ff2f00 339px,#ff6100 362px,#ff7c00 379px,#ff8d00 394px,#ffa400 428px,#ffaf00 475px)"></i>
<i style="background:linear-gradient(90deg,#ffb000 0,#ffa500 50px,#ff9000 85px,#ff7d00 102px,#ff6300 119px,#ff4e00 130px,#ff2f00 143px,#ff4500 153px,#ff6c00 163px,#ff9100 169px,#ffb500 174px,#faee08 181px,#f6f109 182px,#dcf512 187px,#b5f51f 193px,#98f533 202px,#91f547 212px,#81f578 221px,#76f596 229px,#71f5a4 235px,#70f5a8 240px,#72f5a3 246px,#76f596 252px,#81f577 260px,#91f546 269px,#98f532 279px,#b5f51f 288px,#dcf511 294px,#f7f109 299px,#faed08 300px,#ffb400 307px,#ff9700 311px,#ff6b00 318px,#ff4500 328px,#ff2f00 338px,#ff4c00 350px,#ff6100 361px,#ff7c00 378px,#ff8d00 393px,#ffa300 427px,#ffaf00 475px)"></i>
<i style="background:linear-gradient(90deg,#ffb000 0,#ffa500 50px,#ff9100 85px,#ff7e00 102px,#ff6300 120px,#ff4c00 132px,#ff2e00 144px,#ff4500 154px,#ff6b00 164px,#ff9600 171px,#ffbb01 176px,#f8f009 183px,#d9f512 189px,#b8f51d 194px,#98f532 204px,#91f547 215px,#85f56a 222px,#7df583 229px,#79f58f 235px,#77f593 240px,#78f590 245px,#7cf585 251px,#84f56e 258px,#91f547 266px,#98f532 277px,#b4f51f 286px,#daf512 292px,#f9f008 298px,#ff9c00 309px,#ff6b00 317px,#ff4500 327px,#ff2e00 337px,#ff4a00 348px,#ff5f00 359px,#ff7c00 377px,#ff8d00 392px,#ffa300 426px,#ffaf00 475px)"></i>
<i style="background:linear-gradient(90deg,#ffb000 0,#ffa500 51px,#ff9000 86px,#ff7d00 104px,#ff6100 122px,#ff4a00 134px,#ff2e00 145px,#f40 155px,#ff6a00 165px,#ff9b00 173px,#ffb800 177px,#faef08 184px,#dcf511 190px,#b7f51e 196px,#98f532 206px,#91f546 218px,#87f564 225px,#82f575 231px,#7ff57d 236px,#7ef580 241px,#82f575 250px,#87f563 256px,#91f546 263px,#99f532 275px,#b7f51e 285px,#d7f513 290px,#f6f109 296px,#faee08 297px,#ffb700 304px,#ff8d00 310px,#ff6a00 316px,#f40 326px,#ff2f00 336px,#ff4a00 347px,#ff6000 358px,#ff7c00 376px,#ff8d00 391px,#ffa400 426px,#ffb000 475px)"></i>
<i style="background:linear-gradient(90deg,#ffb000 0,#ffa500 51px,#ff9100 86px,#ff7e00 104px,#ff6300 122px,#ff4e00 133px,#ff2f00 147px,#f40 156px,#ff6900 166px,#f90 174px,#ffb500 178px,#faeb07 185px,#f8f008 186px,#dbf512 192px,#b6f51e 198px,#98f533 209px,#91f546 222px,#8af55b 228px,#86f568 234px,#84f56c 239px,#85f56b 244px,#89f560 251px,#91f546 259px,#9af531 273px,#b7f51e 283px,#dbf512 289px,#f9f008 295px,#ffb500 303px,#ff9800 307px,#ff6800 315px,#f40 325px,#ff2f00 334px,#ff6100 358px,#ff7c00 375px,#ff8e00 391px,#ffa400 426px,#ffb000 475px)"></i>
<i style="background:linear-gradient(90deg,#ffb000 0,#ffa600 51px,#ff9100 87px,#ff7e00 105px,#ff6300 123px,#ff4d00 135px,#ff2e00 148px,#ff4600 158px,#ff6d00 168px,#ff9d00 176px,#faee08 187px,#daf512 194px,#b7f51e 200px,#99f532 211px,#91f546 227px,#8cf556 235px,#8bf558 244px,#91f546 254px,#99f531 270px,#b7f51e 281px,#daf512 287px,#f7f009 293px,#faed08 294px,#ffb800 301px,#ff8f00 307px,#ff6c00 313px,#ff4600 323px,#ff2e00 333px,#ff4b00 345px,#ff6000 356px,#ff7c00 374px,#ff8d00 390px,#ffa400 425px,#ffb000 475px)"></i>
<i style="background:linear-gradient(90deg,#ffb000 0,#ffa600 52px,#ff9100 88px,#ff7e00 106px,#ff6100 125px,#ff4b00 137px,#ff2e00 149px,#ff4500 159px,#ff6b00 169px,#ff9a00 177px,#ffb600 181px,#faf008 189px,#d9f512 196px,#b8f51d 202px,#99f531 214px,#93f541 227px,#91f547 239px,#94f53e 257px,#99f531 267px,#b4f51f 278px,#daf512 285px,#faef08 292px,#ffb500 300px,#f90 304px,#ff6a00 312px,#ff4200 323px,#ff2f00 332px,#ff4900 343px,#ff6000 355px,#ff7c00 373px,#ff8d00 389px,#ffa400 425px,#ffb000 475px)"></i>
<i style="background:linear-gradient(90deg,#ffb000 0,#ffa600 52px,#ff9100 89px,#ff7e00 107px,#ff6300 125px,#ff5000 136px,#ff2f00 151px,#f40 160px,#ff6900 170px,#ff9700 178px,#ffb800 183px,#faea07 190px,#f9f008 191px,#daf512 198px,#b5f51f 205px,#98f532 218px,#94f53c 228px,#93f541 238px,#93f540 247px,#96f539 257px,#98f532 263px,#b5f51e 276px,#daf512 283px,#faf008 290px,#ffb800 298px,#ff9600 303px,#ff6800 311px,#f40 321px,#ff2f00 330px,#ff6000 354px,#ff7c00 372px,#ff8e00 389px,#ffa400 425px,#ffb000 475px)"></i>
<i style="background:linear-gradient(90deg,#ffb100 0,#ffa600 53px,#ff9000 90px,#ff7e00 108px,#ff6200 127px,#ff4a00 140px,#ff2e00 152px,#ff4600 162px,#ff6c00 172px,#ff9a00 180px,#faeb07 192px,#f9f008 193px,#dbf512 200px,#b4f51f 208px,#98f532 222px,#95f53c 240px,#98f533 258px,#b5f51f 273px,#f9f008 288px,#ffba01 296px,#ff9300 302px,#ff6b00 309px,#ff4600 319px,#ff2e00 329px,#ff4a00 341px,#ff6000 353px,#ff7d00 372px,#ff8e00 388px,#ffa400 424px,#ffb000 475px)"></i>
<i style="background:linear-gradient(90deg,#ffb100 0,#ffa600 53px,#ff9100 90px,#ff8300 105px,#ff7100 118px,#ff5400 136px,#ff2f00 154px,#ff4500 163px,#ff6900 173px,#ff9600 181px,#ffb600 186px,#faeb07 194px,#f9f008 195px,#dcf511 202px,#b7f51e 210px,#9df52f 224px,#98f532 228px,#97f536 238px,#98f533 252px,#a3f52b 261px,#b7f51e 271px,#f9f008 286px,#ffb500 295px,#ff8f00 301px,#ff6900 308px,#ff4500 318px,#ff2f00 327px,#ff6100 352px,#ff7d00 371px,#ff8e00 387px,#ffa400 423px,#ffb000 475px)"></i>
<i style="background:linear-gradient(90deg,#ffb100 0,#ffa600 54px,#ff9100 91px,#ff7e00 110px,#ff6200 129px,#ff4b00 142px,#ff2e00 155px,#ff4700 165px,#ff6b00 175px,#ff8c00 181px,#ffb700 188px,#f9f008 197px,#daf512 205px,#b8f51d 213px,#aaf526 220px,#9cf530 233px,#9af531 245px,#a3f52b 256px,#b5f51f 267px,#dbf512 276px,#faf008 284px,#ffb600 293px,#ff9100 299px,#ff6b00 306px,#ff4600 316px,#ff2e00 326px,#ff4900 338px,#ff5f00 350px,#ff7b00 369px,#ff8e00 386px,#ffa400 423px,#ffb000 475px)"></i>
<i style="background:linear-gradient(90deg,#ffb100 0,#ffa600 54px,#ff9200 91px,#ff8400 106px,#ff7200 120px,#ff5400 139px,#ff2f00 157px,#ff4500 166px,#ff6900 176px,#ff8d00 183px,#ffb700 190px,#faef08 199px,#d9f512 208px,#b6f51e 217px,#b0f522 221px,#a3f52b 233px,#a2f52b 245px,#a9f526 255px,#b7f51e 264px,#f7f009 281px,#faef08 282px,#ffb700 291px,#ff8c00 298px,#ff6800 305px,#ff4500 315px,#ff2f00 324px,#ff4e00 339px,#ff6300 351px,#ff7e00 370px,#ff9000 388px,#ffa500 424px,#ffb000 475px)"></i>
<i style="background:linear-gradient(90deg,#ffb100 0,#ffa600 55px,#ff9100 93px,#ff7e00 112px,#ff6100 132px,#ff4b00 145px,#ff2e00 158px,#ff4300 167px,#ff6a00 178px,#ffb700 192px,#faed08 201px,#f8f008 202px,#daf512 211px,#b6f51e 222px,#aaf526 234px,#aaf526 246px,#b6f51e 259px,#daf512 270px,#f9f008 279px,#ffb600 289px,#ff6900 303px,#ff4300 314px,#ff2e00 323px,#ff4b00 336px,#ff6100 349px,#ff7e00 369px,#ff9000 387px,#ffa500 424px,#ffb000 475px)"></i>
<i style="background:linear-gradient(90deg,#ffb100 0,#ffa600 55px,#ff9200 93px,#ff7f00 112px,#ff6300 132px,#ff4d00 145px,#ff2f00 160px,#ff4800 170px,#ff6b00 180px,#ffb600 194px,#faef08 204px,#dbf512 214px,#c6f519 221px,#b6f51e 228px,#b1f522 237px,#b1f521 246px,#b6f51e 253px,#bff51b 257px,#f8f009 276px,#faee08 277px,#ffb500 287px,#ff6a00 301px,#ff4700 311px,#ff2e00 321px,#ff4c00 335px,#ff6200 348px,#ff7e00 368px,#ff9000 386px,#ffa500 423px,#ffb000 475px)"></i>
<i style="background:linear-gradient(90deg,#ffb100 0,#ffa600 55px,#ff9200 94px,#ff7e00 114px,#ff6200 134px,#ff4a00 148px,#ff2f00 161px,#ff4300 170px,#ff6c00 182px,#ffb400 196px,#faef08 207px,#e3f40f 215px,#c1f51a 230px,#baf51d 237px,#baf51d 243px,#bef51b 249px,#c8f518 255px,#faef08 274px,#ffb400 285px,#ff6b00 299px,#ff4800 309px,#ff2f00 319px,#f50 339px,#ff7200 358px,#ff9100 386px,#ffa500 423px,#ffb000 475px)"></i>
<i style="background:linear-gradient(90deg,#ffb100 0,#ffa600 56px,#ff9200 95px,#ff7e00 115px,#ff6200 135px,#ff4b00 149px,#ff2e00 163px,#ff4300 172px,#ff6800 183px,#ffb700 199px,#faee08 210px,#f3f10a 213px,#d1f515 229px,#c8f518 241px,#d3f514 253px,#f9f008 270px,#ffb700 282px,#ff6b00 297px,#ff4600 308px,#ff2f00 318px,#ff4a00 331px,#ff6100 345px,#ff7e00 366px,#ff9100 385px,#ffa500 422px,#ffb000 475px)"></i>
<i style="background:linear-gradient(90deg,#ffb100 0,#ffa600 57px,#ff9100 96px,#ff7e00 116px,#ff6100 137px,#ff4a00 151px,#ff2e00 165px,#f40 174px,#ff6800 185px,#ffb400 201px,#fcd504 208px,#faef08 214px,#f8f009 215px,#dff410 228px,#d6f513 241px,#e1f410 254px,#faef08 267px,#ffb300 280px,#ff6b00 295px,#ff4700 306px,#ff2e00 316px,#ff4b00 330px,#ff6200 344px,#ff7e00 365px,#ff9100 384px,#ffa600 422px,#ffb000 475px)"></i>
<i style="background:linear-gradient(90deg,#ffb100 0,#ffa700 56px,#ff9200 96px,#ff7300 126px,#ff5400 147px,#ff2e00 167px,#ff4700 177px,#ff6b00 188px,#fdcb03 209px,#f9f008 219px,#e8f30e 230px,#e2f410 240px,#e8f30e 251px,#f9f008 262px,#fdca03 272px,#ff6b00 293px,#ff4700 304px,#ff2e00 314px,#ff4c00 329px,#ff6200 343px,#ff7f00 364px,#ff9100 383px,#ffa600 421px,#ffb000 475px)"></i>
<i style="background:linear-gradient(90deg,#ffb100 0,#ffa700 57px,#ff9200 97px,#ff7300 127px,#f50 148px,#ff2f00 169px,#ff4700 179px,#ff6a00 190px,#fdc803 212px,#faef08 224px,#f1f10b 232px,#edf20c 240px,#f0f20b 248px,#f9f008 256px,#fbe406 261px,#fdcc03 268px,#ff6a00 291px,#ff4700 302px,#ff2e00 312px,#ff5300 332px,#ff7200 353px,#ff9100 383px,#ffa600 421px,#ffb000 475px)"></i>
<i style="background:linear-gradient(90deg,#ffb100 0,#ffa700 58px,#ff9200 98px,#ff7400 128px,#ff5400 150px,#ff2f00 171px,#ff4700 181px,#ff6900 192px,#ffb900 212px,#fcdc05 223px,#faf008 234px,#faf008 247px,#fbe507 254px,#fdd104 262px,#ffb100 271px,#ff6800 289px,#ff4700 300px,#ff2f00 310px,#ff5400 331px,#ff7200 352px,#ff9100 382px,#ffa600 421px,#ffb100 475px)"></i>
<i style="background:linear-gradient(90deg,#ffb100 0,#ffa700 58px,#ff9300 98px,#ff7400 129px,#f50 151px,#ff2f00 173px,#ff4700 183px,#ff6a00 195px,#ffab00 212px,#fdca03 222px,#fcde06 233px,#fbe206 243px,#fcd805 252px,#fec402 261px,#ffa700 270px,#ff6a00 286px,#ff4600 298px,#ff2e00 308px,#ff5400 329px,#ff7300 351px,#ff9100 381px,#ffa600 420px,#ffb100 475px)"></i>
<i style="background:linear-gradient(90deg,#ffb100 0,#ffa700 58px,#ff9300 99px,#ff7400 130px,#ff5400 153px,#ff2e00 175px,#ff4600 185px,#ff6800 197px,#ffa000 213px,#ffba01 222px,#fdce03 233px,#fdd104 243px,#fdca03 251px,#ffb700 260px,#ffa000 268px,#ff6800 284px,#ff4600 296px,#ff2e00 306px,#ff5300 327px,#ff7300 350px,#ff9100 380px,#ffa600 420px,#ffb100 475px)"></i>
<i style="background:linear-gradient(90deg,#ffb100 0,#ffa700 59px,#ff9300 100px,#ff7300 132px,#ff5200 156px,#ff2e00 177px,#ff5d00 196px,#ffa900 221px,#ffb900 229px,#fec101 237px,#febe01 247px,#ffad00 258px,#ff9800 266px,#ff5700 287px,#ff2e00 304px,#ff5200 325px,#ff7200 348px,#ff9200 379px,#ffa600 419px,#ffb100 475px)"></i>
<i style="background:linear-gradient(90deg,#ffb100 0,#ffa700 59px,#ff9300 101px,#ff7400 133px,#ff5300 157px,#ff2f00 179px,#ff4e00 193px,#ff9c00 222px,#ffab00 230px,#ffb100 237px,#ffaf00 247px,#ffa000 257px,#ff4b00 289px,#ff2f00 302px,#ff5400 324px,#ff7400 348px,#ff9200 379px,#ffa600 419px,#ffb100 475px)"></i>
<i style="background:linear-gradient(90deg,#ffb100 0,#ffa800 59px,#ff9400 101px,#ff7500 133px,#ff5600 157px,#ff2f00 182px,#ff9200 224px,#ffa000 234px,#ffa200 244px,#ff9a00 252px,#ff8c00 260px,#ff2e00 299px,#f50 323px,#ff7400 347px,#ff9200 378px,#ffa600 418px,#ffb100 475px)"></i>
<i style="background:linear-gradient(90deg,#ffb100 0,#ffa700 60px,#ff9400 102px,#ff7500 135px,#ff5400 160px,#ff2e00 184px,#ff8100 222px,#ff8e00 230px,#ff9300 237px,#ff9100 247px,#ff8500 257px,#ff2f00 297px,#ff5400 321px,#ff7500 346px,#ff9200 377px,#ffa700 418px,#ffb100 475px)"></i>
<i style="background:linear-gradient(90deg,#ffb100 0,#ffa800 60px,#ff9400 103px,#ff7500 136px,#f50 161px,#ff2e00 187px,#ff7500 222px,#ff8500 236px,#ff8400 246px,#ff7a00 256px,#ff2e00 294px,#ff5400 319px,#ff7500 345px,#ff9200 376px,#ffa700 417px,#ffb100 475px)"></i>
<i style="background:linear-gradient(90deg,#ffb200 0,#ffa800 61px,#ff9400 104px,#f70 136px,#ff2f00 190px,#ff5b00 213px,#ff6f00 226px,#ff7800 236px,#ff7800 245px,#ff7100 253px,#ff6200 264px,#ff2e00 291px,#f50 318px,#ff7600 344px,#ff9300 376px,#ffa700 417px,#ffb100 475px)"></i>
<i style="background:linear-gradient(90deg,#ffb200 0,#ffa800 62px,#ff9400 105px,#f70 137px,#ff2e00 193px,#ff5f00 221px,#ff6800 230px,#ff6d00 240px,#ff6900 250px,#ff6000 259px,#ff2e00 288px,#ff7600 343px,#ff9300 375px,#ffa700 417px,#ffb100 475px)"></i>
<i style="background:linear-gradient(90deg,#ffb200 0,#ffa800 61px,#ff9500 105px,#ff7800 138px,#ff2e00 196px,#ff5700 222px,#ff5f00 231px,#ff6200 240px,#ff6000 249px,#ff5800 258px,#ff2e00 285px,#f70 342px,#ff9300 374px,#ffa700 416px,#ffb100 475px)"></i>
<i style="background:linear-gradient(90deg,#ffb200 0,#ffa800 62px,#ff9500 106px,#ff7800 139px,#ff2f00 199px,#ff4f00 223px,#ff5900 240px,#ff5000 257px,#ff2f00 282px,#ff7800 342px,#ff9400 374px,#ffa700 416px,#ffb100 475px)"></i>
<i style="background:linear-gradient(90deg,#ffb200 0,#ffa800 63px,#ff9500 107px,#ff7a00 139px,#ff2e00 203px,#ff4800 224px,#ff5000 240px,#ff4900 256px,#ff2f00 278px,#ff7900 341px,#ff9400 373px,#ffa800 416px,#ffb100 475px)"></i>
<i style="background:linear-gradient(90deg,#ffb200 0,#ffa800 63px,#ff9600 107px,#ff7c00 139px,#ff2f00 207px,#ff4300 227px,#ff4800 241px,#ff4200 255px,#ff2e00 273px,#ff7c00 342px,#ff9500 373px,#ffa800 416px,#ffb100 475px)"></i>
<i style="background:linear-gradient(90deg,#ffb200 0,#ffa900 62px,#ff9600 107px,#ff7d00 139px,#ff2f00 212px,#ff3c00 229px,#ff4000 241px,#ff3b00 254px,#ff2e00 268px,#ff7d00 342px,#ff9500 372px,#ffa800 415px,#ffb100 475px)"></i>
<i style="background:linear-gradient(90deg,#ffb200 0,#ffa900 63px,#ff9600 108px,#ff7f00 138px,#ff3f00 199px,#ff2e00 219px,#ff3800 240px,#ff2f00 263px,#ff3f00 282px,#ff8100 345px,#ff9b00 382px,#fa0 422px,#ffb100 475px)"></i>
<i style="background:linear-gradient(90deg,#ffb200 0,#ffa900 62px,#ff9800 107px,#ff8000 139px,#ff3d00 205px,#ff2e00 228px,#ff3100 240px,#ff2e00 253px,#ff3600 267px,#ff8200 344px,#ff9a00 379px,#ffa900 420px,#ffb100 475px)"></i>
<i style="background:linear-gradient(90deg,#ffb200 0,#fa0 61px,#f90 105px,#ff8100 139px,#ff3e00 209px,#ff3400 225px,#ff3000 240px,#f30 255px,#ff3e00 272px,#ff8100 342px,#f90 375px,#ffa900 417px,#ffb200 475px)"></i>
<i style="background:linear-gradient(90deg,#ffb200 0,#fa0 60px,#ff9b00 104px,#ff8300 139px,#ff4200 208px,#ff3800 225px,#ff3500 240px,#ff3800 256px,#ff4200 273px,#ff8300 342px,#ff9a00 375px,#ffa900 417px,#ffb200 475px)"></i>
<i style="background:linear-gradient(90deg,#ffb200 0,#fa0 60px,#ff9b00 104px,#ff8400 139px,#ff4600 208px,#ff3c00 225px,#ff3900 240px,#ff3c00 256px,#ff4600 273px,#ff8400 342px,#ff9b00 376px,#fa0 418px,#ffb200 475px)"></i>
<i style="background:linear-gradient(90deg,#ffb200 0,#fa0 60px,#ff9c00 104px,#ff8500 139px,#ff4a00 207px,#ff4000 224px,#ff3d00 240px,#ff4000 256px,#ff4a00 274px,#ff8500 342px,#ff9b00 376px,#fa0 418px,#ffb200 475px)"></i>
<i style="background:linear-gradient(90deg,#ffb200 0,#ffab00 60px,#ff9c00 104px,#ff8700 139px,#ff4e00 206px,#f40 224px,#ff4100 240px,#f40 256px,#ff4d00 274px,#ff8600 341px,#ff9c00 376px,#fa0 418px,#ffb200 475px)"></i>
<i style="background:linear-gradient(90deg,#ffb200 0,#ffab00 59px,#ff9d00 103px,#f80 139px,#ff5100 206px,#ff4800 224px,#ff4500 240px,#ff4800 257px,#ff5100 275px,#ff8700 341px,#ff9c00 376px,#fa0 418px,#ffb200 475px)"></i>
<i style="background:linear-gradient(90deg,#ffb200 0,#ffab00 59px,#ff9e00 103px,#f80 140px,#ff5400 205px,#ff4b00 223px,#ff4800 240px,#ff4b00 257px,#ff5400 275px,#f80 341px,#ff9d00 377px,#ffab00 419px,#ffb200 475px)"></i>
<i style="background:linear-gradient(90deg,#ffb200 0,#ffab00 59px,#ff9e00 103px,#ff8900 140px,#ff5800 204px,#ff4f00 223px,#ff4c00 240px,#ff4e00 257px,#ff5700 276px,#ff8900 341px,#ff9e00 377px,#ffab00 419px,#ffb200 475px)"></i>
<i style="background:linear-gradient(90deg,#ffb200 0,#ffac00 59px,#ff9f00 103px,#ff8a00 140px,#ff5b00 204px,#ff5200 223px,#ff4f00 240px,#ff5200 258px,#ff5b00 277px,#ff8a00 340px,#ff9e00 377px,#ffab00 419px,#ffb200 475px)"></i>
<i style="background:linear-gradient(90deg,#ffb200 0,#ffac00 59px,#ff9f00 103px,#ff8b00 141px,#ff5e00 203px,#f50 222px,#ff5200 240px,#f50 258px,#ff5e00 278px,#ff8b00 340px,#ff9f00 377px,#ffab00 419px,#ffb200 475px)"></i>
<i style="background:linear-gradient(90deg,#ffb200 0,#ffac00 59px,#ffa000 103px,#ff8c00 141px,#ff6100 202px,#ff5800 222px,#f50 240px,#ff5800 258px,#ff6000 278px,#ff8b00 339px,#ff9f00 377px,#ffab00 419px,#ffb200 475px)"></i>
<i style="background:linear-gradient(90deg,#ffb200 0,#ffac00 58px,#ffa100 102px,#ff8c00 142px,#ff6400 201px,#ff5b00 222px,#ff5800 240px,#ff5a00 258px,#ff6300 279px,#ff8c00 339px,#ffa000 377px,#ffac00 419px,#ffb200 475px)"></i>
<i style="background:linear-gradient(90deg,#ffb200 0,#ffac00 58px,#ffa100 102px,#ff8d00 142px,#f60 200px,#ff5e00 221px,#ff5b00 240px,#ff5d00 259px,#f60 280px,#ff8d00 338px,#ffa100 378px,#ffac00 420px,#ffb200 475px)"></i>
<i style="background:linear-gradient(90deg,#ffb300 0,#ffad00 58px,#ffa200 102px,#ff9100 138px,#ff6800 200px,#ff5d00 240px,#ff6000 259px,#ff6800 281px,#ff9000 342px,#ffa100 378px,#ffac00 420px,#ffb200 475px)"></i>
<i style="background:linear-gradient(90deg,#ffb300 0,#ffad00 58px,#ffa200 102px,#ff9100 139px,#ff6a00 201px,#ff6000 240px,#ff6a00 280px,#ff9100 342px,#ffa200 378px,#ffac00 420px,#ffb200 475px)"></i>
<i style="background:linear-gradient(90deg,#ffb300 0,#ffad00 58px,#ffa200 102px,#ff9300 138px,#ff6a00 205px,#ff6200 240px,#ff6a00 276px,#ff9200 342px,#ffa200 378px,#ffac00 420px,#ffb200 475px)"></i>
<i style="background:linear-gradient(90deg,#ffb300 0,#ffad00 58px,#ffa300 102px,#ff9400 138px,#ff6b00 209px,#ff6500 240px,#ff6b00 272px,#ff9400 343px,#ffa300 378px,#ffad00 420px,#ffb200 475px)"></i>
<i style="background:linear-gradient(90deg,#ffb300 0,#ffad00 58px,#ffa300 102px,#ff9400 138px,#ff6e00 208px,#ff6700 240px,#ff6e00 273px,#ff9400 343px,#ffa300 378px,#ffad00 420px,#ffb200 475px)"></i>
<i style="background:linear-gradient(90deg,#ffb300 0,#ffad00 58px,#ffa400 102px,#ff9500 138px,#ff7000 207px,#ff6900 240px,#ff7000 273px,#ff9500 343px,#ffa300 378px,#ffad00 421px,#ffb200 475px)"></i>
<i style="background:linear-gradient(90deg,#ffb300 0,#ffad00 58px,#ffa400 102px,#ff9700 137px,#ff7300 207px,#ff6b00 240px,#ff7300 274px,#ff9600 343px,#ffa400 378px,#ffad00 421px,#ffb200 475px)"></i>
<i style="background:linear-gradient(90deg,#ffb300 0,#ffae00 57px,#ffa500 101px,#ff9700 137px,#ff7500 207px,#ff6e00 240px,#ff7500 274px,#ff9700 343px,#ffa400 378px,#ffad00 421px,#ffb200 475px)"></i>
<i style="background:linear-gradient(90deg,#ffb300 0,#ffae00 57px,#ffa500 101px,#ff9800 137px,#f70 206px,#ff7000 240px,#f70 274px,#ff9800 344px,#ffa500 379px,#ffad00 421px,#ffb300 475px)"></i>
<i style="background:linear-gradient(90deg,#ffb300 0,#ffae00 57px,#ffa500 101px,#f90 137px,#ff7900 206px,#ff7200 240px,#ff7900 275px,#f90 344px,#ffa500 379px,#ffae00 421px,#ffb300 475px)"></i>
<i style="background:linear-gradient(90deg,#ffb300 0,#ffae00 56px,#ffa600 100px,#ff9a00 136px,#ff7b00 206px,#ff7400 240px,#ff7b00 275px,#ff9a00 345px,#ffa600 380px,#ffb300 475px)"></i>
<i style="background:linear-gradient(90deg,#ffb300 0,#ffae00 56px,#ffa600 100px,#ff9b00 136px,#ff7d00 205px,#ff7600 240px,#ff7d00 275px,#ffa600 380px,#ffb300 475px)"></i>
<i style="background:linear-gradient(90deg,#ffb300 0,#ffa700 99px,#ff7f00 205px,#ff7800 240px,#ff7f00 276px,#ffa600 380px,#ffb300 475px)"></i>
<i style="background:linear-gradient(90deg,#ffb300 0,#ffa700 99px,#ff8000 205px,#ff7a00 240px,#ff8100 276px,#ffa700 381px,#ffb300 475px)"></i>
<i style="background:linear-gradient(90deg,#ffb300 0,#ffa700 99px,#ff8200 205px,#ff7c00 240px,#ff8200 276px,#ffa700 381px,#ffb300 475px)"></i>
<i style="background:linear-gradient(90deg,#ffb300 0,#ffa800 98px,#ff8400 204px,#ff7e00 240px,#ff8400 276px,#ffa800 381px,#ffb300 475px)"></i>
<i style="background:linear-gradient(90deg,#ffb300 0,#ffa800 98px,#ff8500 204px,#ff8000 240px,#ff8500 277px,#ffa800 382px,#ffb300 475px)"></i>
<i style="background:linear-gradient(90deg,#ffb300 0,#ffa900 98px,#ff8700 204px,#ff8100 240px,#ff8700 277px,#ffa800 382px,#ffb300 475px)"></i>
<i style="background:linear-gradient(90deg,#ffb300 0,#ffa900 97px,#f80 203px,#ff8300 240px,#f80 277px,#ffa900 383px,#ffb300 475px)"></i>
<i style="background:linear-gradient(90deg,#ffb300 0,#ffa900 97px,#ff8a00 203px,#ff8500 240px,#ff8a00 278px,#ffa900 383px,#ffb300 475px)"></i>
<i style="background:linear-gradient(90deg,#ffb300 0,#fa0 96px,#ff8b00 203px,#ff8600 240px,#ff8b00 278px,#ffa900 383px,#ffb300 475px)"></i>
<i style="background:linear-gradient(90deg,#ffb300 0,#fa0 96px,#ff8d00 202px,#f80 240px,#ff8c00 278px,#fa0 384px,#ffb300 475px)"></i>
<i style="background:linear-gradient(90deg,#ffb300 0,#fa0 96px,#ff8e00 202px,#ff8900 240px,#ff8e00 279px,#fa0 384px,#ffb300 475px)"></i>
<i style="background:linear-gradient(90deg,#ffb300 0,#ffab00 95px,#ff8f00 202px,#ff8a00 240px,#ff8f00 279px,#fa0 384px,#ffb300 475px)"></i>
<i style="background:linear-gradient(90deg,#ffb300 0,#ffab00 95px,#ff9000 204px,#ff8b00 240px,#ff9000 277px,#ffab00 385px,#ffb300 475px)"></i>
<i style="background:linear-gradient(90deg,#ffb300 0,#ffab00 95px,#ff9100 204px,#ff8d00 240px,#ff9100 277px,#ffab00 385px,#ffb300 475px)"></i>
<i style="background:linear-gradient(90deg,#ffb300 0,#ffab00 94px,#ff9200 203px,#ff8e00 240px,#ff9200 277px,#ffab00 385px,#ffb300 475px)"></i>
<i style="background:linear-gradient(90deg,#ffb300 0,#ffac00 94px,#ff9300 203px,#ff8f00 240px,#ff9300 278px,#ffab00 386px,#ffb300 475px)"></i>
<i style="background:linear-gradient(90deg,#ffb400 0,#ffac00 94px,#ff9400 203px,#ff9000 240px,#ff9400 278px,#ffac00 386px,#ffb300 475px)"></i>
<i style="background:linear-gradient(90deg,#ffb400 0,#ffac00 93px,#ff9500 203px,#ff9100 240px,#ff9500 278px,#ffac00 386px,#ffb300 475px)"></i>
<i style="background:linear-gradient(90deg,#ffb400 0,#ffac00 93px,#ff9600 202px,#ff9200 240px,#ff9600 278px,#ffac00 387px,#ffb300 475px)"></i>
<i style="background:linear-gradient(90deg,#ffb400 0,#ffad00 92px,#ff9700 202px,#ff9400 240px,#ff9700 278px,#ffac00 387px,#ffb300 475px)"></i>
<i style="background:linear-gradient(90deg,#ffb400 0,#ffad00 92px,#ff9800 202px,#ff9500 240px,#ff9800 279px,#ffad00 388px,#ffb300 475px)"></i>
<i style="background:linear-gradient(90deg,#ffb400 0,#ffad00 92px,#f90 202px,#ff9600 240px,#f90 279px,#ffad00 388px,#ffb300 475px)"></i>
<i style="background:linear-gradient(90deg,#ffb400 0,#ffad00 91px,#ff9a00 202px,#ff9600 240px,#ff9a00 279px,#ffad00 389px,#ffb300 475px)"></i>
<i style="background:linear-gradient(90deg,#ffb400 0,#ffad00 91px,#ff9b00 201px,#ff9700 240px,#ff9a00 279px,#ffad00 389px,#ffb400 475px)"></i>
<i style="background:linear-gradient(90deg,#ffb400 0,#ffae00 90px,#ff9b00 201px,#ff9800 240px,#ff9b00 279px,#ffae00 390px,#ffb400 475px)"></i>
<i style="background:linear-gradient(90deg,#ffb400 0,#ffae00 90px,#f90 240px,#ff9c00 280px,#ffae00 390px,#ffb400 475px)"></i>
<i style="background:linear-gradient(90deg,#ffb400 0,#ffae00 89px,#ff9a00 240px,#ff9d00 280px,#ffae00 390px,#ffb400 475px)"></i>
<i style="background:linear-gradient(90deg,#ffb400 0,#ffae00 89px,#ff9b00 240px,#ffae00 391px,#ffb400 475px)"></i>
<i style="background:linear-gradient(90deg,#ffb400 0,#ffaf00 88px,#ff9c00 240px,#ffae00 391px,#ffb400 475px)"></i>
<i style="background:linear-gradient(90deg,#ffb400 0,#ffaf00 88px,#ff9c00 240px,#ffaf00 392px,#ffb400 475px)"></i>
<i style="background:linear-gradient(90deg,#ffb400 0,#ffaf00 88px,#ff9d00 240px,#ffaf00 392px,#ffb400 475px)"></i>
<i style="background:linear-gradient(90deg,#ffb400 0,#ffaf00 87px,#ff9e00 240px,#ffaf00 393px,#ffb400 475px)"></i>
<i style="background:linear-gradient(90deg,#ffb400 0,#ffaf00 87px,#ff9e00 240px,#ffaf00 393px,#ffb400 475px)"></i>
<i style="background:linear-gradient(90deg,#ffb400 0,#ffaf00 86px,#ff9f00 240px,#ffaf00 393px,#ffb400 475px)"></i>
<i style="background:linear-gradient(90deg,#ffb400 0,#ffb000 86px,#ffa000 240px,#ffaf00 394px,#ffb400 475px)"></i>
<i style="background:linear-gradient(90deg,#ffb400 0,#ffb000 85px,#ffa000 240px,#ffb400 475px)"></i>
</div>
<svg width="700" height="544" viewBox="0 0 700 544" style="position:absolute;left:0;top:0">
<defs><linearGradient id="cb" x1="0" y1="0" x2="0" y2="1"><stop offset="0.0000" stop-color="#640000"/><stop offset="0.0462" stop-color="#a50000"/><stop offset="0.0997" stop-color="#fa0000"/><stop offset="0.1425" stop-color="#ff0600"/><stop offset="0.2068" stop-color="#ff2e00"/><stop offset="0.2603" stop-color="#ff6a00"/><stop offset="0.2871" stop-color="#ff8f00"/><stop offset="0.3138" stop-color="#ffb600"/><stop offset="0.3535" stop-color="#faf008"/><stop offset="0.3888" stop-color="#daf512"/><stop offset="0.4209" stop-color="#b6f51e"/><stop offset="0.4745" stop-color="#98f532"/><stop offset="0.5280" stop-color="#91f546"/><stop offset="0.5815" stop-color="#7af58c"/><stop offset="0.6351" stop-color="#5ff5d7"/><stop offset="0.6672" stop-color="#50f0ff"/><stop offset="0.6993" stop-color="#46c3fa"/><stop offset="0.7261" stop-color="#3c96f5"/><stop offset="0.7422" stop-color="#347df5"/><stop offset="0.7957" stop-color="#2652f5"/><stop offset="0.8492" stop-color="#1a30f8"/><stop offset="0.9028" stop-color="#141ef4"/><stop offset="0.9563" stop-color="#1012e6"/><stop offset="1.0000" stop-color="#0d0dc3"/></linearGradient>
<clipPath id="cp"><rect x="64.4" y="35.5" width="474.3" height="434.9"/></clipPath></defs>
<g clip-path="url(#cp)" fill="none" stroke-linejoin="round" stroke-linecap="round">
<path d="M305.1,254.6 330.5,269.5 348.0,280.5 355.4,285.6 362.3,290.7 368.0,295.3 373.4,300.1 378.2,305.0 382.0,309.5 385.2,314.0 388.1,318.8 390.2,323.3 391.7,328.2 392.6,333.1 392.8,337.9 392.1,343.6 390.6,349.3 388.2,355.0 384.8,360.7 380.7,366.0 375.7,371.3 370.0,376.1 363.9,380.4 357.0,384.5 350.1,387.9 342.3,390.9 334.6,393.3 326.4,395.1 318.3,396.4 309.7,397.1 301.2,397.2 293.0,396.7 284.9,395.6 276.8,393.9 269.0,391.7 261.7,389.1 254.4,385.8 247.4,382.0 241.3,377.9 235.5,373.3 230.4,368.4 225.9,363.1 222.3,357.9 219.6,352.6 217.5,346.9 216.4,341.2 216.1,335.9 216.6,331.0 217.6,326.6 219.4,321.7 221.7,317.2 224.5,312.7 228.2,307.9 232.3,303.4 237.3,298.5 243.0,293.6 249.5,288.5 256.8,283.3 265.3,277.6 280.4,268.2 304.0,254.3 304.4,254.2ZM313.4,111.5 321.6,112.4 329.3,113.8 337.0,115.8 344.4,118.2 351.3,121.1 358.2,124.5 364.7,128.5 370.4,132.6 375.7,137.1 380.4,142.0 384.2,146.9 387.5,152.2 390.0,157.5 391.7,162.7 392.6,168.4 392.7,173.7 392.2,178.2 391.0,182.7 389.3,187.1 387.0,191.6 384.1,196.1 380.7,200.5 376.6,205.0 371.6,209.9 366.4,214.4 360.7,218.9 346.8,228.7 329.7,239.4 304.4,254.2 278.4,238.9 260.5,227.6 252.7,222.2 246.2,217.4 240.5,212.7 235.1,207.9 230.4,203.0 226.3,198.1 222.9,193.2 220.4,188.8 218.3,183.9 216.9,179.0 216.2,174.1 216.2,169.2 217.1,163.1 218.9,157.5 221.6,151.8 225.3,146.1 229.9,140.5 235.2,135.3 241.3,130.5 248.2,125.9 255.2,122.2 262.9,118.8 270.6,116.2 279.2,113.9 287.8,112.4 296.3,111.5 304.9,111.2Z" stroke="#fffffa" stroke-width="4.9"/>
<g stroke="#0a0a0a" stroke-width="2.4">
<path d="M337.8,258.7 311.4,258.3 283.7,258.4 259.2,259.0 238.9,260.0 223.0,261.3 210.4,263.1 199.8,265.3 195.3,266.7 191.2,268.2 187.6,269.9 184.3,271.8 181.3,274.1 178.7,276.6 176.6,279.3 174.7,282.2 173.3,285.5 172.2,289.2 171.5,293.2 171.2,297.3 171.3,301.8 171.8,306.2 172.7,311.1 173.9,316.0 175.5,320.9 177.5,326.2 180.1,331.8 182.9,337.1 186.3,342.8 189.9,348.1 194.0,353.4 198.1,358.3 202.7,363.1 207.8,368.0 212.9,372.5 218.1,376.6 223.8,380.6 229.5,384.2 235.6,387.7 241.7,390.8 247.8,393.5 254.3,396.1 260.9,398.3 267.4,400.2 273.9,401.7 280.8,403.0 287.3,403.9 294.3,404.6 301.2,404.9 308.1,404.9 315.0,404.6 321.6,403.9 328.5,403.0 335.0,401.7 341.5,400.2 348.0,398.3 354.5,396.1 361.1,393.5 369.6,389.6 377.8,385.2 385.5,380.3 392.9,374.9 400.2,368.9 406.6,362.7 412.6,356.2 418.1,349.3 423.1,342.0 427.6,334.3 431.2,326.6 434.1,318.8 436.1,311.5 437.4,304.2 437.7,297.3 437.1,291.2 436.1,287.1 434.6,283.1 432.4,279.4 429.8,276.2 426.6,273.3 423.0,270.8 418.5,268.6 413.2,266.5 407.5,264.9 401.0,263.5 393.2,262.2 384.7,261.2 363.9,259.6ZM60.1,237.1 71.5,235.9 81.7,234.4 90.6,232.7 98.4,230.8 105.3,228.5 111.4,226.0 117.1,222.9 122.0,219.6 125.6,216.6 128.9,213.6 135.4,206.1 141.1,198.5 154.5,179.0 161.6,169.2 169.6,159.1 177.9,149.7 187.7,140.0 197.6,131.4 207.9,123.7 218.7,116.8 228.7,111.4 238.9,106.6 249.5,102.6 260.1,99.3 271.1,96.6 282.0,94.8 293.0,93.7 304.4,93.3 315.9,93.7 326.9,94.8 337.8,96.6 348.8,99.3 359.4,102.6 370.0,106.6 380.2,111.4 390.2,116.8 401.0,123.7 411.3,131.4 421.2,140.0 431.0,149.7 439.3,159.1 447.3,169.2 454.4,179.0 467.8,198.5 473.5,206.1 480.0,213.6 483.3,216.6 486.9,219.6 491.8,222.9 497.5,226.0 503.6,228.5 510.5,230.8 518.3,232.7 527.2,234.4 537.4,235.9 548.8,237.1"/>
<path d="M60.1,271.3 71.5,272.5 81.7,274.0 90.6,275.7 98.4,277.6 105.3,279.9 111.4,282.4 117.1,285.5 122.0,288.8 125.6,291.8 128.9,294.8 135.4,302.3 141.1,309.9 154.5,329.4 161.6,339.2 169.6,349.3 177.9,358.7 187.7,368.4 197.6,377.0 207.9,384.7 218.7,391.6 228.7,397.0 238.9,401.8 249.5,405.8 260.1,409.1 271.1,411.8 282.0,413.6 293.0,414.7 304.4,415.1 315.9,414.7 326.9,413.6 337.8,411.8 348.8,409.1 359.4,405.8 370.0,401.8 380.2,397.0 390.2,391.6 401.0,384.7 411.3,377.0 421.2,368.4 431.0,358.7 439.3,349.3 447.3,339.2 454.4,329.4 467.8,309.9 473.5,302.3 480.0,294.8 483.3,291.8 486.9,288.8 491.8,285.5 497.5,282.4 503.6,279.9 510.5,277.6 518.3,275.7 527.2,274.0 537.4,272.5 548.8,271.3M314.5,103.8 321.6,104.5 328.5,105.4 335.4,106.8 341.9,108.3 348.8,110.4 355.4,112.6 361.8,115.2 368.0,118.0 374.1,121.2 379.9,124.5 385.6,128.2 391.3,132.2 396.5,136.3 401.6,140.8 406.6,145.7 411.1,150.5 415.6,155.8 419.8,161.5 423.6,167.2 427.1,173.3 430.2,179.4 432.7,185.5 434.8,191.6 436.2,197.3 437.2,203.0 437.6,208.3 437.6,213.1 436.9,218.0 435.9,222.1 434.2,226.2 431.9,229.8 429.0,233.1 426.1,235.5 423.0,237.6 419.1,239.6 414.8,241.3 409.9,242.8 404.2,244.2 391.2,246.4 374.5,248.1 353.7,249.2 328.1,249.9 299.2,250.1 271.9,249.8 248.2,248.9 229.4,247.7 214.0,245.9 202.0,243.6 196.9,242.2 192.4,240.7 188.4,238.9 184.7,236.8 181.7,234.7 179.1,232.2 176.2,228.6 174.0,224.5 172.4,220.1 171.5,215.2 171.2,209.9 171.5,204.2 172.5,198.1 174.1,191.6 176.4,185.1 179.1,178.6 182.4,172.1 186.1,166.0 190.2,159.9 195.0,153.8 200.0,148.1 205.6,142.4 211.0,137.5 216.9,132.8 222.7,128.6 229.0,124.5 235.2,120.9 241.7,117.6 248.6,114.5 255.6,111.9 262.5,109.6 269.8,107.6 277.2,106.0 284.5,104.8 291.8,104.0 299.6,103.5 306.9,103.5Z"/>
<path d="M310.2,283.9 297.9,283.9 285.7,284.7 274.3,286.4 263.9,288.8 255.2,291.7 247.8,295.3 244.6,297.3 241.4,299.7 238.7,302.2 236.5,304.6 234.5,307.5 232.9,310.3 231.7,313.1 230.8,316.4 230.3,319.6 230.2,323.3 230.5,326.6 231.2,330.2 232.3,333.9 233.8,337.5 235.7,341.2 237.7,344.4 240.4,348.1 243.3,351.4 249.8,357.5 256.0,362.0 262.9,366.1 270.2,369.4 278.0,372.2 286.1,374.2 294.3,375.5 302.8,376.0 311.4,375.8 319.9,374.7 328.1,373.0 336.0,370.5 343.6,367.3 350.5,363.5 357.1,359.1 363.1,353.9 368.1,348.5 372.3,342.8 375.5,336.7 377.6,330.6 378.6,324.5 378.5,318.8 378.0,316.0 377.2,313.1 376.0,310.3 374.7,307.9 371.4,303.4 367.0,299.3 361.5,295.5 355.0,292.3 347.7,289.6 339.5,287.4 330.1,285.6 320.3,284.5ZM60.1,149.4 69.8,146.1 79.2,142.5 89.0,138.4 98.8,134.0 117.9,124.4 157.2,103.0 175.3,93.6 194.9,84.5 204.3,80.6 213.7,77.0 225.0,73.1 236.4,69.7 247.8,66.8 259.2,64.5 270.6,62.7 281.6,61.4 293.0,60.6 304.4,60.3 315.9,60.6 327.3,61.4 338.3,62.7 349.7,64.5 361.1,66.8 372.5,69.7 383.9,73.1 395.2,77.0 404.6,80.6 414.0,84.5 433.6,93.6 451.7,103.0 491.0,124.4 510.1,134.0 519.9,138.4 529.7,142.5 539.1,146.1 548.8,149.4"/>
<path d="M60.1,356.8 69.8,360.2 79.6,363.9 89.4,368.1 99.2,372.6 118.3,382.3 157.9,404.2 175.7,413.5 195.3,422.8 213.6,430.2 225.0,434.2 236.4,437.6 247.8,440.5 259.2,442.9 270.2,444.7 281.6,446.0 293.0,446.8 304.4,447.1 315.9,446.8 327.3,446.0 338.7,444.7 349.7,442.9 361.1,440.5 372.5,437.6 383.9,434.2 395.3,430.2 413.6,422.8 433.2,413.5 451.0,404.2 490.6,382.3 509.7,372.6 519.5,368.1 529.3,363.9 539.1,360.2 548.8,356.8M312.4,131.8 320.7,132.9 329.3,134.8 337.4,137.5 345.2,140.9 352.5,145.0 359.3,149.7 365.2,155.0 370.3,160.7 374.4,166.8 377.4,172.9 379.4,179.4 380.2,185.5 380.1,188.8 379.7,191.6 379.0,194.4 378.0,197.3 375.3,202.3 371.4,207.0 366.5,211.1 360.5,214.8 353.3,218.0 345.6,220.5 336.6,222.6 326.4,224.1 315.9,225.1 304.4,225.4 293.0,225.1 282.5,224.1 272.3,222.6 263.3,220.5 255.6,218.0 248.4,214.8 242.4,211.1 237.5,207.0 235.3,204.6 233.2,201.8 231.6,198.9 230.3,195.9 229.4,192.8 228.9,189.6 228.7,186.3 228.9,182.7 229.5,179.4 230.4,175.7 231.8,172.1 233.6,168.4 235.7,164.8 238.0,161.5 240.7,158.3 243.7,155.0 250.3,149.2 257.9,144.0 266.2,139.7 274.7,136.3 283.7,133.8 293.0,132.2 302.8,131.5Z"/>
<path d="M307.3,315.6 301.2,315.6 295.1,316.7 292.5,317.6 290.0,318.8 288.1,320.1 286.2,321.7 284.9,323.3 283.8,325.3 283.3,327.0 283.2,329.0 283.6,331.0 284.4,333.1 285.7,335.1 287.2,336.7 290.6,339.3 294.8,341.2 299.7,342.4 304.9,342.8 310.2,342.2 315.0,340.8 319.1,338.8 322.4,336.1 323.8,334.3 324.7,332.7 325.7,329.4 325.7,327.8 325.4,326.2 324.7,324.5 323.7,322.9 320.8,320.1 317.3,318.0 312.6,316.4ZM60.1,96.0 77.2,90.7 95.5,84.4 152.3,63.6 172.5,56.4 192.4,50.0 211.2,44.7 223.4,41.7 235.2,39.1 247.0,37.0 258.4,35.3 270.2,33.9 281.6,32.9 293.0,32.3 304.4,32.1 315.9,32.3 327.3,32.9 338.7,33.9 350.5,35.3 361.9,37.0 373.7,39.1 385.5,41.7 397.7,44.7 416.5,50.0 436.4,56.4 456.6,63.6 513.4,84.4 531.7,90.7 548.8,96.0"/>
<path d="M60.1,411.3 77.6,416.7 95.9,423.0 152.6,444.0 172.9,451.3 192.8,457.7 211.2,462.9 223.4,466.0 235.2,468.5 247.0,470.7 258.4,472.4 270.2,473.8 281.6,474.8 293.0,475.4 304.4,475.6 315.9,475.4 327.3,474.8 338.7,473.8 350.5,472.4 361.9,470.7 373.7,468.5 385.5,466.0 397.7,462.9 416.1,457.7 436.0,451.3 456.3,444.0 513.0,423.0 531.3,416.7 548.8,411.3M308.1,164.4 313.8,165.5 318.7,167.5 320.9,168.8 323.0,170.5 325.9,173.7 326.9,175.3 327.6,177.4 327.9,179.4 327.9,181.0 327.4,183.1 326.7,184.7 325.7,186.3 324.2,187.9 322.4,189.5 320.3,190.7 315.4,192.8 309.7,194.0 304.0,194.4 297.9,193.8 292.6,192.5 288.0,190.4 286.1,189.2 284.3,187.5 282.7,185.5 281.6,183.5 281.1,181.4 281.0,179.4 281.4,177.0 282.3,174.9 283.6,172.9 285.3,171.0 287.4,169.2 290.0,167.6 292.6,166.4 295.5,165.4 298.3,164.7 301.6,164.3 304.9,164.2Z"/>
<path d="M60,254.2H545"/>
</g>
<ellipse cx="304.45" cy="254.20" rx="156.07" ry="155.76" stroke="#0a0a0a" stroke-width="5.4"/>
</g>
<rect x="64.4" y="35.5" width="474.3" height="434.9" fill="none" stroke="#0a0a0a" stroke-width="2.1"/>
<rect x="562.2" y="38.8" width="26.6" height="463.8" fill="url(#cb)" stroke="#0a0a0a" stroke-width="2.4"/>
<path d="M562.2,85.1h6.5M588.8,85.1h-6.5M562.2,134.7h6.5M588.8,134.7h-6.5M562.2,184.2h6.5M588.8,184.2h-6.5M562.2,233.8h6.5M588.8,233.8h-6.5M562.2,283.4h6.5M588.8,283.4h-6.5M562.2,333.0h6.5M588.8,333.0h-6.5M562.2,382.5h6.5M588.8,382.5h-6.5M562.2,432.1h6.5M588.8,432.1h-6.5M562.2,481.7h6.5M588.8,481.7h-6.5" stroke="#0a0a0a" stroke-width="2" fill="none"/>
<g font-family='DejaVu Sans Condensed, DejaVu Sans, Liberation Sans, sans-serif' font-size="27.0" fill="#111" stroke="#111" stroke-width="0.3">
<text x="167.8" y="24.9" textLength="263.9" lengthAdjust="spacingAndGlyphs">Okubo-Weiss function</text>
<text y="25.2"><tspan x="561.9" textLength="58.9" lengthAdjust="spacingAndGlyphs">Max:</tspan> <tspan x="628.85" textLength="66.1" lengthAdjust="spacingAndGlyphs">2.931</tspan></text>
<text y="540.3"><tspan x="561.9" textLength="50.1" lengthAdjust="spacingAndGlyphs">Min:</tspan> <tspan x="622.8" textLength="76.9" lengthAdjust="spacingAndGlyphs">-6.408</tspan></text>
<text x="287.4" y="537.8" textLength="29.1" lengthAdjust="spacingAndGlyphs">kx</text>
<text transform="translate(21.7,267.8) rotate(-90)" textLength="30.7" lengthAdjust="spacingAndGlyphs">ky</text>
<text x="99.2" y="503.2" text-anchor="middle" textLength="25.6" lengthAdjust="spacingAndGlyphs">-5</text>
<text x="57.8" y="469.4" text-anchor="end" textLength="25.6" lengthAdjust="spacingAndGlyphs">-5</text>
<text x="139.9" y="503.2" text-anchor="middle" textLength="25.6" lengthAdjust="spacingAndGlyphs">-4</text>
<text x="57.8" y="428.8" text-anchor="end" textLength="25.6" lengthAdjust="spacingAndGlyphs">-4</text>
<text x="180.7" y="503.2" text-anchor="middle" textLength="25.6" lengthAdjust="spacingAndGlyphs">-3</text>
<text x="57.8" y="388.1" text-anchor="end" textLength="25.6" lengthAdjust="spacingAndGlyphs">-3</text>
<text x="221.4" y="503.2" text-anchor="middle" textLength="25.6" lengthAdjust="spacingAndGlyphs">-2</text>
<text x="57.8" y="347.5" text-anchor="end" textLength="25.6" lengthAdjust="spacingAndGlyphs">-2</text>
<text x="262.1" y="503.2" text-anchor="middle" textLength="25.6" lengthAdjust="spacingAndGlyphs">-1</text>
<text x="57.8" y="306.8" text-anchor="end" textLength="25.6" lengthAdjust="spacingAndGlyphs">-1</text>
<text x="304.6" y="503.2" text-anchor="middle" textLength="16.7" lengthAdjust="spacingAndGlyphs">0</text>
<text x="57.8" y="266.2" text-anchor="end" textLength="16.7" lengthAdjust="spacingAndGlyphs">0</text>
<text x="345.4" y="503.2" text-anchor="middle" textLength="16.7" lengthAdjust="spacingAndGlyphs">1</text>
<text x="57.8" y="225.5" text-anchor="end" textLength="16.7" lengthAdjust="spacingAndGlyphs">1</text>
<text x="386.1" y="503.2" text-anchor="middle" textLength="16.7" lengthAdjust="spacingAndGlyphs">2</text>
<text x="57.8" y="184.9" text-anchor="end" textLength="16.7" lengthAdjust="spacingAndGlyphs">2</text>
<text x="426.8" y="503.2" text-anchor="middle" textLength="16.7" lengthAdjust="spacingAndGlyphs">3</text>
<text x="57.8" y="144.2" text-anchor="end" textLength="16.7" lengthAdjust="spacingAndGlyphs">3</text>
<text x="467.6" y="503.2" text-anchor="middle" textLength="16.7" lengthAdjust="spacingAndGlyphs">4</text>
<text x="57.8" y="103.6" text-anchor="end" textLength="16.7" lengthAdjust="spacingAndGlyphs">4</text>
<text x="508.3" y="503.2" text-anchor="middle" textLength="16.7" lengthAdjust="spacingAndGlyphs">5</text>
<text x="57.8" y="62.9" text-anchor="end" textLength="16.7" lengthAdjust="spacingAndGlyphs">5</text>
<text x="592.1" y="96.5" textLength="16.7" lengthAdjust="spacingAndGlyphs">2</text>
<text x="592.1" y="146.2" textLength="16.7" lengthAdjust="spacingAndGlyphs">1</text>
<text x="592.1" y="195.9" textLength="16.7" lengthAdjust="spacingAndGlyphs">0</text>
<text x="592.1" y="245.6" textLength="24.6" lengthAdjust="spacingAndGlyphs">-1</text>
<text x="592.1" y="295.2" textLength="24.6" lengthAdjust="spacingAndGlyphs">-2</text>
<text x="592.1" y="344.9" textLength="24.6" lengthAdjust="spacingAndGlyphs">-3</text>
<text x="592.1" y="394.6" textLength="24.6" lengthAdjust="spacingAndGlyphs">-4</text>
<text x="592.1" y="444.3" textLength="24.6" lengthAdjust="spacingAndGlyphs">-5</text>
<text x="592.1" y="494.0" textLength="24.6" lengthAdjust="spacingAndGlyphs">-6</text>
</g></svg>
</body></html>
